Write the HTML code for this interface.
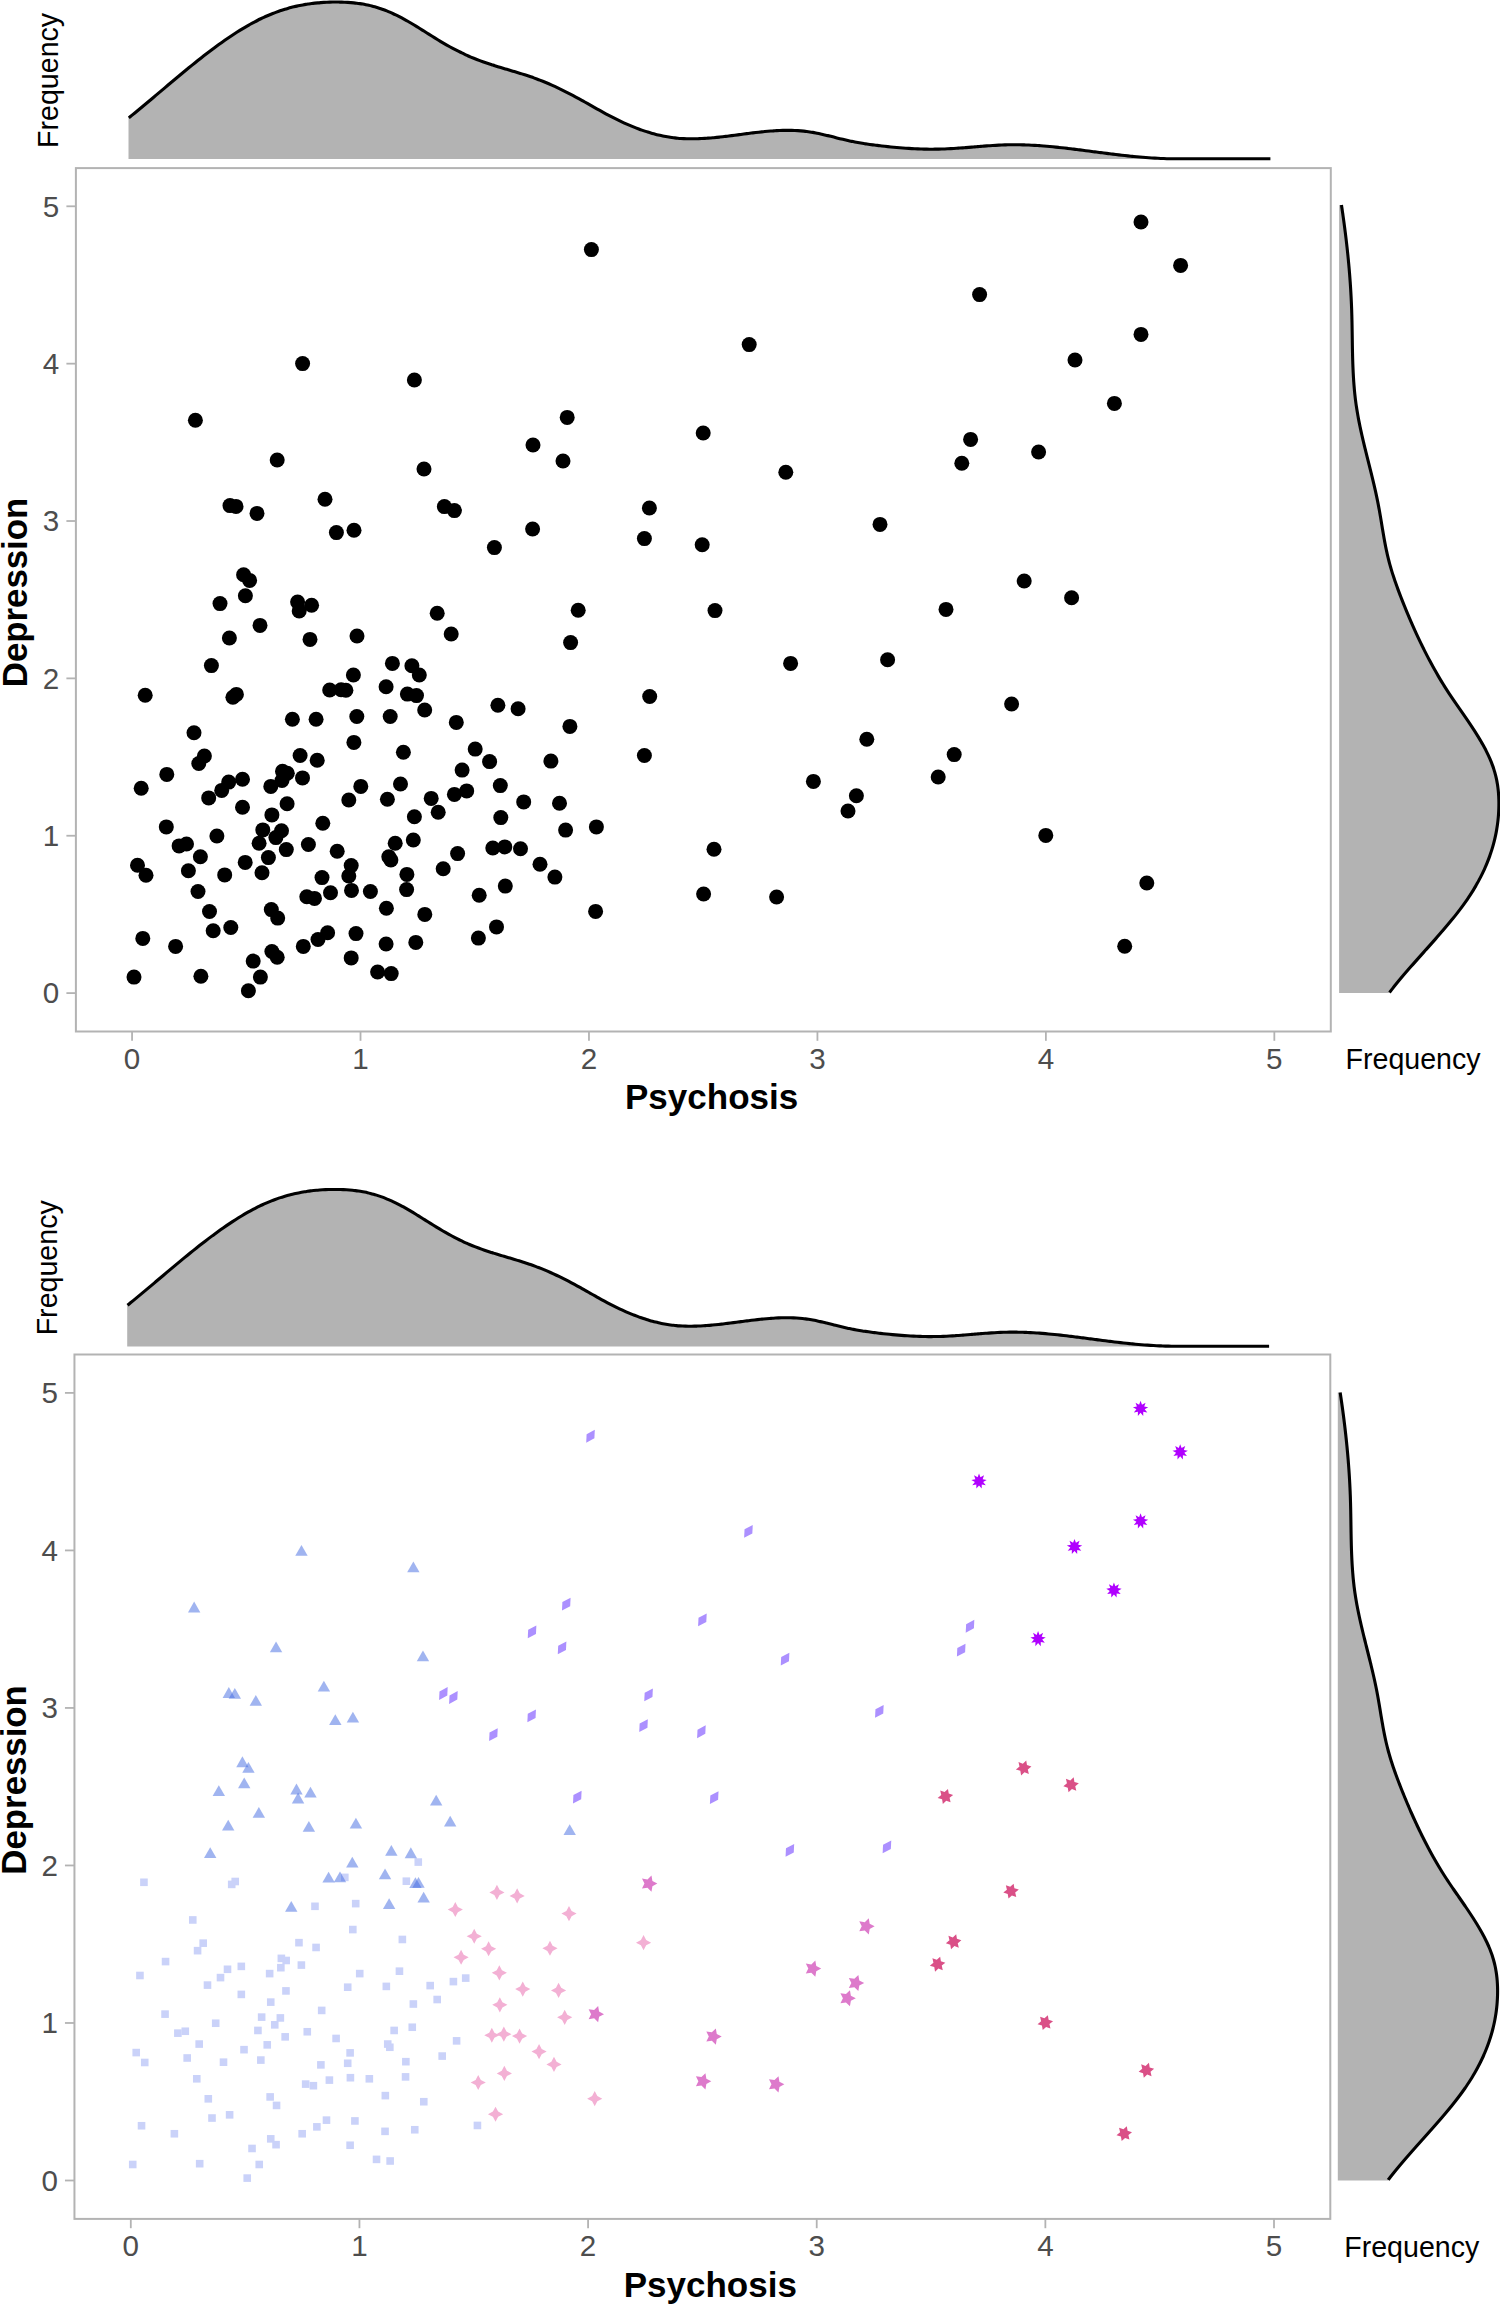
<!DOCTYPE html><html><head><meta charset="utf-8"><title>Psychosis vs Depression</title><style>html,body{margin:0;padding:0;background:#fff;overflow:hidden;}svg{display:block;}</style></head><body>
<svg width="1500" height="2304" viewBox="0 0 1500 2304">
<rect width="1500" height="2304" fill="#fff"/>
<g transform="translate(0,0)">
<path d="M128.80,117.86 C129.30,117.45 130.80,116.24 131.80,115.42 C132.80,114.60 133.80,113.78 134.80,112.96 C135.80,112.14 136.80,111.32 137.80,110.49 C138.80,109.66 139.80,108.83 140.80,108.00 C141.80,107.17 142.80,106.34 143.80,105.50 C144.80,104.66 145.80,103.83 146.80,102.99 C147.80,102.15 148.80,101.31 149.80,100.47 C150.80,99.63 151.80,98.79 152.80,97.95 C153.80,97.11 154.80,96.27 155.80,95.42 C156.80,94.58 157.80,93.72 158.80,92.88 C159.80,92.03 160.80,91.19 161.80,90.35 C162.80,89.51 163.80,88.66 164.80,87.82 C165.80,86.97 166.80,86.12 167.80,85.28 C168.80,84.44 169.80,83.60 170.80,82.76 C171.80,81.92 172.80,81.08 173.80,80.24 C174.80,79.40 175.80,78.56 176.80,77.73 C177.80,76.90 178.80,76.06 179.80,75.23 C180.80,74.40 181.80,73.57 182.80,72.74 C183.80,71.91 184.80,71.09 185.80,70.27 C186.80,69.45 187.80,68.63 188.80,67.81 C189.80,66.99 190.80,66.18 191.80,65.37 C192.80,64.56 193.80,63.75 194.80,62.95 C195.80,62.15 196.80,61.35 197.80,60.56 C198.80,59.77 199.80,58.98 200.80,58.19 C201.80,57.40 202.80,56.62 203.80,55.84 C204.80,55.06 205.80,54.29 206.80,53.52 C207.80,52.75 208.80,51.99 209.80,51.23 C210.80,50.47 211.80,49.73 212.80,48.98 C213.80,48.23 214.80,47.48 215.80,46.75 C216.80,46.02 217.80,45.29 218.80,44.57 C219.80,43.85 220.80,43.13 221.80,42.42 C222.80,41.71 223.80,41.01 224.80,40.31 C225.80,39.61 226.80,38.92 227.80,38.24 C228.80,37.56 229.80,36.88 230.80,36.21 C231.80,35.54 232.80,34.88 233.80,34.23 C234.80,33.58 235.80,32.94 236.80,32.30 C237.80,31.66 238.80,31.03 239.80,30.41 C240.80,29.79 241.80,29.18 242.80,28.58 C243.80,27.98 244.80,27.39 245.80,26.80 C246.80,26.21 247.80,25.64 248.80,25.07 C249.80,24.50 250.80,23.95 251.80,23.41 C252.80,22.87 253.80,22.33 254.80,21.80 C255.80,21.27 256.80,20.76 257.80,20.25 C258.80,19.74 259.80,19.25 260.80,18.76 C261.80,18.28 262.80,17.80 263.80,17.34 C264.80,16.88 265.80,16.42 266.80,15.98 C267.80,15.54 268.80,15.12 269.80,14.70 C270.80,14.28 271.80,13.88 272.80,13.48 C273.80,13.09 274.80,12.70 275.80,12.33 C276.80,11.96 277.80,11.60 278.80,11.25 C279.80,10.90 280.80,10.57 281.80,10.24 C282.80,9.91 283.80,9.59 284.80,9.29 C285.80,8.98 286.80,8.69 287.80,8.41 C288.80,8.13 289.80,7.85 290.80,7.59 C291.80,7.33 292.80,7.07 293.80,6.83 C294.80,6.59 295.80,6.35 296.80,6.13 C297.80,5.91 298.80,5.70 299.80,5.50 C300.80,5.30 301.80,5.11 302.80,4.92 C303.80,4.73 304.80,4.55 305.80,4.39 C306.80,4.22 307.80,4.08 308.80,3.93 C309.80,3.78 310.80,3.64 311.80,3.51 C312.80,3.38 313.80,3.27 314.80,3.16 C315.80,3.05 316.80,2.95 317.80,2.85 C318.80,2.75 319.80,2.67 320.80,2.59 C321.80,2.51 322.80,2.45 323.80,2.39 C324.80,2.33 325.80,2.27 326.80,2.23 C327.80,2.19 328.80,2.15 329.80,2.12 C330.80,2.09 331.80,2.06 332.80,2.05 C333.80,2.03 334.80,2.03 335.80,2.03 C336.80,2.03 337.80,2.04 338.80,2.06 C339.80,2.08 340.80,2.09 341.80,2.12 C342.80,2.15 343.80,2.19 344.80,2.23 C345.80,2.27 346.80,2.33 347.80,2.39 C348.80,2.45 349.80,2.52 350.80,2.60 C351.80,2.68 352.80,2.78 353.80,2.88 C354.80,2.98 355.80,3.09 356.80,3.21 C357.80,3.33 358.80,3.47 359.80,3.62 C360.80,3.77 361.80,3.92 362.80,4.09 C363.80,4.26 364.80,4.45 365.80,4.65 C366.80,4.85 367.80,5.05 368.80,5.28 C369.80,5.51 370.80,5.75 371.80,6.01 C372.80,6.27 373.80,6.54 374.80,6.82 C375.80,7.11 376.80,7.41 377.80,7.72 C378.80,8.03 379.80,8.36 380.80,8.70 C381.80,9.04 382.80,9.40 383.80,9.77 C384.80,10.14 385.80,10.53 386.80,10.93 C387.80,11.33 388.80,11.74 389.80,12.17 C390.80,12.60 391.80,13.03 392.80,13.48 C393.80,13.93 394.80,14.40 395.80,14.88 C396.80,15.36 397.80,15.85 398.80,16.36 C399.80,16.87 400.80,17.39 401.80,17.92 C402.80,18.45 403.80,19.00 404.80,19.55 C405.80,20.10 406.80,20.67 407.80,21.24 C408.80,21.81 409.80,22.40 410.80,22.99 C411.80,23.58 412.80,24.18 413.80,24.78 C414.80,25.39 415.80,26.00 416.80,26.62 C417.80,27.24 418.80,27.86 419.80,28.48 C420.80,29.10 421.80,29.73 422.80,30.36 C423.80,30.99 424.80,31.62 425.80,32.25 C426.80,32.88 427.80,33.51 428.80,34.14 C429.80,34.77 430.80,35.40 431.80,36.02 C432.80,36.65 433.80,37.27 434.80,37.89 C435.80,38.51 436.80,39.13 437.80,39.74 C438.80,40.35 439.80,40.95 440.80,41.55 C441.80,42.15 442.80,42.74 443.80,43.32 C444.80,43.90 445.80,44.48 446.80,45.05 C447.80,45.62 448.80,46.18 449.80,46.73 C450.80,47.28 451.80,47.82 452.80,48.36 C453.80,48.90 454.80,49.43 455.80,49.95 C456.80,50.47 457.80,50.98 458.80,51.48 C459.80,51.98 460.80,52.48 461.80,52.96 C462.80,53.45 463.80,53.92 464.80,54.39 C465.80,54.86 466.80,55.30 467.80,55.75 C468.80,56.20 469.80,56.64 470.80,57.06 C471.80,57.48 472.80,57.89 473.80,58.30 C474.80,58.70 475.80,59.10 476.80,59.49 C477.80,59.88 478.80,60.26 479.80,60.63 C480.80,61.00 481.80,61.36 482.80,61.72 C483.80,62.08 484.80,62.43 485.80,62.77 C486.80,63.11 487.80,63.45 488.80,63.78 C489.80,64.11 490.80,64.44 491.80,64.76 C492.80,65.08 493.80,65.41 494.80,65.72 C495.80,66.03 496.80,66.34 497.80,66.65 C498.80,66.96 499.80,67.26 500.80,67.56 C501.80,67.86 502.80,68.17 503.80,68.47 C504.80,68.77 505.80,69.06 506.80,69.36 C507.80,69.66 508.80,69.95 509.80,70.25 C510.80,70.55 511.80,70.84 512.80,71.14 C513.80,71.44 514.80,71.75 515.80,72.05 C516.80,72.35 517.80,72.65 518.80,72.96 C519.80,73.27 520.80,73.58 521.80,73.89 C522.80,74.20 523.80,74.52 524.80,74.84 C525.80,75.16 526.80,75.48 527.80,75.81 C528.80,76.14 529.80,76.48 530.80,76.82 C531.80,77.16 532.80,77.50 533.80,77.86 C534.80,78.22 535.80,78.58 536.80,78.95 C537.80,79.32 538.80,79.69 539.80,80.08 C540.80,80.47 541.80,80.86 542.80,81.26 C543.80,81.66 544.80,82.07 545.80,82.49 C546.80,82.91 547.80,83.33 548.80,83.76 C549.80,84.19 550.80,84.63 551.80,85.08 C552.80,85.53 553.80,85.99 554.80,86.45 C555.80,86.91 556.80,87.38 557.80,87.85 C558.80,88.32 559.80,88.80 560.80,89.29 C561.80,89.78 562.80,90.27 563.80,90.77 C564.80,91.27 565.80,91.78 566.80,92.29 C567.80,92.80 568.80,93.32 569.80,93.84 C570.80,94.36 571.80,94.89 572.80,95.42 C573.80,95.95 574.80,96.48 575.80,97.02 C576.80,97.56 577.80,98.11 578.80,98.66 C579.80,99.21 580.80,99.76 581.80,100.32 C582.80,100.88 583.80,101.44 584.80,102.00 C585.80,102.56 586.80,103.12 587.80,103.69 C588.80,104.25 589.80,104.82 590.80,105.39 C591.80,105.96 592.80,106.53 593.80,107.09 C594.80,107.66 595.80,108.22 596.80,108.78 C597.80,109.34 598.80,109.91 599.80,110.47 C600.80,111.03 601.80,111.58 602.80,112.13 C603.80,112.68 604.80,113.23 605.80,113.77 C606.80,114.31 607.80,114.85 608.80,115.38 C609.80,115.91 610.80,116.43 611.80,116.95 C612.80,117.47 613.80,117.98 614.80,118.48 C615.80,118.98 616.80,119.47 617.80,119.96 C618.80,120.45 619.80,120.93 620.80,121.40 C621.80,121.87 622.80,122.34 623.80,122.80 C624.80,123.26 625.80,123.71 626.80,124.15 C627.80,124.59 628.80,125.02 629.80,125.44 C630.80,125.86 631.80,126.28 632.80,126.69 C633.80,127.10 634.80,127.49 635.80,127.88 C636.80,128.27 637.80,128.65 638.80,129.02 C639.80,129.39 640.80,129.76 641.80,130.11 C642.80,130.46 643.80,130.80 644.80,131.13 C645.80,131.46 646.80,131.79 647.80,132.10 C648.80,132.41 649.80,132.72 650.80,133.01 C651.80,133.30 652.80,133.58 653.80,133.85 C654.80,134.12 655.80,134.38 656.80,134.63 C657.80,134.88 658.80,135.12 659.80,135.35 C660.80,135.58 661.80,135.79 662.80,136.00 C663.80,136.21 664.80,136.40 665.80,136.58 C666.80,136.76 667.80,136.93 668.80,137.09 C669.80,137.25 670.80,137.39 671.80,137.52 C672.80,137.65 673.80,137.78 674.80,137.89 C675.80,138.00 676.80,138.10 677.80,138.19 C678.80,138.28 679.80,138.36 680.80,138.43 C681.80,138.50 682.80,138.55 683.80,138.60 C684.80,138.65 685.80,138.69 686.80,138.72 C687.80,138.75 688.80,138.77 689.80,138.78 C690.80,138.79 691.80,138.79 692.80,138.79 C693.80,138.78 694.80,138.77 695.80,138.75 C696.80,138.73 697.80,138.70 698.80,138.67 C699.80,138.63 700.80,138.59 701.80,138.54 C702.80,138.49 703.80,138.44 704.80,138.38 C705.80,138.32 706.80,138.24 707.80,138.17 C708.80,138.10 709.80,138.02 710.80,137.94 C711.80,137.86 712.80,137.76 713.80,137.67 C714.80,137.58 715.80,137.48 716.80,137.38 C717.80,137.28 718.80,137.17 719.80,137.06 C720.80,136.95 721.80,136.84 722.80,136.72 C723.80,136.60 724.80,136.49 725.80,136.37 C726.80,136.25 727.80,136.12 728.80,136.00 C729.80,135.88 730.80,135.75 731.80,135.62 C732.80,135.49 733.80,135.36 734.80,135.23 C735.80,135.10 736.80,134.97 737.80,134.84 C738.80,134.71 739.80,134.57 740.80,134.44 C741.80,134.31 742.80,134.17 743.80,134.04 C744.80,133.91 745.80,133.78 746.80,133.65 C747.80,133.52 748.80,133.40 749.80,133.27 C750.80,133.15 751.80,133.02 752.80,132.90 C753.80,132.78 754.80,132.66 755.80,132.54 C756.80,132.42 757.80,132.30 758.80,132.19 C759.80,132.08 760.80,131.97 761.80,131.87 C762.80,131.77 763.80,131.67 764.80,131.57 C765.80,131.47 766.80,131.38 767.80,131.29 C768.80,131.20 769.80,131.12 770.80,131.05 C771.80,130.98 772.80,130.91 773.80,130.84 C774.80,130.78 775.80,130.71 776.80,130.66 C777.80,130.61 778.80,130.56 779.80,130.52 C780.80,130.48 781.80,130.44 782.80,130.42 C783.80,130.39 784.80,130.38 785.80,130.37 C786.80,130.36 787.80,130.36 788.80,130.36 C789.80,130.37 790.80,130.38 791.80,130.40 C792.80,130.42 793.80,130.46 794.80,130.50 C795.80,130.54 796.80,130.60 797.80,130.66 C798.80,130.72 799.80,130.80 800.80,130.88 C801.80,130.96 802.80,131.06 803.80,131.16 C804.80,131.26 805.80,131.37 806.80,131.50 C807.80,131.63 808.80,131.77 809.80,131.92 C810.80,132.07 811.80,132.23 812.80,132.40 C813.80,132.57 814.80,132.76 815.80,132.95 C816.80,133.14 817.80,133.35 818.80,133.56 C819.80,133.77 820.80,134.00 821.80,134.22 C822.80,134.44 823.80,134.68 824.80,134.91 C825.80,135.14 826.80,135.39 827.80,135.63 C828.80,135.87 829.80,136.12 830.80,136.37 C831.80,136.62 832.80,136.87 833.80,137.12 C834.80,137.37 835.80,137.63 836.80,137.88 C837.80,138.13 838.80,138.38 839.80,138.63 C840.80,138.88 841.80,139.13 842.80,139.37 C843.80,139.61 844.80,139.85 845.80,140.08 C846.80,140.31 847.80,140.54 848.80,140.76 C849.80,140.98 850.80,141.18 851.80,141.39 C852.80,141.59 853.80,141.80 854.80,141.99 C855.80,142.18 856.80,142.36 857.80,142.54 C858.80,142.72 859.80,142.89 860.80,143.06 C861.80,143.23 862.80,143.39 863.80,143.55 C864.80,143.71 865.80,143.85 866.80,144.00 C867.80,144.15 868.80,144.29 869.80,144.43 C870.80,144.57 871.80,144.71 872.80,144.84 C873.80,144.97 874.80,145.09 875.80,145.22 C876.80,145.34 877.80,145.47 878.80,145.59 C879.80,145.71 880.80,145.82 881.80,145.94 C882.80,146.06 883.80,146.17 884.80,146.28 C885.80,146.39 886.80,146.50 887.80,146.61 C888.80,146.72 889.80,146.82 890.80,146.92 C891.80,147.02 892.80,147.12 893.80,147.21 C894.80,147.31 895.80,147.40 896.80,147.49 C897.80,147.58 898.80,147.67 899.80,147.75 C900.80,147.83 901.80,147.91 902.80,147.99 C903.80,148.07 904.80,148.14 905.80,148.21 C906.80,148.28 907.80,148.35 908.80,148.41 C909.80,148.47 910.80,148.53 911.80,148.59 C912.80,148.65 913.80,148.70 914.80,148.75 C915.80,148.80 916.80,148.84 917.80,148.88 C918.80,148.92 919.80,148.96 920.80,148.99 C921.80,149.02 922.80,149.06 923.80,149.08 C924.80,149.11 925.80,149.12 926.80,149.14 C927.80,149.16 928.80,149.17 929.80,149.18 C930.80,149.19 931.80,149.18 932.80,149.18 C933.80,149.18 934.80,149.17 935.80,149.16 C936.80,149.15 937.80,149.13 938.80,149.11 C939.80,149.09 940.80,149.07 941.80,149.04 C942.80,149.01 943.80,148.97 944.80,148.93 C945.80,148.89 946.80,148.84 947.80,148.79 C948.80,148.74 949.80,148.69 950.80,148.64 C951.80,148.58 952.80,148.52 953.80,148.46 C954.80,148.40 955.80,148.33 956.80,148.26 C957.80,148.19 958.80,148.12 959.80,148.05 C960.80,147.98 961.80,147.91 962.80,147.83 C963.80,147.75 964.80,147.68 965.80,147.60 C966.80,147.52 967.80,147.44 968.80,147.36 C969.80,147.28 970.80,147.20 971.80,147.12 C972.80,147.04 973.80,146.95 974.80,146.87 C975.80,146.79 976.80,146.70 977.80,146.62 C978.80,146.54 979.80,146.46 980.80,146.38 C981.80,146.30 982.80,146.23 983.80,146.15 C984.80,146.07 985.80,145.99 986.80,145.92 C987.80,145.85 988.80,145.78 989.80,145.71 C990.80,145.64 991.80,145.57 992.80,145.51 C993.80,145.45 994.80,145.39 995.80,145.33 C996.80,145.27 997.80,145.21 998.80,145.16 C999.80,145.11 1000.80,145.06 1001.80,145.02 C1002.80,144.98 1003.80,144.94 1004.80,144.91 C1005.80,144.88 1006.80,144.84 1007.80,144.82 C1008.80,144.80 1009.80,144.78 1010.80,144.77 C1011.80,144.76 1012.80,144.74 1013.80,144.74 C1014.80,144.74 1015.80,144.74 1016.80,144.75 C1017.80,144.76 1018.80,144.76 1019.80,144.78 C1020.80,144.80 1021.80,144.82 1022.80,144.85 C1023.80,144.88 1024.80,144.91 1025.80,144.94 C1026.80,144.97 1027.80,145.02 1028.80,145.06 C1029.80,145.10 1030.80,145.15 1031.80,145.20 C1032.80,145.25 1033.80,145.31 1034.80,145.37 C1035.80,145.43 1036.80,145.49 1037.80,145.56 C1038.80,145.63 1039.80,145.70 1040.80,145.77 C1041.80,145.84 1042.80,145.92 1043.80,146.00 C1044.80,146.08 1045.80,146.16 1046.80,146.25 C1047.80,146.34 1048.80,146.43 1049.80,146.52 C1050.80,146.61 1051.80,146.70 1052.80,146.80 C1053.80,146.90 1054.80,147.00 1055.80,147.10 C1056.80,147.20 1057.80,147.31 1058.80,147.42 C1059.80,147.53 1060.80,147.64 1061.80,147.75 C1062.80,147.86 1063.80,147.97 1064.80,148.08 C1065.80,148.19 1066.80,148.31 1067.80,148.43 C1068.80,148.55 1069.80,148.67 1070.80,148.79 C1071.80,148.91 1072.80,149.04 1073.80,149.16 C1074.80,149.28 1075.80,149.41 1076.80,149.53 C1077.80,149.66 1078.80,149.78 1079.80,149.91 C1080.80,150.04 1081.80,150.17 1082.80,150.30 C1083.80,150.43 1084.80,150.55 1085.80,150.68 C1086.80,150.81 1087.80,150.94 1088.80,151.07 C1089.80,151.20 1090.80,151.34 1091.80,151.47 C1092.80,151.60 1093.80,151.73 1094.80,151.86 C1095.80,151.99 1096.80,152.12 1097.80,152.25 C1098.80,152.38 1099.80,152.51 1100.80,152.64 C1101.80,152.77 1102.80,152.89 1103.80,153.02 C1104.80,153.15 1105.80,153.28 1106.80,153.41 C1107.80,153.54 1108.80,153.66 1109.80,153.79 C1110.80,153.91 1111.80,154.04 1112.80,154.16 C1113.80,154.28 1114.80,154.40 1115.80,154.52 C1116.80,154.64 1117.80,154.76 1118.80,154.88 C1119.80,155.00 1120.80,155.12 1121.80,155.23 C1122.80,155.34 1123.80,155.45 1124.80,155.56 C1125.80,155.67 1126.80,155.78 1127.80,155.89 C1128.80,156.00 1129.80,156.10 1130.80,156.20 C1131.80,156.30 1132.80,156.40 1133.80,156.50 C1134.80,156.60 1135.80,156.70 1136.80,156.79 C1137.80,156.88 1138.80,156.97 1139.80,157.06 C1140.80,157.15 1141.80,157.23 1142.80,157.31 C1143.80,157.39 1144.80,157.47 1145.80,157.55 C1146.80,157.63 1147.80,157.70 1148.80,157.77 C1149.80,157.84 1150.80,157.90 1151.80,157.96 C1152.80,158.02 1153.80,158.08 1154.80,158.14 C1155.80,158.20 1156.80,158.25 1157.80,158.30 C1158.80,158.35 1159.80,158.40 1160.80,158.44 C1161.80,158.48 1162.80,158.53 1163.80,158.57 C1164.80,158.61 1165.80,158.65 1166.80,158.68 C1167.80,158.71 1168.80,158.75 1169.80,158.77 C1170.80,158.79 1171.80,158.80 1172.80,158.80 C1173.80,158.81 1174.80,158.80 1175.80,158.80 C1176.80,158.80 1177.80,158.80 1178.80,158.80 C1179.80,158.80 1180.80,158.80 1181.80,158.80 C1182.80,158.80 1183.80,158.80 1184.80,158.80 C1185.80,158.80 1186.80,158.80 1187.80,158.80 C1188.80,158.80 1189.80,158.80 1190.80,158.80 C1191.80,158.80 1192.80,158.80 1193.80,158.80 C1194.80,158.80 1195.80,158.80 1196.80,158.80 C1197.80,158.80 1198.80,158.80 1199.80,158.80 C1200.80,158.80 1201.80,158.80 1202.80,158.80 C1203.80,158.80 1204.80,158.80 1205.80,158.80 C1206.80,158.80 1207.80,158.80 1208.80,158.80 C1209.80,158.80 1210.80,158.80 1211.80,158.80 C1212.80,158.80 1213.80,158.80 1214.80,158.80 C1215.80,158.80 1216.80,158.80 1217.80,158.80 C1218.80,158.80 1219.80,158.80 1220.80,158.80 C1221.80,158.80 1222.80,158.80 1223.80,158.80 C1224.80,158.80 1225.80,158.80 1226.80,158.80 C1227.80,158.80 1228.80,158.80 1229.80,158.80 C1230.80,158.80 1231.80,158.80 1232.80,158.80 C1233.80,158.80 1234.80,158.80 1235.80,158.80 C1236.80,158.80 1237.80,158.80 1238.80,158.80 C1239.80,158.80 1240.80,158.80 1241.80,158.80 C1242.80,158.80 1243.80,158.80 1244.80,158.80 C1245.80,158.80 1246.80,158.80 1247.80,158.80 C1248.80,158.80 1249.80,158.80 1250.80,158.80 C1251.80,158.80 1252.80,158.80 1253.80,158.80 C1254.80,158.80 1255.80,158.80 1256.80,158.80 C1257.80,158.80 1258.80,158.80 1259.80,158.80 C1260.80,158.80 1261.80,158.80 1262.80,158.80 C1263.80,158.80 1264.80,158.80 1265.80,158.80 C1266.80,158.80 1268.03,158.80 1268.80,158.80 C1269.57,158.80 1270.13,158.80 1270.40,158.80 L1270.40,159 L128.5,159 L128.5,118.36 Z" fill="#B3B3B3"/>
<path d="M128.80,117.86 C129.30,117.45 130.80,116.24 131.80,115.42 C132.80,114.60 133.80,113.78 134.80,112.96 C135.80,112.14 136.80,111.32 137.80,110.49 C138.80,109.66 139.80,108.83 140.80,108.00 C141.80,107.17 142.80,106.34 143.80,105.50 C144.80,104.66 145.80,103.83 146.80,102.99 C147.80,102.15 148.80,101.31 149.80,100.47 C150.80,99.63 151.80,98.79 152.80,97.95 C153.80,97.11 154.80,96.27 155.80,95.42 C156.80,94.58 157.80,93.72 158.80,92.88 C159.80,92.03 160.80,91.19 161.80,90.35 C162.80,89.51 163.80,88.66 164.80,87.82 C165.80,86.97 166.80,86.12 167.80,85.28 C168.80,84.44 169.80,83.60 170.80,82.76 C171.80,81.92 172.80,81.08 173.80,80.24 C174.80,79.40 175.80,78.56 176.80,77.73 C177.80,76.90 178.80,76.06 179.80,75.23 C180.80,74.40 181.80,73.57 182.80,72.74 C183.80,71.91 184.80,71.09 185.80,70.27 C186.80,69.45 187.80,68.63 188.80,67.81 C189.80,66.99 190.80,66.18 191.80,65.37 C192.80,64.56 193.80,63.75 194.80,62.95 C195.80,62.15 196.80,61.35 197.80,60.56 C198.80,59.77 199.80,58.98 200.80,58.19 C201.80,57.40 202.80,56.62 203.80,55.84 C204.80,55.06 205.80,54.29 206.80,53.52 C207.80,52.75 208.80,51.99 209.80,51.23 C210.80,50.47 211.80,49.73 212.80,48.98 C213.80,48.23 214.80,47.48 215.80,46.75 C216.80,46.02 217.80,45.29 218.80,44.57 C219.80,43.85 220.80,43.13 221.80,42.42 C222.80,41.71 223.80,41.01 224.80,40.31 C225.80,39.61 226.80,38.92 227.80,38.24 C228.80,37.56 229.80,36.88 230.80,36.21 C231.80,35.54 232.80,34.88 233.80,34.23 C234.80,33.58 235.80,32.94 236.80,32.30 C237.80,31.66 238.80,31.03 239.80,30.41 C240.80,29.79 241.80,29.18 242.80,28.58 C243.80,27.98 244.80,27.39 245.80,26.80 C246.80,26.21 247.80,25.64 248.80,25.07 C249.80,24.50 250.80,23.95 251.80,23.41 C252.80,22.87 253.80,22.33 254.80,21.80 C255.80,21.27 256.80,20.76 257.80,20.25 C258.80,19.74 259.80,19.25 260.80,18.76 C261.80,18.28 262.80,17.80 263.80,17.34 C264.80,16.88 265.80,16.42 266.80,15.98 C267.80,15.54 268.80,15.12 269.80,14.70 C270.80,14.28 271.80,13.88 272.80,13.48 C273.80,13.09 274.80,12.70 275.80,12.33 C276.80,11.96 277.80,11.60 278.80,11.25 C279.80,10.90 280.80,10.57 281.80,10.24 C282.80,9.91 283.80,9.59 284.80,9.29 C285.80,8.98 286.80,8.69 287.80,8.41 C288.80,8.13 289.80,7.85 290.80,7.59 C291.80,7.33 292.80,7.07 293.80,6.83 C294.80,6.59 295.80,6.35 296.80,6.13 C297.80,5.91 298.80,5.70 299.80,5.50 C300.80,5.30 301.80,5.11 302.80,4.92 C303.80,4.73 304.80,4.55 305.80,4.39 C306.80,4.22 307.80,4.08 308.80,3.93 C309.80,3.78 310.80,3.64 311.80,3.51 C312.80,3.38 313.80,3.27 314.80,3.16 C315.80,3.05 316.80,2.95 317.80,2.85 C318.80,2.75 319.80,2.67 320.80,2.59 C321.80,2.51 322.80,2.45 323.80,2.39 C324.80,2.33 325.80,2.27 326.80,2.23 C327.80,2.19 328.80,2.15 329.80,2.12 C330.80,2.09 331.80,2.06 332.80,2.05 C333.80,2.03 334.80,2.03 335.80,2.03 C336.80,2.03 337.80,2.04 338.80,2.06 C339.80,2.08 340.80,2.09 341.80,2.12 C342.80,2.15 343.80,2.19 344.80,2.23 C345.80,2.27 346.80,2.33 347.80,2.39 C348.80,2.45 349.80,2.52 350.80,2.60 C351.80,2.68 352.80,2.78 353.80,2.88 C354.80,2.98 355.80,3.09 356.80,3.21 C357.80,3.33 358.80,3.47 359.80,3.62 C360.80,3.77 361.80,3.92 362.80,4.09 C363.80,4.26 364.80,4.45 365.80,4.65 C366.80,4.85 367.80,5.05 368.80,5.28 C369.80,5.51 370.80,5.75 371.80,6.01 C372.80,6.27 373.80,6.54 374.80,6.82 C375.80,7.11 376.80,7.41 377.80,7.72 C378.80,8.03 379.80,8.36 380.80,8.70 C381.80,9.04 382.80,9.40 383.80,9.77 C384.80,10.14 385.80,10.53 386.80,10.93 C387.80,11.33 388.80,11.74 389.80,12.17 C390.80,12.60 391.80,13.03 392.80,13.48 C393.80,13.93 394.80,14.40 395.80,14.88 C396.80,15.36 397.80,15.85 398.80,16.36 C399.80,16.87 400.80,17.39 401.80,17.92 C402.80,18.45 403.80,19.00 404.80,19.55 C405.80,20.10 406.80,20.67 407.80,21.24 C408.80,21.81 409.80,22.40 410.80,22.99 C411.80,23.58 412.80,24.18 413.80,24.78 C414.80,25.39 415.80,26.00 416.80,26.62 C417.80,27.24 418.80,27.86 419.80,28.48 C420.80,29.10 421.80,29.73 422.80,30.36 C423.80,30.99 424.80,31.62 425.80,32.25 C426.80,32.88 427.80,33.51 428.80,34.14 C429.80,34.77 430.80,35.40 431.80,36.02 C432.80,36.65 433.80,37.27 434.80,37.89 C435.80,38.51 436.80,39.13 437.80,39.74 C438.80,40.35 439.80,40.95 440.80,41.55 C441.80,42.15 442.80,42.74 443.80,43.32 C444.80,43.90 445.80,44.48 446.80,45.05 C447.80,45.62 448.80,46.18 449.80,46.73 C450.80,47.28 451.80,47.82 452.80,48.36 C453.80,48.90 454.80,49.43 455.80,49.95 C456.80,50.47 457.80,50.98 458.80,51.48 C459.80,51.98 460.80,52.48 461.80,52.96 C462.80,53.45 463.80,53.92 464.80,54.39 C465.80,54.86 466.80,55.30 467.80,55.75 C468.80,56.20 469.80,56.64 470.80,57.06 C471.80,57.48 472.80,57.89 473.80,58.30 C474.80,58.70 475.80,59.10 476.80,59.49 C477.80,59.88 478.80,60.26 479.80,60.63 C480.80,61.00 481.80,61.36 482.80,61.72 C483.80,62.08 484.80,62.43 485.80,62.77 C486.80,63.11 487.80,63.45 488.80,63.78 C489.80,64.11 490.80,64.44 491.80,64.76 C492.80,65.08 493.80,65.41 494.80,65.72 C495.80,66.03 496.80,66.34 497.80,66.65 C498.80,66.96 499.80,67.26 500.80,67.56 C501.80,67.86 502.80,68.17 503.80,68.47 C504.80,68.77 505.80,69.06 506.80,69.36 C507.80,69.66 508.80,69.95 509.80,70.25 C510.80,70.55 511.80,70.84 512.80,71.14 C513.80,71.44 514.80,71.75 515.80,72.05 C516.80,72.35 517.80,72.65 518.80,72.96 C519.80,73.27 520.80,73.58 521.80,73.89 C522.80,74.20 523.80,74.52 524.80,74.84 C525.80,75.16 526.80,75.48 527.80,75.81 C528.80,76.14 529.80,76.48 530.80,76.82 C531.80,77.16 532.80,77.50 533.80,77.86 C534.80,78.22 535.80,78.58 536.80,78.95 C537.80,79.32 538.80,79.69 539.80,80.08 C540.80,80.47 541.80,80.86 542.80,81.26 C543.80,81.66 544.80,82.07 545.80,82.49 C546.80,82.91 547.80,83.33 548.80,83.76 C549.80,84.19 550.80,84.63 551.80,85.08 C552.80,85.53 553.80,85.99 554.80,86.45 C555.80,86.91 556.80,87.38 557.80,87.85 C558.80,88.32 559.80,88.80 560.80,89.29 C561.80,89.78 562.80,90.27 563.80,90.77 C564.80,91.27 565.80,91.78 566.80,92.29 C567.80,92.80 568.80,93.32 569.80,93.84 C570.80,94.36 571.80,94.89 572.80,95.42 C573.80,95.95 574.80,96.48 575.80,97.02 C576.80,97.56 577.80,98.11 578.80,98.66 C579.80,99.21 580.80,99.76 581.80,100.32 C582.80,100.88 583.80,101.44 584.80,102.00 C585.80,102.56 586.80,103.12 587.80,103.69 C588.80,104.25 589.80,104.82 590.80,105.39 C591.80,105.96 592.80,106.53 593.80,107.09 C594.80,107.66 595.80,108.22 596.80,108.78 C597.80,109.34 598.80,109.91 599.80,110.47 C600.80,111.03 601.80,111.58 602.80,112.13 C603.80,112.68 604.80,113.23 605.80,113.77 C606.80,114.31 607.80,114.85 608.80,115.38 C609.80,115.91 610.80,116.43 611.80,116.95 C612.80,117.47 613.80,117.98 614.80,118.48 C615.80,118.98 616.80,119.47 617.80,119.96 C618.80,120.45 619.80,120.93 620.80,121.40 C621.80,121.87 622.80,122.34 623.80,122.80 C624.80,123.26 625.80,123.71 626.80,124.15 C627.80,124.59 628.80,125.02 629.80,125.44 C630.80,125.86 631.80,126.28 632.80,126.69 C633.80,127.10 634.80,127.49 635.80,127.88 C636.80,128.27 637.80,128.65 638.80,129.02 C639.80,129.39 640.80,129.76 641.80,130.11 C642.80,130.46 643.80,130.80 644.80,131.13 C645.80,131.46 646.80,131.79 647.80,132.10 C648.80,132.41 649.80,132.72 650.80,133.01 C651.80,133.30 652.80,133.58 653.80,133.85 C654.80,134.12 655.80,134.38 656.80,134.63 C657.80,134.88 658.80,135.12 659.80,135.35 C660.80,135.58 661.80,135.79 662.80,136.00 C663.80,136.21 664.80,136.40 665.80,136.58 C666.80,136.76 667.80,136.93 668.80,137.09 C669.80,137.25 670.80,137.39 671.80,137.52 C672.80,137.65 673.80,137.78 674.80,137.89 C675.80,138.00 676.80,138.10 677.80,138.19 C678.80,138.28 679.80,138.36 680.80,138.43 C681.80,138.50 682.80,138.55 683.80,138.60 C684.80,138.65 685.80,138.69 686.80,138.72 C687.80,138.75 688.80,138.77 689.80,138.78 C690.80,138.79 691.80,138.79 692.80,138.79 C693.80,138.78 694.80,138.77 695.80,138.75 C696.80,138.73 697.80,138.70 698.80,138.67 C699.80,138.63 700.80,138.59 701.80,138.54 C702.80,138.49 703.80,138.44 704.80,138.38 C705.80,138.32 706.80,138.24 707.80,138.17 C708.80,138.10 709.80,138.02 710.80,137.94 C711.80,137.86 712.80,137.76 713.80,137.67 C714.80,137.58 715.80,137.48 716.80,137.38 C717.80,137.28 718.80,137.17 719.80,137.06 C720.80,136.95 721.80,136.84 722.80,136.72 C723.80,136.60 724.80,136.49 725.80,136.37 C726.80,136.25 727.80,136.12 728.80,136.00 C729.80,135.88 730.80,135.75 731.80,135.62 C732.80,135.49 733.80,135.36 734.80,135.23 C735.80,135.10 736.80,134.97 737.80,134.84 C738.80,134.71 739.80,134.57 740.80,134.44 C741.80,134.31 742.80,134.17 743.80,134.04 C744.80,133.91 745.80,133.78 746.80,133.65 C747.80,133.52 748.80,133.40 749.80,133.27 C750.80,133.15 751.80,133.02 752.80,132.90 C753.80,132.78 754.80,132.66 755.80,132.54 C756.80,132.42 757.80,132.30 758.80,132.19 C759.80,132.08 760.80,131.97 761.80,131.87 C762.80,131.77 763.80,131.67 764.80,131.57 C765.80,131.47 766.80,131.38 767.80,131.29 C768.80,131.20 769.80,131.12 770.80,131.05 C771.80,130.98 772.80,130.91 773.80,130.84 C774.80,130.78 775.80,130.71 776.80,130.66 C777.80,130.61 778.80,130.56 779.80,130.52 C780.80,130.48 781.80,130.44 782.80,130.42 C783.80,130.39 784.80,130.38 785.80,130.37 C786.80,130.36 787.80,130.36 788.80,130.36 C789.80,130.37 790.80,130.38 791.80,130.40 C792.80,130.42 793.80,130.46 794.80,130.50 C795.80,130.54 796.80,130.60 797.80,130.66 C798.80,130.72 799.80,130.80 800.80,130.88 C801.80,130.96 802.80,131.06 803.80,131.16 C804.80,131.26 805.80,131.37 806.80,131.50 C807.80,131.63 808.80,131.77 809.80,131.92 C810.80,132.07 811.80,132.23 812.80,132.40 C813.80,132.57 814.80,132.76 815.80,132.95 C816.80,133.14 817.80,133.35 818.80,133.56 C819.80,133.77 820.80,134.00 821.80,134.22 C822.80,134.44 823.80,134.68 824.80,134.91 C825.80,135.14 826.80,135.39 827.80,135.63 C828.80,135.87 829.80,136.12 830.80,136.37 C831.80,136.62 832.80,136.87 833.80,137.12 C834.80,137.37 835.80,137.63 836.80,137.88 C837.80,138.13 838.80,138.38 839.80,138.63 C840.80,138.88 841.80,139.13 842.80,139.37 C843.80,139.61 844.80,139.85 845.80,140.08 C846.80,140.31 847.80,140.54 848.80,140.76 C849.80,140.98 850.80,141.18 851.80,141.39 C852.80,141.59 853.80,141.80 854.80,141.99 C855.80,142.18 856.80,142.36 857.80,142.54 C858.80,142.72 859.80,142.89 860.80,143.06 C861.80,143.23 862.80,143.39 863.80,143.55 C864.80,143.71 865.80,143.85 866.80,144.00 C867.80,144.15 868.80,144.29 869.80,144.43 C870.80,144.57 871.80,144.71 872.80,144.84 C873.80,144.97 874.80,145.09 875.80,145.22 C876.80,145.34 877.80,145.47 878.80,145.59 C879.80,145.71 880.80,145.82 881.80,145.94 C882.80,146.06 883.80,146.17 884.80,146.28 C885.80,146.39 886.80,146.50 887.80,146.61 C888.80,146.72 889.80,146.82 890.80,146.92 C891.80,147.02 892.80,147.12 893.80,147.21 C894.80,147.31 895.80,147.40 896.80,147.49 C897.80,147.58 898.80,147.67 899.80,147.75 C900.80,147.83 901.80,147.91 902.80,147.99 C903.80,148.07 904.80,148.14 905.80,148.21 C906.80,148.28 907.80,148.35 908.80,148.41 C909.80,148.47 910.80,148.53 911.80,148.59 C912.80,148.65 913.80,148.70 914.80,148.75 C915.80,148.80 916.80,148.84 917.80,148.88 C918.80,148.92 919.80,148.96 920.80,148.99 C921.80,149.02 922.80,149.06 923.80,149.08 C924.80,149.11 925.80,149.12 926.80,149.14 C927.80,149.16 928.80,149.17 929.80,149.18 C930.80,149.19 931.80,149.18 932.80,149.18 C933.80,149.18 934.80,149.17 935.80,149.16 C936.80,149.15 937.80,149.13 938.80,149.11 C939.80,149.09 940.80,149.07 941.80,149.04 C942.80,149.01 943.80,148.97 944.80,148.93 C945.80,148.89 946.80,148.84 947.80,148.79 C948.80,148.74 949.80,148.69 950.80,148.64 C951.80,148.58 952.80,148.52 953.80,148.46 C954.80,148.40 955.80,148.33 956.80,148.26 C957.80,148.19 958.80,148.12 959.80,148.05 C960.80,147.98 961.80,147.91 962.80,147.83 C963.80,147.75 964.80,147.68 965.80,147.60 C966.80,147.52 967.80,147.44 968.80,147.36 C969.80,147.28 970.80,147.20 971.80,147.12 C972.80,147.04 973.80,146.95 974.80,146.87 C975.80,146.79 976.80,146.70 977.80,146.62 C978.80,146.54 979.80,146.46 980.80,146.38 C981.80,146.30 982.80,146.23 983.80,146.15 C984.80,146.07 985.80,145.99 986.80,145.92 C987.80,145.85 988.80,145.78 989.80,145.71 C990.80,145.64 991.80,145.57 992.80,145.51 C993.80,145.45 994.80,145.39 995.80,145.33 C996.80,145.27 997.80,145.21 998.80,145.16 C999.80,145.11 1000.80,145.06 1001.80,145.02 C1002.80,144.98 1003.80,144.94 1004.80,144.91 C1005.80,144.88 1006.80,144.84 1007.80,144.82 C1008.80,144.80 1009.80,144.78 1010.80,144.77 C1011.80,144.76 1012.80,144.74 1013.80,144.74 C1014.80,144.74 1015.80,144.74 1016.80,144.75 C1017.80,144.76 1018.80,144.76 1019.80,144.78 C1020.80,144.80 1021.80,144.82 1022.80,144.85 C1023.80,144.88 1024.80,144.91 1025.80,144.94 C1026.80,144.97 1027.80,145.02 1028.80,145.06 C1029.80,145.10 1030.80,145.15 1031.80,145.20 C1032.80,145.25 1033.80,145.31 1034.80,145.37 C1035.80,145.43 1036.80,145.49 1037.80,145.56 C1038.80,145.63 1039.80,145.70 1040.80,145.77 C1041.80,145.84 1042.80,145.92 1043.80,146.00 C1044.80,146.08 1045.80,146.16 1046.80,146.25 C1047.80,146.34 1048.80,146.43 1049.80,146.52 C1050.80,146.61 1051.80,146.70 1052.80,146.80 C1053.80,146.90 1054.80,147.00 1055.80,147.10 C1056.80,147.20 1057.80,147.31 1058.80,147.42 C1059.80,147.53 1060.80,147.64 1061.80,147.75 C1062.80,147.86 1063.80,147.97 1064.80,148.08 C1065.80,148.19 1066.80,148.31 1067.80,148.43 C1068.80,148.55 1069.80,148.67 1070.80,148.79 C1071.80,148.91 1072.80,149.04 1073.80,149.16 C1074.80,149.28 1075.80,149.41 1076.80,149.53 C1077.80,149.66 1078.80,149.78 1079.80,149.91 C1080.80,150.04 1081.80,150.17 1082.80,150.30 C1083.80,150.43 1084.80,150.55 1085.80,150.68 C1086.80,150.81 1087.80,150.94 1088.80,151.07 C1089.80,151.20 1090.80,151.34 1091.80,151.47 C1092.80,151.60 1093.80,151.73 1094.80,151.86 C1095.80,151.99 1096.80,152.12 1097.80,152.25 C1098.80,152.38 1099.80,152.51 1100.80,152.64 C1101.80,152.77 1102.80,152.89 1103.80,153.02 C1104.80,153.15 1105.80,153.28 1106.80,153.41 C1107.80,153.54 1108.80,153.66 1109.80,153.79 C1110.80,153.91 1111.80,154.04 1112.80,154.16 C1113.80,154.28 1114.80,154.40 1115.80,154.52 C1116.80,154.64 1117.80,154.76 1118.80,154.88 C1119.80,155.00 1120.80,155.12 1121.80,155.23 C1122.80,155.34 1123.80,155.45 1124.80,155.56 C1125.80,155.67 1126.80,155.78 1127.80,155.89 C1128.80,156.00 1129.80,156.10 1130.80,156.20 C1131.80,156.30 1132.80,156.40 1133.80,156.50 C1134.80,156.60 1135.80,156.70 1136.80,156.79 C1137.80,156.88 1138.80,156.97 1139.80,157.06 C1140.80,157.15 1141.80,157.23 1142.80,157.31 C1143.80,157.39 1144.80,157.47 1145.80,157.55 C1146.80,157.63 1147.80,157.70 1148.80,157.77 C1149.80,157.84 1150.80,157.90 1151.80,157.96 C1152.80,158.02 1153.80,158.08 1154.80,158.14 C1155.80,158.20 1156.80,158.25 1157.80,158.30 C1158.80,158.35 1159.80,158.40 1160.80,158.44 C1161.80,158.48 1162.80,158.53 1163.80,158.57 C1164.80,158.61 1165.80,158.65 1166.80,158.68 C1167.80,158.71 1168.80,158.75 1169.80,158.77 C1170.80,158.79 1171.80,158.80 1172.80,158.80 C1173.80,158.81 1174.80,158.80 1175.80,158.80 C1176.80,158.80 1177.80,158.80 1178.80,158.80 C1179.80,158.80 1180.80,158.80 1181.80,158.80 C1182.80,158.80 1183.80,158.80 1184.80,158.80 C1185.80,158.80 1186.80,158.80 1187.80,158.80 C1188.80,158.80 1189.80,158.80 1190.80,158.80 C1191.80,158.80 1192.80,158.80 1193.80,158.80 C1194.80,158.80 1195.80,158.80 1196.80,158.80 C1197.80,158.80 1198.80,158.80 1199.80,158.80 C1200.80,158.80 1201.80,158.80 1202.80,158.80 C1203.80,158.80 1204.80,158.80 1205.80,158.80 C1206.80,158.80 1207.80,158.80 1208.80,158.80 C1209.80,158.80 1210.80,158.80 1211.80,158.80 C1212.80,158.80 1213.80,158.80 1214.80,158.80 C1215.80,158.80 1216.80,158.80 1217.80,158.80 C1218.80,158.80 1219.80,158.80 1220.80,158.80 C1221.80,158.80 1222.80,158.80 1223.80,158.80 C1224.80,158.80 1225.80,158.80 1226.80,158.80 C1227.80,158.80 1228.80,158.80 1229.80,158.80 C1230.80,158.80 1231.80,158.80 1232.80,158.80 C1233.80,158.80 1234.80,158.80 1235.80,158.80 C1236.80,158.80 1237.80,158.80 1238.80,158.80 C1239.80,158.80 1240.80,158.80 1241.80,158.80 C1242.80,158.80 1243.80,158.80 1244.80,158.80 C1245.80,158.80 1246.80,158.80 1247.80,158.80 C1248.80,158.80 1249.80,158.80 1250.80,158.80 C1251.80,158.80 1252.80,158.80 1253.80,158.80 C1254.80,158.80 1255.80,158.80 1256.80,158.80 C1257.80,158.80 1258.80,158.80 1259.80,158.80 C1260.80,158.80 1261.80,158.80 1262.80,158.80 C1263.80,158.80 1264.80,158.80 1265.80,158.80 C1266.80,158.80 1268.03,158.80 1268.80,158.80 C1269.57,158.80 1270.13,158.80 1270.40,158.80" fill="none" stroke="#000" stroke-width="3.1"/>
<path d="M1341.47,205.10 C1341.55,205.60 1341.77,207.10 1341.92,208.10 C1342.07,209.10 1342.21,210.10 1342.36,211.10 C1342.51,212.10 1342.65,213.10 1342.80,214.10 C1342.94,215.10 1343.09,216.10 1343.23,217.10 C1343.37,218.10 1343.51,219.10 1343.65,220.10 C1343.79,221.10 1343.92,222.10 1344.06,223.10 C1344.19,224.10 1344.33,225.10 1344.46,226.10 C1344.59,227.10 1344.72,228.10 1344.85,229.10 C1344.98,230.10 1345.11,231.10 1345.24,232.10 C1345.37,233.10 1345.49,234.10 1345.61,235.10 C1345.73,236.10 1345.86,237.10 1345.98,238.10 C1346.10,239.10 1346.21,240.10 1346.33,241.10 C1346.45,242.10 1346.57,243.10 1346.68,244.10 C1346.80,245.10 1346.91,246.10 1347.02,247.10 C1347.13,248.10 1347.23,249.10 1347.34,250.10 C1347.45,251.10 1347.56,252.10 1347.66,253.10 C1347.77,254.10 1347.87,255.10 1347.97,256.10 C1348.07,257.10 1348.17,258.10 1348.27,259.10 C1348.37,260.10 1348.46,261.10 1348.55,262.10 C1348.64,263.10 1348.74,264.10 1348.83,265.10 C1348.92,266.10 1349.01,267.10 1349.10,268.10 C1349.19,269.10 1349.27,270.10 1349.35,271.10 C1349.43,272.10 1349.52,273.10 1349.60,274.10 C1349.68,275.10 1349.75,276.10 1349.83,277.10 C1349.90,278.10 1349.98,279.10 1350.05,280.10 C1350.12,281.10 1350.20,282.10 1350.27,283.10 C1350.34,284.10 1350.40,285.10 1350.47,286.10 C1350.54,287.10 1350.60,288.10 1350.66,289.10 C1350.72,290.10 1350.78,291.10 1350.84,292.10 C1350.90,293.10 1350.95,294.10 1351.00,295.10 C1351.05,296.10 1351.11,297.10 1351.16,298.10 C1351.21,299.10 1351.25,300.10 1351.30,301.10 C1351.35,302.10 1351.40,303.10 1351.44,304.10 C1351.48,305.10 1351.52,306.10 1351.56,307.10 C1351.60,308.10 1351.64,309.10 1351.67,310.10 C1351.70,311.10 1351.73,312.10 1351.76,313.10 C1351.79,314.10 1351.82,315.10 1351.85,316.10 C1351.88,317.10 1351.90,318.10 1351.92,319.10 C1351.94,320.10 1351.97,321.10 1351.99,322.10 C1352.01,323.10 1352.03,324.10 1352.05,325.10 C1352.07,326.10 1352.08,327.10 1352.10,328.10 C1352.12,329.10 1352.13,330.10 1352.15,331.10 C1352.17,332.10 1352.18,333.10 1352.20,334.10 C1352.22,335.10 1352.22,336.10 1352.24,337.10 C1352.26,338.10 1352.28,339.10 1352.29,340.10 C1352.30,341.10 1352.31,342.10 1352.33,343.10 C1352.35,344.10 1352.36,345.10 1352.38,346.10 C1352.40,347.10 1352.42,348.10 1352.44,349.10 C1352.46,350.10 1352.48,351.10 1352.50,352.10 C1352.52,353.10 1352.55,354.10 1352.57,355.10 C1352.59,356.10 1352.61,357.10 1352.64,358.10 C1352.67,359.10 1352.70,360.10 1352.73,361.10 C1352.76,362.10 1352.79,363.10 1352.83,364.10 C1352.87,365.10 1352.91,366.10 1352.95,367.10 C1352.99,368.10 1353.03,369.10 1353.08,370.10 C1353.12,371.10 1353.17,372.10 1353.22,373.10 C1353.27,374.10 1353.32,375.10 1353.38,376.10 C1353.44,377.10 1353.50,378.10 1353.57,379.10 C1353.63,380.10 1353.70,381.10 1353.77,382.10 C1353.84,383.10 1353.92,384.10 1354.00,385.10 C1354.08,386.10 1354.16,387.10 1354.25,388.10 C1354.34,389.10 1354.42,390.10 1354.52,391.10 C1354.62,392.10 1354.71,393.10 1354.82,394.10 C1354.92,395.10 1355.04,396.10 1355.15,397.10 C1355.27,398.10 1355.38,399.10 1355.51,400.10 C1355.64,401.10 1355.77,402.10 1355.91,403.10 C1356.05,404.10 1356.18,405.10 1356.33,406.10 C1356.48,407.10 1356.63,408.10 1356.79,409.10 C1356.95,410.10 1357.11,411.10 1357.28,412.10 C1357.45,413.10 1357.62,414.10 1357.80,415.10 C1357.98,416.10 1358.15,417.10 1358.34,418.10 C1358.53,419.10 1358.72,420.10 1358.92,421.10 C1359.12,422.10 1359.32,423.10 1359.52,424.10 C1359.72,425.10 1359.93,426.10 1360.14,427.10 C1360.35,428.10 1360.56,429.10 1360.78,430.10 C1361.00,431.10 1361.22,432.10 1361.44,433.10 C1361.66,434.10 1361.89,435.10 1362.12,436.10 C1362.35,437.10 1362.58,438.10 1362.81,439.10 C1363.04,440.10 1363.28,441.10 1363.52,442.10 C1363.76,443.10 1363.99,444.10 1364.23,445.10 C1364.47,446.10 1364.72,447.10 1364.96,448.10 C1365.20,449.10 1365.45,450.10 1365.70,451.10 C1365.95,452.10 1366.20,453.10 1366.45,454.10 C1366.70,455.10 1366.94,456.10 1367.19,457.10 C1367.44,458.10 1367.70,459.10 1367.95,460.10 C1368.20,461.10 1368.45,462.10 1368.70,463.10 C1368.95,464.10 1369.20,465.10 1369.45,466.10 C1369.70,467.10 1369.95,468.10 1370.20,469.10 C1370.45,470.10 1370.70,471.10 1370.95,472.10 C1371.20,473.10 1371.45,474.10 1371.69,475.10 C1371.93,476.10 1372.18,477.10 1372.42,478.10 C1372.66,479.10 1372.90,480.10 1373.14,481.10 C1373.38,482.10 1373.62,483.10 1373.86,484.10 C1374.09,485.10 1374.32,486.10 1374.55,487.10 C1374.78,488.10 1375.01,489.10 1375.24,490.10 C1375.47,491.10 1375.69,492.10 1375.91,493.10 C1376.13,494.10 1376.34,495.10 1376.55,496.10 C1376.76,497.10 1376.97,498.10 1377.18,499.10 C1377.39,500.10 1377.59,501.10 1377.79,502.10 C1377.99,503.10 1378.18,504.10 1378.37,505.10 C1378.56,506.10 1378.75,507.10 1378.93,508.10 C1379.11,509.10 1379.29,510.10 1379.47,511.10 C1379.65,512.10 1379.82,513.10 1379.99,514.10 C1380.16,515.10 1380.34,516.10 1380.51,517.10 C1380.68,518.10 1380.84,519.10 1381.01,520.10 C1381.18,521.10 1381.35,522.10 1381.51,523.10 C1381.67,524.10 1381.84,525.10 1382.00,526.10 C1382.16,527.10 1382.33,528.10 1382.50,529.10 C1382.67,530.10 1382.83,531.10 1383.00,532.10 C1383.17,533.10 1383.35,534.10 1383.52,535.10 C1383.69,536.10 1383.87,537.10 1384.05,538.10 C1384.23,539.10 1384.40,540.10 1384.59,541.10 C1384.77,542.10 1384.97,543.10 1385.16,544.10 C1385.35,545.10 1385.55,546.10 1385.75,547.10 C1385.95,548.10 1386.16,549.10 1386.37,550.10 C1386.58,551.10 1386.80,552.10 1387.02,553.10 C1387.24,554.10 1387.47,555.10 1387.71,556.10 C1387.95,557.10 1388.19,558.10 1388.44,559.10 C1388.69,560.10 1388.95,561.10 1389.21,562.10 C1389.47,563.10 1389.74,564.10 1390.02,565.10 C1390.30,566.10 1390.59,567.10 1390.88,568.10 C1391.17,569.10 1391.47,570.10 1391.78,571.10 C1392.09,572.10 1392.39,573.10 1392.71,574.10 C1393.03,575.10 1393.35,576.10 1393.68,577.10 C1394.01,578.10 1394.35,579.10 1394.69,580.10 C1395.03,581.10 1395.37,582.10 1395.72,583.10 C1396.07,584.10 1396.43,585.10 1396.79,586.10 C1397.15,587.10 1397.51,588.10 1397.88,589.10 C1398.25,590.10 1398.62,591.10 1399.00,592.10 C1399.38,593.10 1399.76,594.10 1400.14,595.10 C1400.52,596.10 1400.91,597.10 1401.30,598.10 C1401.69,599.10 1402.09,600.10 1402.48,601.10 C1402.88,602.10 1403.27,603.10 1403.67,604.10 C1404.07,605.10 1404.48,606.10 1404.89,607.10 C1405.30,608.10 1405.70,609.10 1406.11,610.10 C1406.52,611.10 1406.94,612.10 1407.36,613.10 C1407.78,614.10 1408.20,615.10 1408.62,616.10 C1409.04,617.10 1409.47,618.10 1409.90,619.10 C1410.33,620.10 1410.76,621.10 1411.19,622.10 C1411.62,623.10 1412.07,624.10 1412.51,625.10 C1412.95,626.10 1413.39,627.10 1413.84,628.10 C1414.29,629.10 1414.75,630.10 1415.20,631.10 C1415.65,632.10 1416.11,633.10 1416.57,634.10 C1417.03,635.10 1417.50,636.10 1417.97,637.10 C1418.44,638.10 1418.91,639.10 1419.38,640.10 C1419.86,641.10 1420.34,642.10 1420.82,643.10 C1421.30,644.10 1421.79,645.10 1422.28,646.10 C1422.77,647.10 1423.27,648.10 1423.77,649.10 C1424.27,650.10 1424.77,651.10 1425.28,652.10 C1425.79,653.10 1426.30,654.10 1426.81,655.10 C1427.32,656.10 1427.85,657.10 1428.37,658.10 C1428.89,659.10 1429.42,660.10 1429.95,661.10 C1430.48,662.10 1431.02,663.10 1431.56,664.10 C1432.10,665.10 1432.65,666.10 1433.20,667.10 C1433.75,668.10 1434.31,669.10 1434.87,670.10 C1435.43,671.10 1436.00,672.10 1436.58,673.10 C1437.15,674.10 1437.73,675.10 1438.32,676.10 C1438.90,677.10 1439.49,678.10 1440.09,679.10 C1440.69,680.10 1441.29,681.10 1441.90,682.10 C1442.51,683.10 1443.13,684.10 1443.75,685.10 C1444.37,686.10 1445.00,687.10 1445.64,688.10 C1446.28,689.10 1446.92,690.10 1447.57,691.10 C1448.22,692.10 1448.88,693.10 1449.54,694.10 C1450.20,695.10 1450.88,696.10 1451.55,697.10 C1452.22,698.10 1452.90,699.10 1453.59,700.10 C1454.27,701.10 1454.97,702.10 1455.66,703.10 C1456.35,704.10 1457.05,705.10 1457.74,706.10 C1458.43,707.10 1459.13,708.10 1459.83,709.10 C1460.52,710.10 1461.22,711.10 1461.91,712.10 C1462.60,713.10 1463.30,714.10 1463.99,715.10 C1464.68,716.10 1465.37,717.10 1466.05,718.10 C1466.73,719.10 1467.42,720.10 1468.10,721.10 C1468.78,722.10 1469.44,723.10 1470.11,724.10 C1470.78,725.10 1471.44,726.10 1472.10,727.10 C1472.76,728.10 1473.41,729.10 1474.05,730.10 C1474.69,731.10 1475.33,732.10 1475.96,733.10 C1476.59,734.10 1477.22,735.10 1477.83,736.10 C1478.44,737.10 1479.05,738.10 1479.64,739.10 C1480.24,740.10 1480.82,741.10 1481.40,742.10 C1481.98,743.10 1482.54,744.10 1483.10,745.10 C1483.65,746.10 1484.20,747.10 1484.73,748.10 C1485.26,749.10 1485.78,750.10 1486.28,751.10 C1486.78,752.10 1487.28,753.10 1487.76,754.10 C1488.24,755.10 1488.71,756.10 1489.16,757.10 C1489.61,758.10 1490.05,759.10 1490.47,760.10 C1490.89,761.10 1491.30,762.10 1491.69,763.10 C1492.08,764.10 1492.45,765.10 1492.81,766.10 C1493.16,767.10 1493.50,768.10 1493.82,769.10 C1494.14,770.10 1494.44,771.10 1494.73,772.10 C1495.02,773.10 1495.28,774.10 1495.54,775.10 C1495.80,776.10 1496.04,777.10 1496.26,778.10 C1496.48,779.10 1496.69,780.10 1496.88,781.10 C1497.07,782.10 1497.24,783.10 1497.40,784.10 C1497.56,785.10 1497.71,786.10 1497.85,787.10 C1497.98,788.10 1498.10,789.10 1498.21,790.10 C1498.32,791.10 1498.41,792.10 1498.49,793.10 C1498.57,794.10 1498.63,795.10 1498.69,796.10 C1498.75,797.10 1498.79,798.10 1498.82,799.10 C1498.85,800.10 1498.88,801.10 1498.89,802.10 C1498.90,803.10 1498.90,804.10 1498.89,805.10 C1498.88,806.10 1498.86,807.10 1498.83,808.10 C1498.80,809.10 1498.76,810.10 1498.71,811.10 C1498.66,812.10 1498.60,813.10 1498.53,814.10 C1498.46,815.10 1498.39,816.10 1498.30,817.10 C1498.21,818.10 1498.12,819.10 1498.01,820.10 C1497.90,821.10 1497.78,822.10 1497.65,823.10 C1497.52,824.10 1497.39,825.10 1497.24,826.10 C1497.09,827.10 1496.93,828.10 1496.76,829.10 C1496.59,830.10 1496.42,831.10 1496.23,832.10 C1496.04,833.10 1495.84,834.10 1495.63,835.10 C1495.42,836.10 1495.20,837.10 1494.97,838.10 C1494.74,839.10 1494.50,840.10 1494.25,841.10 C1494.00,842.10 1493.74,843.10 1493.47,844.10 C1493.20,845.10 1492.91,846.10 1492.62,847.10 C1492.33,848.10 1492.02,849.10 1491.71,850.10 C1491.40,851.10 1491.08,852.10 1490.74,853.10 C1490.40,854.10 1490.06,855.10 1489.70,856.10 C1489.34,857.10 1488.97,858.10 1488.59,859.10 C1488.21,860.10 1487.82,861.10 1487.42,862.10 C1487.02,863.10 1486.61,864.10 1486.19,865.10 C1485.77,866.10 1485.34,867.10 1484.89,868.10 C1484.45,869.10 1483.99,870.10 1483.52,871.10 C1483.05,872.10 1482.58,873.10 1482.09,874.10 C1481.60,875.10 1481.09,876.10 1480.58,877.10 C1480.07,878.10 1479.55,879.10 1479.01,880.10 C1478.47,881.10 1477.93,882.10 1477.37,883.10 C1476.81,884.10 1476.25,885.10 1475.67,886.10 C1475.09,887.10 1474.50,888.10 1473.89,889.10 C1473.29,890.10 1472.67,891.10 1472.04,892.10 C1471.41,893.10 1470.78,894.10 1470.13,895.10 C1469.48,896.10 1468.82,897.10 1468.14,898.10 C1467.47,899.10 1466.78,900.10 1466.08,901.10 C1465.38,902.10 1464.67,903.10 1463.95,904.10 C1463.23,905.10 1462.50,906.10 1461.76,907.10 C1461.02,908.10 1460.26,909.10 1459.50,910.10 C1458.74,911.10 1457.97,912.10 1457.19,913.10 C1456.41,914.10 1455.63,915.10 1454.83,916.10 C1454.03,917.10 1453.22,918.10 1452.41,919.10 C1451.60,920.10 1450.78,921.10 1449.95,922.10 C1449.12,923.10 1448.29,924.10 1447.45,925.10 C1446.61,926.10 1445.76,927.10 1444.91,928.10 C1444.06,929.10 1443.20,930.10 1442.34,931.10 C1441.48,932.10 1440.62,933.10 1439.75,934.10 C1438.88,935.10 1438.01,936.10 1437.13,937.10 C1436.25,938.10 1435.36,939.10 1434.48,940.10 C1433.60,941.10 1432.72,942.10 1431.83,943.10 C1430.94,944.10 1430.05,945.10 1429.16,946.10 C1428.27,947.10 1427.37,948.10 1426.48,949.10 C1425.59,950.10 1424.69,951.10 1423.80,952.10 C1422.91,953.10 1422.01,954.10 1421.12,955.10 C1420.23,956.10 1419.34,957.10 1418.45,958.10 C1417.56,959.10 1416.67,960.10 1415.79,961.10 C1414.90,962.10 1414.02,963.10 1413.14,964.10 C1412.26,965.10 1411.38,966.10 1410.50,967.10 C1409.62,968.10 1408.76,969.10 1407.89,970.10 C1407.02,971.10 1406.16,972.10 1405.30,973.10 C1404.44,974.10 1403.60,975.10 1402.75,976.10 C1401.90,977.10 1401.07,978.10 1400.23,979.10 C1399.39,980.10 1398.56,981.10 1397.74,982.10 C1396.92,983.10 1396.11,984.10 1395.30,985.10 C1394.49,986.10 1393.70,987.10 1392.91,988.10 C1392.12,989.10 1391.13,990.37 1390.56,991.10 C1389.99,991.83 1389.67,992.27 1389.49,992.50 L1389.49,993 L1339.1,993 L1339.1,205.10 Z" fill="#B3B3B3"/>
<path d="M1341.47,205.10 C1341.55,205.60 1341.77,207.10 1341.92,208.10 C1342.07,209.10 1342.21,210.10 1342.36,211.10 C1342.51,212.10 1342.65,213.10 1342.80,214.10 C1342.94,215.10 1343.09,216.10 1343.23,217.10 C1343.37,218.10 1343.51,219.10 1343.65,220.10 C1343.79,221.10 1343.92,222.10 1344.06,223.10 C1344.19,224.10 1344.33,225.10 1344.46,226.10 C1344.59,227.10 1344.72,228.10 1344.85,229.10 C1344.98,230.10 1345.11,231.10 1345.24,232.10 C1345.37,233.10 1345.49,234.10 1345.61,235.10 C1345.73,236.10 1345.86,237.10 1345.98,238.10 C1346.10,239.10 1346.21,240.10 1346.33,241.10 C1346.45,242.10 1346.57,243.10 1346.68,244.10 C1346.80,245.10 1346.91,246.10 1347.02,247.10 C1347.13,248.10 1347.23,249.10 1347.34,250.10 C1347.45,251.10 1347.56,252.10 1347.66,253.10 C1347.77,254.10 1347.87,255.10 1347.97,256.10 C1348.07,257.10 1348.17,258.10 1348.27,259.10 C1348.37,260.10 1348.46,261.10 1348.55,262.10 C1348.64,263.10 1348.74,264.10 1348.83,265.10 C1348.92,266.10 1349.01,267.10 1349.10,268.10 C1349.19,269.10 1349.27,270.10 1349.35,271.10 C1349.43,272.10 1349.52,273.10 1349.60,274.10 C1349.68,275.10 1349.75,276.10 1349.83,277.10 C1349.90,278.10 1349.98,279.10 1350.05,280.10 C1350.12,281.10 1350.20,282.10 1350.27,283.10 C1350.34,284.10 1350.40,285.10 1350.47,286.10 C1350.54,287.10 1350.60,288.10 1350.66,289.10 C1350.72,290.10 1350.78,291.10 1350.84,292.10 C1350.90,293.10 1350.95,294.10 1351.00,295.10 C1351.05,296.10 1351.11,297.10 1351.16,298.10 C1351.21,299.10 1351.25,300.10 1351.30,301.10 C1351.35,302.10 1351.40,303.10 1351.44,304.10 C1351.48,305.10 1351.52,306.10 1351.56,307.10 C1351.60,308.10 1351.64,309.10 1351.67,310.10 C1351.70,311.10 1351.73,312.10 1351.76,313.10 C1351.79,314.10 1351.82,315.10 1351.85,316.10 C1351.88,317.10 1351.90,318.10 1351.92,319.10 C1351.94,320.10 1351.97,321.10 1351.99,322.10 C1352.01,323.10 1352.03,324.10 1352.05,325.10 C1352.07,326.10 1352.08,327.10 1352.10,328.10 C1352.12,329.10 1352.13,330.10 1352.15,331.10 C1352.17,332.10 1352.18,333.10 1352.20,334.10 C1352.22,335.10 1352.22,336.10 1352.24,337.10 C1352.26,338.10 1352.28,339.10 1352.29,340.10 C1352.30,341.10 1352.31,342.10 1352.33,343.10 C1352.35,344.10 1352.36,345.10 1352.38,346.10 C1352.40,347.10 1352.42,348.10 1352.44,349.10 C1352.46,350.10 1352.48,351.10 1352.50,352.10 C1352.52,353.10 1352.55,354.10 1352.57,355.10 C1352.59,356.10 1352.61,357.10 1352.64,358.10 C1352.67,359.10 1352.70,360.10 1352.73,361.10 C1352.76,362.10 1352.79,363.10 1352.83,364.10 C1352.87,365.10 1352.91,366.10 1352.95,367.10 C1352.99,368.10 1353.03,369.10 1353.08,370.10 C1353.12,371.10 1353.17,372.10 1353.22,373.10 C1353.27,374.10 1353.32,375.10 1353.38,376.10 C1353.44,377.10 1353.50,378.10 1353.57,379.10 C1353.63,380.10 1353.70,381.10 1353.77,382.10 C1353.84,383.10 1353.92,384.10 1354.00,385.10 C1354.08,386.10 1354.16,387.10 1354.25,388.10 C1354.34,389.10 1354.42,390.10 1354.52,391.10 C1354.62,392.10 1354.71,393.10 1354.82,394.10 C1354.92,395.10 1355.04,396.10 1355.15,397.10 C1355.27,398.10 1355.38,399.10 1355.51,400.10 C1355.64,401.10 1355.77,402.10 1355.91,403.10 C1356.05,404.10 1356.18,405.10 1356.33,406.10 C1356.48,407.10 1356.63,408.10 1356.79,409.10 C1356.95,410.10 1357.11,411.10 1357.28,412.10 C1357.45,413.10 1357.62,414.10 1357.80,415.10 C1357.98,416.10 1358.15,417.10 1358.34,418.10 C1358.53,419.10 1358.72,420.10 1358.92,421.10 C1359.12,422.10 1359.32,423.10 1359.52,424.10 C1359.72,425.10 1359.93,426.10 1360.14,427.10 C1360.35,428.10 1360.56,429.10 1360.78,430.10 C1361.00,431.10 1361.22,432.10 1361.44,433.10 C1361.66,434.10 1361.89,435.10 1362.12,436.10 C1362.35,437.10 1362.58,438.10 1362.81,439.10 C1363.04,440.10 1363.28,441.10 1363.52,442.10 C1363.76,443.10 1363.99,444.10 1364.23,445.10 C1364.47,446.10 1364.72,447.10 1364.96,448.10 C1365.20,449.10 1365.45,450.10 1365.70,451.10 C1365.95,452.10 1366.20,453.10 1366.45,454.10 C1366.70,455.10 1366.94,456.10 1367.19,457.10 C1367.44,458.10 1367.70,459.10 1367.95,460.10 C1368.20,461.10 1368.45,462.10 1368.70,463.10 C1368.95,464.10 1369.20,465.10 1369.45,466.10 C1369.70,467.10 1369.95,468.10 1370.20,469.10 C1370.45,470.10 1370.70,471.10 1370.95,472.10 C1371.20,473.10 1371.45,474.10 1371.69,475.10 C1371.93,476.10 1372.18,477.10 1372.42,478.10 C1372.66,479.10 1372.90,480.10 1373.14,481.10 C1373.38,482.10 1373.62,483.10 1373.86,484.10 C1374.09,485.10 1374.32,486.10 1374.55,487.10 C1374.78,488.10 1375.01,489.10 1375.24,490.10 C1375.47,491.10 1375.69,492.10 1375.91,493.10 C1376.13,494.10 1376.34,495.10 1376.55,496.10 C1376.76,497.10 1376.97,498.10 1377.18,499.10 C1377.39,500.10 1377.59,501.10 1377.79,502.10 C1377.99,503.10 1378.18,504.10 1378.37,505.10 C1378.56,506.10 1378.75,507.10 1378.93,508.10 C1379.11,509.10 1379.29,510.10 1379.47,511.10 C1379.65,512.10 1379.82,513.10 1379.99,514.10 C1380.16,515.10 1380.34,516.10 1380.51,517.10 C1380.68,518.10 1380.84,519.10 1381.01,520.10 C1381.18,521.10 1381.35,522.10 1381.51,523.10 C1381.67,524.10 1381.84,525.10 1382.00,526.10 C1382.16,527.10 1382.33,528.10 1382.50,529.10 C1382.67,530.10 1382.83,531.10 1383.00,532.10 C1383.17,533.10 1383.35,534.10 1383.52,535.10 C1383.69,536.10 1383.87,537.10 1384.05,538.10 C1384.23,539.10 1384.40,540.10 1384.59,541.10 C1384.77,542.10 1384.97,543.10 1385.16,544.10 C1385.35,545.10 1385.55,546.10 1385.75,547.10 C1385.95,548.10 1386.16,549.10 1386.37,550.10 C1386.58,551.10 1386.80,552.10 1387.02,553.10 C1387.24,554.10 1387.47,555.10 1387.71,556.10 C1387.95,557.10 1388.19,558.10 1388.44,559.10 C1388.69,560.10 1388.95,561.10 1389.21,562.10 C1389.47,563.10 1389.74,564.10 1390.02,565.10 C1390.30,566.10 1390.59,567.10 1390.88,568.10 C1391.17,569.10 1391.47,570.10 1391.78,571.10 C1392.09,572.10 1392.39,573.10 1392.71,574.10 C1393.03,575.10 1393.35,576.10 1393.68,577.10 C1394.01,578.10 1394.35,579.10 1394.69,580.10 C1395.03,581.10 1395.37,582.10 1395.72,583.10 C1396.07,584.10 1396.43,585.10 1396.79,586.10 C1397.15,587.10 1397.51,588.10 1397.88,589.10 C1398.25,590.10 1398.62,591.10 1399.00,592.10 C1399.38,593.10 1399.76,594.10 1400.14,595.10 C1400.52,596.10 1400.91,597.10 1401.30,598.10 C1401.69,599.10 1402.09,600.10 1402.48,601.10 C1402.88,602.10 1403.27,603.10 1403.67,604.10 C1404.07,605.10 1404.48,606.10 1404.89,607.10 C1405.30,608.10 1405.70,609.10 1406.11,610.10 C1406.52,611.10 1406.94,612.10 1407.36,613.10 C1407.78,614.10 1408.20,615.10 1408.62,616.10 C1409.04,617.10 1409.47,618.10 1409.90,619.10 C1410.33,620.10 1410.76,621.10 1411.19,622.10 C1411.62,623.10 1412.07,624.10 1412.51,625.10 C1412.95,626.10 1413.39,627.10 1413.84,628.10 C1414.29,629.10 1414.75,630.10 1415.20,631.10 C1415.65,632.10 1416.11,633.10 1416.57,634.10 C1417.03,635.10 1417.50,636.10 1417.97,637.10 C1418.44,638.10 1418.91,639.10 1419.38,640.10 C1419.86,641.10 1420.34,642.10 1420.82,643.10 C1421.30,644.10 1421.79,645.10 1422.28,646.10 C1422.77,647.10 1423.27,648.10 1423.77,649.10 C1424.27,650.10 1424.77,651.10 1425.28,652.10 C1425.79,653.10 1426.30,654.10 1426.81,655.10 C1427.32,656.10 1427.85,657.10 1428.37,658.10 C1428.89,659.10 1429.42,660.10 1429.95,661.10 C1430.48,662.10 1431.02,663.10 1431.56,664.10 C1432.10,665.10 1432.65,666.10 1433.20,667.10 C1433.75,668.10 1434.31,669.10 1434.87,670.10 C1435.43,671.10 1436.00,672.10 1436.58,673.10 C1437.15,674.10 1437.73,675.10 1438.32,676.10 C1438.90,677.10 1439.49,678.10 1440.09,679.10 C1440.69,680.10 1441.29,681.10 1441.90,682.10 C1442.51,683.10 1443.13,684.10 1443.75,685.10 C1444.37,686.10 1445.00,687.10 1445.64,688.10 C1446.28,689.10 1446.92,690.10 1447.57,691.10 C1448.22,692.10 1448.88,693.10 1449.54,694.10 C1450.20,695.10 1450.88,696.10 1451.55,697.10 C1452.22,698.10 1452.90,699.10 1453.59,700.10 C1454.27,701.10 1454.97,702.10 1455.66,703.10 C1456.35,704.10 1457.05,705.10 1457.74,706.10 C1458.43,707.10 1459.13,708.10 1459.83,709.10 C1460.52,710.10 1461.22,711.10 1461.91,712.10 C1462.60,713.10 1463.30,714.10 1463.99,715.10 C1464.68,716.10 1465.37,717.10 1466.05,718.10 C1466.73,719.10 1467.42,720.10 1468.10,721.10 C1468.78,722.10 1469.44,723.10 1470.11,724.10 C1470.78,725.10 1471.44,726.10 1472.10,727.10 C1472.76,728.10 1473.41,729.10 1474.05,730.10 C1474.69,731.10 1475.33,732.10 1475.96,733.10 C1476.59,734.10 1477.22,735.10 1477.83,736.10 C1478.44,737.10 1479.05,738.10 1479.64,739.10 C1480.24,740.10 1480.82,741.10 1481.40,742.10 C1481.98,743.10 1482.54,744.10 1483.10,745.10 C1483.65,746.10 1484.20,747.10 1484.73,748.10 C1485.26,749.10 1485.78,750.10 1486.28,751.10 C1486.78,752.10 1487.28,753.10 1487.76,754.10 C1488.24,755.10 1488.71,756.10 1489.16,757.10 C1489.61,758.10 1490.05,759.10 1490.47,760.10 C1490.89,761.10 1491.30,762.10 1491.69,763.10 C1492.08,764.10 1492.45,765.10 1492.81,766.10 C1493.16,767.10 1493.50,768.10 1493.82,769.10 C1494.14,770.10 1494.44,771.10 1494.73,772.10 C1495.02,773.10 1495.28,774.10 1495.54,775.10 C1495.80,776.10 1496.04,777.10 1496.26,778.10 C1496.48,779.10 1496.69,780.10 1496.88,781.10 C1497.07,782.10 1497.24,783.10 1497.40,784.10 C1497.56,785.10 1497.71,786.10 1497.85,787.10 C1497.98,788.10 1498.10,789.10 1498.21,790.10 C1498.32,791.10 1498.41,792.10 1498.49,793.10 C1498.57,794.10 1498.63,795.10 1498.69,796.10 C1498.75,797.10 1498.79,798.10 1498.82,799.10 C1498.85,800.10 1498.88,801.10 1498.89,802.10 C1498.90,803.10 1498.90,804.10 1498.89,805.10 C1498.88,806.10 1498.86,807.10 1498.83,808.10 C1498.80,809.10 1498.76,810.10 1498.71,811.10 C1498.66,812.10 1498.60,813.10 1498.53,814.10 C1498.46,815.10 1498.39,816.10 1498.30,817.10 C1498.21,818.10 1498.12,819.10 1498.01,820.10 C1497.90,821.10 1497.78,822.10 1497.65,823.10 C1497.52,824.10 1497.39,825.10 1497.24,826.10 C1497.09,827.10 1496.93,828.10 1496.76,829.10 C1496.59,830.10 1496.42,831.10 1496.23,832.10 C1496.04,833.10 1495.84,834.10 1495.63,835.10 C1495.42,836.10 1495.20,837.10 1494.97,838.10 C1494.74,839.10 1494.50,840.10 1494.25,841.10 C1494.00,842.10 1493.74,843.10 1493.47,844.10 C1493.20,845.10 1492.91,846.10 1492.62,847.10 C1492.33,848.10 1492.02,849.10 1491.71,850.10 C1491.40,851.10 1491.08,852.10 1490.74,853.10 C1490.40,854.10 1490.06,855.10 1489.70,856.10 C1489.34,857.10 1488.97,858.10 1488.59,859.10 C1488.21,860.10 1487.82,861.10 1487.42,862.10 C1487.02,863.10 1486.61,864.10 1486.19,865.10 C1485.77,866.10 1485.34,867.10 1484.89,868.10 C1484.45,869.10 1483.99,870.10 1483.52,871.10 C1483.05,872.10 1482.58,873.10 1482.09,874.10 C1481.60,875.10 1481.09,876.10 1480.58,877.10 C1480.07,878.10 1479.55,879.10 1479.01,880.10 C1478.47,881.10 1477.93,882.10 1477.37,883.10 C1476.81,884.10 1476.25,885.10 1475.67,886.10 C1475.09,887.10 1474.50,888.10 1473.89,889.10 C1473.29,890.10 1472.67,891.10 1472.04,892.10 C1471.41,893.10 1470.78,894.10 1470.13,895.10 C1469.48,896.10 1468.82,897.10 1468.14,898.10 C1467.47,899.10 1466.78,900.10 1466.08,901.10 C1465.38,902.10 1464.67,903.10 1463.95,904.10 C1463.23,905.10 1462.50,906.10 1461.76,907.10 C1461.02,908.10 1460.26,909.10 1459.50,910.10 C1458.74,911.10 1457.97,912.10 1457.19,913.10 C1456.41,914.10 1455.63,915.10 1454.83,916.10 C1454.03,917.10 1453.22,918.10 1452.41,919.10 C1451.60,920.10 1450.78,921.10 1449.95,922.10 C1449.12,923.10 1448.29,924.10 1447.45,925.10 C1446.61,926.10 1445.76,927.10 1444.91,928.10 C1444.06,929.10 1443.20,930.10 1442.34,931.10 C1441.48,932.10 1440.62,933.10 1439.75,934.10 C1438.88,935.10 1438.01,936.10 1437.13,937.10 C1436.25,938.10 1435.36,939.10 1434.48,940.10 C1433.60,941.10 1432.72,942.10 1431.83,943.10 C1430.94,944.10 1430.05,945.10 1429.16,946.10 C1428.27,947.10 1427.37,948.10 1426.48,949.10 C1425.59,950.10 1424.69,951.10 1423.80,952.10 C1422.91,953.10 1422.01,954.10 1421.12,955.10 C1420.23,956.10 1419.34,957.10 1418.45,958.10 C1417.56,959.10 1416.67,960.10 1415.79,961.10 C1414.90,962.10 1414.02,963.10 1413.14,964.10 C1412.26,965.10 1411.38,966.10 1410.50,967.10 C1409.62,968.10 1408.76,969.10 1407.89,970.10 C1407.02,971.10 1406.16,972.10 1405.30,973.10 C1404.44,974.10 1403.60,975.10 1402.75,976.10 C1401.90,977.10 1401.07,978.10 1400.23,979.10 C1399.39,980.10 1398.56,981.10 1397.74,982.10 C1396.92,983.10 1396.11,984.10 1395.30,985.10 C1394.49,986.10 1393.70,987.10 1392.91,988.10 C1392.12,989.10 1391.13,990.37 1390.56,991.10 C1389.99,991.83 1389.67,992.27 1389.49,992.50" fill="none" stroke="#000" stroke-width="3.1"/>
<text transform="translate(58.2,80.4) rotate(-90)" text-anchor="middle" font-family="'Liberation Sans', Arial, Helvetica, sans-serif" font-size="28.6" fill="#000">Frequency</text>
<text x="1345.5" y="1069.4" font-family="'Liberation Sans', Arial, Helvetica, sans-serif" font-size="28.6" fill="#000">Frequency</text>
</g>
<rect x="75.9" y="168.1" width="1254.90" height="863.40" fill="none" stroke="#B3B3B3" stroke-width="2"/>
<line x1="132.07" y1="1031.50" x2="132.07" y2="1040.80" stroke="#B3B3B3" stroke-width="1.8"/>
<text x="132.07" y="1069.00" text-anchor="middle" font-family="'Liberation Sans', Arial, Helvetica, sans-serif" font-size="29.6" fill="#4D4D4D">0</text>
<line x1="66.40" y1="993.10" x2="75.90" y2="993.10" stroke="#B3B3B3" stroke-width="1.8"/>
<text x="59.30" y="1003.40" text-anchor="end" font-family="'Liberation Sans', Arial, Helvetica, sans-serif" font-size="29.6" fill="#4D4D4D">0</text>
<line x1="360.52" y1="1031.50" x2="360.52" y2="1040.80" stroke="#B3B3B3" stroke-width="1.8"/>
<text x="360.52" y="1069.00" text-anchor="middle" font-family="'Liberation Sans', Arial, Helvetica, sans-serif" font-size="29.6" fill="#4D4D4D">1</text>
<line x1="66.40" y1="835.74" x2="75.90" y2="835.74" stroke="#B3B3B3" stroke-width="1.8"/>
<text x="59.30" y="846.04" text-anchor="end" font-family="'Liberation Sans', Arial, Helvetica, sans-serif" font-size="29.6" fill="#4D4D4D">1</text>
<line x1="588.97" y1="1031.50" x2="588.97" y2="1040.80" stroke="#B3B3B3" stroke-width="1.8"/>
<text x="588.97" y="1069.00" text-anchor="middle" font-family="'Liberation Sans', Arial, Helvetica, sans-serif" font-size="29.6" fill="#4D4D4D">2</text>
<line x1="66.40" y1="678.38" x2="75.90" y2="678.38" stroke="#B3B3B3" stroke-width="1.8"/>
<text x="59.30" y="688.68" text-anchor="end" font-family="'Liberation Sans', Arial, Helvetica, sans-serif" font-size="29.6" fill="#4D4D4D">2</text>
<line x1="817.43" y1="1031.50" x2="817.43" y2="1040.80" stroke="#B3B3B3" stroke-width="1.8"/>
<text x="817.43" y="1069.00" text-anchor="middle" font-family="'Liberation Sans', Arial, Helvetica, sans-serif" font-size="29.6" fill="#4D4D4D">3</text>
<line x1="66.40" y1="521.02" x2="75.90" y2="521.02" stroke="#B3B3B3" stroke-width="1.8"/>
<text x="59.30" y="531.32" text-anchor="end" font-family="'Liberation Sans', Arial, Helvetica, sans-serif" font-size="29.6" fill="#4D4D4D">3</text>
<line x1="1045.88" y1="1031.50" x2="1045.88" y2="1040.80" stroke="#B3B3B3" stroke-width="1.8"/>
<text x="1045.88" y="1069.00" text-anchor="middle" font-family="'Liberation Sans', Arial, Helvetica, sans-serif" font-size="29.6" fill="#4D4D4D">4</text>
<line x1="66.40" y1="363.66" x2="75.90" y2="363.66" stroke="#B3B3B3" stroke-width="1.8"/>
<text x="59.30" y="373.96" text-anchor="end" font-family="'Liberation Sans', Arial, Helvetica, sans-serif" font-size="29.6" fill="#4D4D4D">4</text>
<line x1="1274.33" y1="1031.50" x2="1274.33" y2="1040.80" stroke="#B3B3B3" stroke-width="1.8"/>
<text x="1274.33" y="1069.00" text-anchor="middle" font-family="'Liberation Sans', Arial, Helvetica, sans-serif" font-size="29.6" fill="#4D4D4D">5</text>
<line x1="66.40" y1="206.30" x2="75.90" y2="206.30" stroke="#B3B3B3" stroke-width="1.8"/>
<text x="59.30" y="216.60" text-anchor="end" font-family="'Liberation Sans', Arial, Helvetica, sans-serif" font-size="29.6" fill="#4D4D4D">5</text>
<text x="711.60" y="1109.20" text-anchor="middle" font-family="'Liberation Sans', Arial, Helvetica, sans-serif" font-weight="bold" font-size="35" fill="#000">Psychosis</text>
<text transform="translate(27.00,592.50) rotate(-90)" text-anchor="middle" font-family="'Liberation Sans', Arial, Helvetica, sans-serif" font-weight="bold" font-size="34.8" fill="#000">Depression</text>
<circle cx="302.60" cy="363.60" r="7.5" fill="#000"/>
<circle cx="195.40" cy="420.20" r="7.5" fill="#000"/>
<circle cx="591.40" cy="249.60" r="7.5" fill="#000"/>
<circle cx="414.40" cy="380.00" r="7.5" fill="#000"/>
<circle cx="567.20" cy="417.40" r="7.5" fill="#000"/>
<circle cx="533.00" cy="445.00" r="7.5" fill="#000"/>
<circle cx="979.60" cy="294.60" r="7.5" fill="#000"/>
<circle cx="749.20" cy="344.60" r="7.5" fill="#000"/>
<circle cx="703.20" cy="433.00" r="7.5" fill="#000"/>
<circle cx="970.60" cy="439.40" r="7.5" fill="#000"/>
<circle cx="1141.00" cy="222.00" r="7.5" fill="#000"/>
<circle cx="1180.60" cy="265.40" r="7.5" fill="#000"/>
<circle cx="1141.00" cy="334.40" r="7.5" fill="#000"/>
<circle cx="1075.00" cy="360.00" r="7.5" fill="#000"/>
<circle cx="1114.40" cy="403.40" r="7.5" fill="#000"/>
<circle cx="277.20" cy="460.00" r="7.5" fill="#000"/>
<circle cx="230.00" cy="505.60" r="7.5" fill="#000"/>
<circle cx="236.00" cy="506.40" r="7.5" fill="#000"/>
<circle cx="257.00" cy="513.40" r="7.5" fill="#000"/>
<circle cx="325.00" cy="499.20" r="7.5" fill="#000"/>
<circle cx="336.40" cy="532.60" r="7.5" fill="#000"/>
<circle cx="354.00" cy="530.20" r="7.5" fill="#000"/>
<circle cx="243.60" cy="574.80" r="7.5" fill="#000"/>
<circle cx="249.60" cy="580.40" r="7.5" fill="#000"/>
<circle cx="245.40" cy="595.80" r="7.5" fill="#000"/>
<circle cx="220.00" cy="603.60" r="7.5" fill="#000"/>
<circle cx="297.60" cy="602.00" r="7.5" fill="#000"/>
<circle cx="311.60" cy="605.20" r="7.5" fill="#000"/>
<circle cx="299.20" cy="611.00" r="7.5" fill="#000"/>
<circle cx="260.00" cy="625.40" r="7.5" fill="#000"/>
<circle cx="229.40" cy="638.00" r="7.5" fill="#000"/>
<circle cx="310.00" cy="639.40" r="7.5" fill="#000"/>
<circle cx="357.00" cy="636.00" r="7.5" fill="#000"/>
<circle cx="211.40" cy="665.60" r="7.5" fill="#000"/>
<circle cx="392.40" cy="663.40" r="7.5" fill="#000"/>
<circle cx="353.40" cy="675.00" r="7.5" fill="#000"/>
<circle cx="563.00" cy="461.00" r="7.5" fill="#000"/>
<circle cx="424.00" cy="469.00" r="7.5" fill="#000"/>
<circle cx="444.40" cy="506.60" r="7.5" fill="#000"/>
<circle cx="454.40" cy="510.60" r="7.5" fill="#000"/>
<circle cx="532.60" cy="529.00" r="7.5" fill="#000"/>
<circle cx="494.40" cy="547.60" r="7.5" fill="#000"/>
<circle cx="649.40" cy="508.00" r="7.5" fill="#000"/>
<circle cx="644.40" cy="538.60" r="7.5" fill="#000"/>
<circle cx="437.20" cy="613.20" r="7.5" fill="#000"/>
<circle cx="451.20" cy="634.00" r="7.5" fill="#000"/>
<circle cx="578.20" cy="610.20" r="7.5" fill="#000"/>
<circle cx="570.60" cy="642.60" r="7.5" fill="#000"/>
<circle cx="411.90" cy="665.70" r="7.5" fill="#000"/>
<circle cx="419.30" cy="675.00" r="7.5" fill="#000"/>
<circle cx="961.80" cy="463.20" r="7.5" fill="#000"/>
<circle cx="785.80" cy="472.20" r="7.5" fill="#000"/>
<circle cx="880.00" cy="524.40" r="7.5" fill="#000"/>
<circle cx="702.20" cy="544.80" r="7.5" fill="#000"/>
<circle cx="715.00" cy="610.60" r="7.5" fill="#000"/>
<circle cx="946.00" cy="609.40" r="7.5" fill="#000"/>
<circle cx="790.60" cy="663.40" r="7.5" fill="#000"/>
<circle cx="887.60" cy="659.80" r="7.5" fill="#000"/>
<circle cx="1038.60" cy="452.00" r="7.5" fill="#000"/>
<circle cx="1024.20" cy="581.00" r="7.5" fill="#000"/>
<circle cx="1071.60" cy="597.80" r="7.5" fill="#000"/>
<circle cx="145.20" cy="695.20" r="7.5" fill="#000"/>
<circle cx="232.90" cy="697.30" r="7.5" fill="#000"/>
<circle cx="236.40" cy="694.40" r="7.5" fill="#000"/>
<circle cx="329.70" cy="690.00" r="7.5" fill="#000"/>
<circle cx="341.10" cy="689.70" r="7.5" fill="#000"/>
<circle cx="345.90" cy="690.30" r="7.5" fill="#000"/>
<circle cx="292.40" cy="719.20" r="7.5" fill="#000"/>
<circle cx="316.10" cy="719.20" r="7.5" fill="#000"/>
<circle cx="194.00" cy="732.80" r="7.5" fill="#000"/>
<circle cx="204.40" cy="756.00" r="7.5" fill="#000"/>
<circle cx="198.80" cy="763.50" r="7.5" fill="#000"/>
<circle cx="300.10" cy="755.50" r="7.5" fill="#000"/>
<circle cx="317.20" cy="760.30" r="7.5" fill="#000"/>
<circle cx="166.80" cy="774.40" r="7.5" fill="#000"/>
<circle cx="141.20" cy="788.30" r="7.5" fill="#000"/>
<circle cx="228.70" cy="782.10" r="7.5" fill="#000"/>
<circle cx="221.70" cy="790.40" r="7.5" fill="#000"/>
<circle cx="242.50" cy="779.20" r="7.5" fill="#000"/>
<circle cx="208.70" cy="797.90" r="7.5" fill="#000"/>
<circle cx="282.50" cy="771.20" r="7.5" fill="#000"/>
<circle cx="287.30" cy="773.30" r="7.5" fill="#000"/>
<circle cx="282.00" cy="780.50" r="7.5" fill="#000"/>
<circle cx="270.80" cy="786.40" r="7.5" fill="#000"/>
<circle cx="302.50" cy="777.90" r="7.5" fill="#000"/>
<circle cx="242.50" cy="807.20" r="7.5" fill="#000"/>
<circle cx="287.10" cy="803.70" r="7.5" fill="#000"/>
<circle cx="271.90" cy="814.90" r="7.5" fill="#000"/>
<circle cx="166.30" cy="826.90" r="7.5" fill="#000"/>
<circle cx="179.10" cy="845.90" r="7.5" fill="#000"/>
<circle cx="186.50" cy="844.00" r="7.5" fill="#000"/>
<circle cx="216.90" cy="836.00" r="7.5" fill="#000"/>
<circle cx="262.80" cy="829.90" r="7.5" fill="#000"/>
<circle cx="281.50" cy="830.70" r="7.5" fill="#000"/>
<circle cx="275.90" cy="837.60" r="7.5" fill="#000"/>
<circle cx="259.10" cy="843.20" r="7.5" fill="#000"/>
<circle cx="322.80" cy="823.20" r="7.5" fill="#000"/>
<circle cx="308.40" cy="844.50" r="7.5" fill="#000"/>
<circle cx="286.30" cy="849.60" r="7.5" fill="#000"/>
<circle cx="337.20" cy="851.20" r="7.5" fill="#000"/>
<circle cx="200.40" cy="856.80" r="7.5" fill="#000"/>
<circle cx="137.50" cy="865.30" r="7.5" fill="#000"/>
<circle cx="146.00" cy="875.20" r="7.5" fill="#000"/>
<circle cx="188.40" cy="870.70" r="7.5" fill="#000"/>
<circle cx="245.20" cy="862.40" r="7.5" fill="#000"/>
<circle cx="268.40" cy="857.60" r="7.5" fill="#000"/>
<circle cx="262.00" cy="872.80" r="7.5" fill="#000"/>
<circle cx="224.70" cy="874.90" r="7.5" fill="#000"/>
<circle cx="322.00" cy="877.60" r="7.5" fill="#000"/>
<circle cx="386.10" cy="686.70" r="7.5" fill="#000"/>
<circle cx="407.40" cy="694.10" r="7.5" fill="#000"/>
<circle cx="416.50" cy="695.60" r="7.5" fill="#000"/>
<circle cx="424.70" cy="710.00" r="7.5" fill="#000"/>
<circle cx="497.90" cy="705.30" r="7.5" fill="#000"/>
<circle cx="518.10" cy="708.80" r="7.5" fill="#000"/>
<circle cx="569.90" cy="726.40" r="7.5" fill="#000"/>
<circle cx="356.80" cy="716.50" r="7.5" fill="#000"/>
<circle cx="390.20" cy="716.50" r="7.5" fill="#000"/>
<circle cx="456.30" cy="722.40" r="7.5" fill="#000"/>
<circle cx="353.90" cy="742.40" r="7.5" fill="#000"/>
<circle cx="403.40" cy="752.30" r="7.5" fill="#000"/>
<circle cx="475.20" cy="749.10" r="7.5" fill="#000"/>
<circle cx="489.60" cy="761.60" r="7.5" fill="#000"/>
<circle cx="550.90" cy="761.10" r="7.5" fill="#000"/>
<circle cx="462.10" cy="770.10" r="7.5" fill="#000"/>
<circle cx="360.80" cy="786.40" r="7.5" fill="#000"/>
<circle cx="400.50" cy="784.00" r="7.5" fill="#000"/>
<circle cx="348.80" cy="800.00" r="7.5" fill="#000"/>
<circle cx="387.40" cy="799.20" r="7.5" fill="#000"/>
<circle cx="431.20" cy="798.40" r="7.5" fill="#000"/>
<circle cx="454.40" cy="794.40" r="7.5" fill="#000"/>
<circle cx="466.70" cy="790.90" r="7.5" fill="#000"/>
<circle cx="500.30" cy="785.60" r="7.5" fill="#000"/>
<circle cx="523.70" cy="801.90" r="7.5" fill="#000"/>
<circle cx="559.50" cy="803.20" r="7.5" fill="#000"/>
<circle cx="414.40" cy="816.80" r="7.5" fill="#000"/>
<circle cx="438.20" cy="812.30" r="7.5" fill="#000"/>
<circle cx="500.80" cy="817.60" r="7.5" fill="#000"/>
<circle cx="565.60" cy="830.10" r="7.5" fill="#000"/>
<circle cx="395.20" cy="843.20" r="7.5" fill="#000"/>
<circle cx="413.30" cy="840.00" r="7.5" fill="#000"/>
<circle cx="388.80" cy="856.80" r="7.5" fill="#000"/>
<circle cx="390.90" cy="860.00" r="7.5" fill="#000"/>
<circle cx="457.60" cy="853.60" r="7.5" fill="#000"/>
<circle cx="492.80" cy="848.00" r="7.5" fill="#000"/>
<circle cx="504.80" cy="846.90" r="7.5" fill="#000"/>
<circle cx="520.50" cy="848.80" r="7.5" fill="#000"/>
<circle cx="540.00" cy="864.30" r="7.5" fill="#000"/>
<circle cx="351.20" cy="865.60" r="7.5" fill="#000"/>
<circle cx="348.80" cy="876.00" r="7.5" fill="#000"/>
<circle cx="406.90" cy="874.40" r="7.5" fill="#000"/>
<circle cx="443.20" cy="868.80" r="7.5" fill="#000"/>
<circle cx="554.90" cy="877.10" r="7.5" fill="#000"/>
<circle cx="649.70" cy="696.50" r="7.5" fill="#000"/>
<circle cx="644.40" cy="755.50" r="7.5" fill="#000"/>
<circle cx="596.40" cy="826.90" r="7.5" fill="#000"/>
<circle cx="714.00" cy="849.30" r="7.5" fill="#000"/>
<circle cx="1011.60" cy="704.00" r="7.5" fill="#000"/>
<circle cx="866.80" cy="739.20" r="7.5" fill="#000"/>
<circle cx="954.20" cy="754.60" r="7.5" fill="#000"/>
<circle cx="938.20" cy="777.00" r="7.5" fill="#000"/>
<circle cx="813.40" cy="781.40" r="7.5" fill="#000"/>
<circle cx="856.40" cy="795.80" r="7.5" fill="#000"/>
<circle cx="848.00" cy="811.00" r="7.5" fill="#000"/>
<circle cx="1045.80" cy="835.40" r="7.5" fill="#000"/>
<circle cx="1146.80" cy="883.00" r="7.5" fill="#000"/>
<circle cx="1124.70" cy="946.30" r="7.5" fill="#000"/>
<circle cx="198.00" cy="891.50" r="7.5" fill="#000"/>
<circle cx="306.80" cy="896.80" r="7.5" fill="#000"/>
<circle cx="314.50" cy="898.40" r="7.5" fill="#000"/>
<circle cx="330.50" cy="892.80" r="7.5" fill="#000"/>
<circle cx="209.50" cy="911.50" r="7.5" fill="#000"/>
<circle cx="271.30" cy="909.60" r="7.5" fill="#000"/>
<circle cx="277.70" cy="918.10" r="7.5" fill="#000"/>
<circle cx="213.20" cy="930.70" r="7.5" fill="#000"/>
<circle cx="230.80" cy="927.50" r="7.5" fill="#000"/>
<circle cx="142.80" cy="938.40" r="7.5" fill="#000"/>
<circle cx="175.60" cy="946.40" r="7.5" fill="#000"/>
<circle cx="303.30" cy="946.40" r="7.5" fill="#000"/>
<circle cx="318.00" cy="939.50" r="7.5" fill="#000"/>
<circle cx="327.60" cy="932.80" r="7.5" fill="#000"/>
<circle cx="271.90" cy="951.50" r="7.5" fill="#000"/>
<circle cx="277.20" cy="957.30" r="7.5" fill="#000"/>
<circle cx="253.20" cy="961.10" r="7.5" fill="#000"/>
<circle cx="134.00" cy="977.10" r="7.5" fill="#000"/>
<circle cx="200.90" cy="976.30" r="7.5" fill="#000"/>
<circle cx="260.40" cy="977.10" r="7.5" fill="#000"/>
<circle cx="248.40" cy="990.70" r="7.5" fill="#000"/>
<circle cx="351.50" cy="890.40" r="7.5" fill="#000"/>
<circle cx="370.40" cy="891.50" r="7.5" fill="#000"/>
<circle cx="406.60" cy="889.60" r="7.5" fill="#000"/>
<circle cx="479.20" cy="895.20" r="7.5" fill="#000"/>
<circle cx="505.30" cy="886.10" r="7.5" fill="#000"/>
<circle cx="386.40" cy="908.30" r="7.5" fill="#000"/>
<circle cx="424.80" cy="914.40" r="7.5" fill="#000"/>
<circle cx="356.00" cy="933.60" r="7.5" fill="#000"/>
<circle cx="386.10" cy="944.00" r="7.5" fill="#000"/>
<circle cx="415.80" cy="942.40" r="7.5" fill="#000"/>
<circle cx="478.40" cy="938.10" r="7.5" fill="#000"/>
<circle cx="496.50" cy="926.90" r="7.5" fill="#000"/>
<circle cx="351.20" cy="957.90" r="7.5" fill="#000"/>
<circle cx="377.60" cy="972.00" r="7.5" fill="#000"/>
<circle cx="391.20" cy="973.60" r="7.5" fill="#000"/>
<circle cx="595.60" cy="911.40" r="7.5" fill="#000"/>
<circle cx="703.60" cy="894.00" r="7.5" fill="#000"/>
<circle cx="776.60" cy="897.00" r="7.5" fill="#000"/>
<g transform="translate(-1.3,1187.4)">
<path d="M128.80,117.86 C129.30,117.45 130.80,116.24 131.80,115.42 C132.80,114.60 133.80,113.78 134.80,112.96 C135.80,112.14 136.80,111.32 137.80,110.49 C138.80,109.66 139.80,108.83 140.80,108.00 C141.80,107.17 142.80,106.34 143.80,105.50 C144.80,104.66 145.80,103.83 146.80,102.99 C147.80,102.15 148.80,101.31 149.80,100.47 C150.80,99.63 151.80,98.79 152.80,97.95 C153.80,97.11 154.80,96.27 155.80,95.42 C156.80,94.58 157.80,93.72 158.80,92.88 C159.80,92.03 160.80,91.19 161.80,90.35 C162.80,89.51 163.80,88.66 164.80,87.82 C165.80,86.97 166.80,86.12 167.80,85.28 C168.80,84.44 169.80,83.60 170.80,82.76 C171.80,81.92 172.80,81.08 173.80,80.24 C174.80,79.40 175.80,78.56 176.80,77.73 C177.80,76.90 178.80,76.06 179.80,75.23 C180.80,74.40 181.80,73.57 182.80,72.74 C183.80,71.91 184.80,71.09 185.80,70.27 C186.80,69.45 187.80,68.63 188.80,67.81 C189.80,66.99 190.80,66.18 191.80,65.37 C192.80,64.56 193.80,63.75 194.80,62.95 C195.80,62.15 196.80,61.35 197.80,60.56 C198.80,59.77 199.80,58.98 200.80,58.19 C201.80,57.40 202.80,56.62 203.80,55.84 C204.80,55.06 205.80,54.29 206.80,53.52 C207.80,52.75 208.80,51.99 209.80,51.23 C210.80,50.47 211.80,49.73 212.80,48.98 C213.80,48.23 214.80,47.48 215.80,46.75 C216.80,46.02 217.80,45.29 218.80,44.57 C219.80,43.85 220.80,43.13 221.80,42.42 C222.80,41.71 223.80,41.01 224.80,40.31 C225.80,39.61 226.80,38.92 227.80,38.24 C228.80,37.56 229.80,36.88 230.80,36.21 C231.80,35.54 232.80,34.88 233.80,34.23 C234.80,33.58 235.80,32.94 236.80,32.30 C237.80,31.66 238.80,31.03 239.80,30.41 C240.80,29.79 241.80,29.18 242.80,28.58 C243.80,27.98 244.80,27.39 245.80,26.80 C246.80,26.21 247.80,25.64 248.80,25.07 C249.80,24.50 250.80,23.95 251.80,23.41 C252.80,22.87 253.80,22.33 254.80,21.80 C255.80,21.27 256.80,20.76 257.80,20.25 C258.80,19.74 259.80,19.25 260.80,18.76 C261.80,18.28 262.80,17.80 263.80,17.34 C264.80,16.88 265.80,16.42 266.80,15.98 C267.80,15.54 268.80,15.12 269.80,14.70 C270.80,14.28 271.80,13.88 272.80,13.48 C273.80,13.09 274.80,12.70 275.80,12.33 C276.80,11.96 277.80,11.60 278.80,11.25 C279.80,10.90 280.80,10.57 281.80,10.24 C282.80,9.91 283.80,9.59 284.80,9.29 C285.80,8.98 286.80,8.69 287.80,8.41 C288.80,8.13 289.80,7.85 290.80,7.59 C291.80,7.33 292.80,7.07 293.80,6.83 C294.80,6.59 295.80,6.35 296.80,6.13 C297.80,5.91 298.80,5.70 299.80,5.50 C300.80,5.30 301.80,5.11 302.80,4.92 C303.80,4.73 304.80,4.55 305.80,4.39 C306.80,4.22 307.80,4.08 308.80,3.93 C309.80,3.78 310.80,3.64 311.80,3.51 C312.80,3.38 313.80,3.27 314.80,3.16 C315.80,3.05 316.80,2.95 317.80,2.85 C318.80,2.75 319.80,2.67 320.80,2.59 C321.80,2.51 322.80,2.45 323.80,2.39 C324.80,2.33 325.80,2.27 326.80,2.23 C327.80,2.19 328.80,2.15 329.80,2.12 C330.80,2.09 331.80,2.06 332.80,2.05 C333.80,2.03 334.80,2.03 335.80,2.03 C336.80,2.03 337.80,2.04 338.80,2.06 C339.80,2.08 340.80,2.09 341.80,2.12 C342.80,2.15 343.80,2.19 344.80,2.23 C345.80,2.27 346.80,2.33 347.80,2.39 C348.80,2.45 349.80,2.52 350.80,2.60 C351.80,2.68 352.80,2.78 353.80,2.88 C354.80,2.98 355.80,3.09 356.80,3.21 C357.80,3.33 358.80,3.47 359.80,3.62 C360.80,3.77 361.80,3.92 362.80,4.09 C363.80,4.26 364.80,4.45 365.80,4.65 C366.80,4.85 367.80,5.05 368.80,5.28 C369.80,5.51 370.80,5.75 371.80,6.01 C372.80,6.27 373.80,6.54 374.80,6.82 C375.80,7.11 376.80,7.41 377.80,7.72 C378.80,8.03 379.80,8.36 380.80,8.70 C381.80,9.04 382.80,9.40 383.80,9.77 C384.80,10.14 385.80,10.53 386.80,10.93 C387.80,11.33 388.80,11.74 389.80,12.17 C390.80,12.60 391.80,13.03 392.80,13.48 C393.80,13.93 394.80,14.40 395.80,14.88 C396.80,15.36 397.80,15.85 398.80,16.36 C399.80,16.87 400.80,17.39 401.80,17.92 C402.80,18.45 403.80,19.00 404.80,19.55 C405.80,20.10 406.80,20.67 407.80,21.24 C408.80,21.81 409.80,22.40 410.80,22.99 C411.80,23.58 412.80,24.18 413.80,24.78 C414.80,25.39 415.80,26.00 416.80,26.62 C417.80,27.24 418.80,27.86 419.80,28.48 C420.80,29.10 421.80,29.73 422.80,30.36 C423.80,30.99 424.80,31.62 425.80,32.25 C426.80,32.88 427.80,33.51 428.80,34.14 C429.80,34.77 430.80,35.40 431.80,36.02 C432.80,36.65 433.80,37.27 434.80,37.89 C435.80,38.51 436.80,39.13 437.80,39.74 C438.80,40.35 439.80,40.95 440.80,41.55 C441.80,42.15 442.80,42.74 443.80,43.32 C444.80,43.90 445.80,44.48 446.80,45.05 C447.80,45.62 448.80,46.18 449.80,46.73 C450.80,47.28 451.80,47.82 452.80,48.36 C453.80,48.90 454.80,49.43 455.80,49.95 C456.80,50.47 457.80,50.98 458.80,51.48 C459.80,51.98 460.80,52.48 461.80,52.96 C462.80,53.45 463.80,53.92 464.80,54.39 C465.80,54.86 466.80,55.30 467.80,55.75 C468.80,56.20 469.80,56.64 470.80,57.06 C471.80,57.48 472.80,57.89 473.80,58.30 C474.80,58.70 475.80,59.10 476.80,59.49 C477.80,59.88 478.80,60.26 479.80,60.63 C480.80,61.00 481.80,61.36 482.80,61.72 C483.80,62.08 484.80,62.43 485.80,62.77 C486.80,63.11 487.80,63.45 488.80,63.78 C489.80,64.11 490.80,64.44 491.80,64.76 C492.80,65.08 493.80,65.41 494.80,65.72 C495.80,66.03 496.80,66.34 497.80,66.65 C498.80,66.96 499.80,67.26 500.80,67.56 C501.80,67.86 502.80,68.17 503.80,68.47 C504.80,68.77 505.80,69.06 506.80,69.36 C507.80,69.66 508.80,69.95 509.80,70.25 C510.80,70.55 511.80,70.84 512.80,71.14 C513.80,71.44 514.80,71.75 515.80,72.05 C516.80,72.35 517.80,72.65 518.80,72.96 C519.80,73.27 520.80,73.58 521.80,73.89 C522.80,74.20 523.80,74.52 524.80,74.84 C525.80,75.16 526.80,75.48 527.80,75.81 C528.80,76.14 529.80,76.48 530.80,76.82 C531.80,77.16 532.80,77.50 533.80,77.86 C534.80,78.22 535.80,78.58 536.80,78.95 C537.80,79.32 538.80,79.69 539.80,80.08 C540.80,80.47 541.80,80.86 542.80,81.26 C543.80,81.66 544.80,82.07 545.80,82.49 C546.80,82.91 547.80,83.33 548.80,83.76 C549.80,84.19 550.80,84.63 551.80,85.08 C552.80,85.53 553.80,85.99 554.80,86.45 C555.80,86.91 556.80,87.38 557.80,87.85 C558.80,88.32 559.80,88.80 560.80,89.29 C561.80,89.78 562.80,90.27 563.80,90.77 C564.80,91.27 565.80,91.78 566.80,92.29 C567.80,92.80 568.80,93.32 569.80,93.84 C570.80,94.36 571.80,94.89 572.80,95.42 C573.80,95.95 574.80,96.48 575.80,97.02 C576.80,97.56 577.80,98.11 578.80,98.66 C579.80,99.21 580.80,99.76 581.80,100.32 C582.80,100.88 583.80,101.44 584.80,102.00 C585.80,102.56 586.80,103.12 587.80,103.69 C588.80,104.25 589.80,104.82 590.80,105.39 C591.80,105.96 592.80,106.53 593.80,107.09 C594.80,107.66 595.80,108.22 596.80,108.78 C597.80,109.34 598.80,109.91 599.80,110.47 C600.80,111.03 601.80,111.58 602.80,112.13 C603.80,112.68 604.80,113.23 605.80,113.77 C606.80,114.31 607.80,114.85 608.80,115.38 C609.80,115.91 610.80,116.43 611.80,116.95 C612.80,117.47 613.80,117.98 614.80,118.48 C615.80,118.98 616.80,119.47 617.80,119.96 C618.80,120.45 619.80,120.93 620.80,121.40 C621.80,121.87 622.80,122.34 623.80,122.80 C624.80,123.26 625.80,123.71 626.80,124.15 C627.80,124.59 628.80,125.02 629.80,125.44 C630.80,125.86 631.80,126.28 632.80,126.69 C633.80,127.10 634.80,127.49 635.80,127.88 C636.80,128.27 637.80,128.65 638.80,129.02 C639.80,129.39 640.80,129.76 641.80,130.11 C642.80,130.46 643.80,130.80 644.80,131.13 C645.80,131.46 646.80,131.79 647.80,132.10 C648.80,132.41 649.80,132.72 650.80,133.01 C651.80,133.30 652.80,133.58 653.80,133.85 C654.80,134.12 655.80,134.38 656.80,134.63 C657.80,134.88 658.80,135.12 659.80,135.35 C660.80,135.58 661.80,135.79 662.80,136.00 C663.80,136.21 664.80,136.40 665.80,136.58 C666.80,136.76 667.80,136.93 668.80,137.09 C669.80,137.25 670.80,137.39 671.80,137.52 C672.80,137.65 673.80,137.78 674.80,137.89 C675.80,138.00 676.80,138.10 677.80,138.19 C678.80,138.28 679.80,138.36 680.80,138.43 C681.80,138.50 682.80,138.55 683.80,138.60 C684.80,138.65 685.80,138.69 686.80,138.72 C687.80,138.75 688.80,138.77 689.80,138.78 C690.80,138.79 691.80,138.79 692.80,138.79 C693.80,138.78 694.80,138.77 695.80,138.75 C696.80,138.73 697.80,138.70 698.80,138.67 C699.80,138.63 700.80,138.59 701.80,138.54 C702.80,138.49 703.80,138.44 704.80,138.38 C705.80,138.32 706.80,138.24 707.80,138.17 C708.80,138.10 709.80,138.02 710.80,137.94 C711.80,137.86 712.80,137.76 713.80,137.67 C714.80,137.58 715.80,137.48 716.80,137.38 C717.80,137.28 718.80,137.17 719.80,137.06 C720.80,136.95 721.80,136.84 722.80,136.72 C723.80,136.60 724.80,136.49 725.80,136.37 C726.80,136.25 727.80,136.12 728.80,136.00 C729.80,135.88 730.80,135.75 731.80,135.62 C732.80,135.49 733.80,135.36 734.80,135.23 C735.80,135.10 736.80,134.97 737.80,134.84 C738.80,134.71 739.80,134.57 740.80,134.44 C741.80,134.31 742.80,134.17 743.80,134.04 C744.80,133.91 745.80,133.78 746.80,133.65 C747.80,133.52 748.80,133.40 749.80,133.27 C750.80,133.15 751.80,133.02 752.80,132.90 C753.80,132.78 754.80,132.66 755.80,132.54 C756.80,132.42 757.80,132.30 758.80,132.19 C759.80,132.08 760.80,131.97 761.80,131.87 C762.80,131.77 763.80,131.67 764.80,131.57 C765.80,131.47 766.80,131.38 767.80,131.29 C768.80,131.20 769.80,131.12 770.80,131.05 C771.80,130.98 772.80,130.91 773.80,130.84 C774.80,130.78 775.80,130.71 776.80,130.66 C777.80,130.61 778.80,130.56 779.80,130.52 C780.80,130.48 781.80,130.44 782.80,130.42 C783.80,130.39 784.80,130.38 785.80,130.37 C786.80,130.36 787.80,130.36 788.80,130.36 C789.80,130.37 790.80,130.38 791.80,130.40 C792.80,130.42 793.80,130.46 794.80,130.50 C795.80,130.54 796.80,130.60 797.80,130.66 C798.80,130.72 799.80,130.80 800.80,130.88 C801.80,130.96 802.80,131.06 803.80,131.16 C804.80,131.26 805.80,131.37 806.80,131.50 C807.80,131.63 808.80,131.77 809.80,131.92 C810.80,132.07 811.80,132.23 812.80,132.40 C813.80,132.57 814.80,132.76 815.80,132.95 C816.80,133.14 817.80,133.35 818.80,133.56 C819.80,133.77 820.80,134.00 821.80,134.22 C822.80,134.44 823.80,134.68 824.80,134.91 C825.80,135.14 826.80,135.39 827.80,135.63 C828.80,135.87 829.80,136.12 830.80,136.37 C831.80,136.62 832.80,136.87 833.80,137.12 C834.80,137.37 835.80,137.63 836.80,137.88 C837.80,138.13 838.80,138.38 839.80,138.63 C840.80,138.88 841.80,139.13 842.80,139.37 C843.80,139.61 844.80,139.85 845.80,140.08 C846.80,140.31 847.80,140.54 848.80,140.76 C849.80,140.98 850.80,141.18 851.80,141.39 C852.80,141.59 853.80,141.80 854.80,141.99 C855.80,142.18 856.80,142.36 857.80,142.54 C858.80,142.72 859.80,142.89 860.80,143.06 C861.80,143.23 862.80,143.39 863.80,143.55 C864.80,143.71 865.80,143.85 866.80,144.00 C867.80,144.15 868.80,144.29 869.80,144.43 C870.80,144.57 871.80,144.71 872.80,144.84 C873.80,144.97 874.80,145.09 875.80,145.22 C876.80,145.34 877.80,145.47 878.80,145.59 C879.80,145.71 880.80,145.82 881.80,145.94 C882.80,146.06 883.80,146.17 884.80,146.28 C885.80,146.39 886.80,146.50 887.80,146.61 C888.80,146.72 889.80,146.82 890.80,146.92 C891.80,147.02 892.80,147.12 893.80,147.21 C894.80,147.31 895.80,147.40 896.80,147.49 C897.80,147.58 898.80,147.67 899.80,147.75 C900.80,147.83 901.80,147.91 902.80,147.99 C903.80,148.07 904.80,148.14 905.80,148.21 C906.80,148.28 907.80,148.35 908.80,148.41 C909.80,148.47 910.80,148.53 911.80,148.59 C912.80,148.65 913.80,148.70 914.80,148.75 C915.80,148.80 916.80,148.84 917.80,148.88 C918.80,148.92 919.80,148.96 920.80,148.99 C921.80,149.02 922.80,149.06 923.80,149.08 C924.80,149.11 925.80,149.12 926.80,149.14 C927.80,149.16 928.80,149.17 929.80,149.18 C930.80,149.19 931.80,149.18 932.80,149.18 C933.80,149.18 934.80,149.17 935.80,149.16 C936.80,149.15 937.80,149.13 938.80,149.11 C939.80,149.09 940.80,149.07 941.80,149.04 C942.80,149.01 943.80,148.97 944.80,148.93 C945.80,148.89 946.80,148.84 947.80,148.79 C948.80,148.74 949.80,148.69 950.80,148.64 C951.80,148.58 952.80,148.52 953.80,148.46 C954.80,148.40 955.80,148.33 956.80,148.26 C957.80,148.19 958.80,148.12 959.80,148.05 C960.80,147.98 961.80,147.91 962.80,147.83 C963.80,147.75 964.80,147.68 965.80,147.60 C966.80,147.52 967.80,147.44 968.80,147.36 C969.80,147.28 970.80,147.20 971.80,147.12 C972.80,147.04 973.80,146.95 974.80,146.87 C975.80,146.79 976.80,146.70 977.80,146.62 C978.80,146.54 979.80,146.46 980.80,146.38 C981.80,146.30 982.80,146.23 983.80,146.15 C984.80,146.07 985.80,145.99 986.80,145.92 C987.80,145.85 988.80,145.78 989.80,145.71 C990.80,145.64 991.80,145.57 992.80,145.51 C993.80,145.45 994.80,145.39 995.80,145.33 C996.80,145.27 997.80,145.21 998.80,145.16 C999.80,145.11 1000.80,145.06 1001.80,145.02 C1002.80,144.98 1003.80,144.94 1004.80,144.91 C1005.80,144.88 1006.80,144.84 1007.80,144.82 C1008.80,144.80 1009.80,144.78 1010.80,144.77 C1011.80,144.76 1012.80,144.74 1013.80,144.74 C1014.80,144.74 1015.80,144.74 1016.80,144.75 C1017.80,144.76 1018.80,144.76 1019.80,144.78 C1020.80,144.80 1021.80,144.82 1022.80,144.85 C1023.80,144.88 1024.80,144.91 1025.80,144.94 C1026.80,144.97 1027.80,145.02 1028.80,145.06 C1029.80,145.10 1030.80,145.15 1031.80,145.20 C1032.80,145.25 1033.80,145.31 1034.80,145.37 C1035.80,145.43 1036.80,145.49 1037.80,145.56 C1038.80,145.63 1039.80,145.70 1040.80,145.77 C1041.80,145.84 1042.80,145.92 1043.80,146.00 C1044.80,146.08 1045.80,146.16 1046.80,146.25 C1047.80,146.34 1048.80,146.43 1049.80,146.52 C1050.80,146.61 1051.80,146.70 1052.80,146.80 C1053.80,146.90 1054.80,147.00 1055.80,147.10 C1056.80,147.20 1057.80,147.31 1058.80,147.42 C1059.80,147.53 1060.80,147.64 1061.80,147.75 C1062.80,147.86 1063.80,147.97 1064.80,148.08 C1065.80,148.19 1066.80,148.31 1067.80,148.43 C1068.80,148.55 1069.80,148.67 1070.80,148.79 C1071.80,148.91 1072.80,149.04 1073.80,149.16 C1074.80,149.28 1075.80,149.41 1076.80,149.53 C1077.80,149.66 1078.80,149.78 1079.80,149.91 C1080.80,150.04 1081.80,150.17 1082.80,150.30 C1083.80,150.43 1084.80,150.55 1085.80,150.68 C1086.80,150.81 1087.80,150.94 1088.80,151.07 C1089.80,151.20 1090.80,151.34 1091.80,151.47 C1092.80,151.60 1093.80,151.73 1094.80,151.86 C1095.80,151.99 1096.80,152.12 1097.80,152.25 C1098.80,152.38 1099.80,152.51 1100.80,152.64 C1101.80,152.77 1102.80,152.89 1103.80,153.02 C1104.80,153.15 1105.80,153.28 1106.80,153.41 C1107.80,153.54 1108.80,153.66 1109.80,153.79 C1110.80,153.91 1111.80,154.04 1112.80,154.16 C1113.80,154.28 1114.80,154.40 1115.80,154.52 C1116.80,154.64 1117.80,154.76 1118.80,154.88 C1119.80,155.00 1120.80,155.12 1121.80,155.23 C1122.80,155.34 1123.80,155.45 1124.80,155.56 C1125.80,155.67 1126.80,155.78 1127.80,155.89 C1128.80,156.00 1129.80,156.10 1130.80,156.20 C1131.80,156.30 1132.80,156.40 1133.80,156.50 C1134.80,156.60 1135.80,156.70 1136.80,156.79 C1137.80,156.88 1138.80,156.97 1139.80,157.06 C1140.80,157.15 1141.80,157.23 1142.80,157.31 C1143.80,157.39 1144.80,157.47 1145.80,157.55 C1146.80,157.63 1147.80,157.70 1148.80,157.77 C1149.80,157.84 1150.80,157.90 1151.80,157.96 C1152.80,158.02 1153.80,158.08 1154.80,158.14 C1155.80,158.20 1156.80,158.25 1157.80,158.30 C1158.80,158.35 1159.80,158.40 1160.80,158.44 C1161.80,158.48 1162.80,158.53 1163.80,158.57 C1164.80,158.61 1165.80,158.65 1166.80,158.68 C1167.80,158.71 1168.80,158.75 1169.80,158.77 C1170.80,158.79 1171.80,158.80 1172.80,158.80 C1173.80,158.81 1174.80,158.80 1175.80,158.80 C1176.80,158.80 1177.80,158.80 1178.80,158.80 C1179.80,158.80 1180.80,158.80 1181.80,158.80 C1182.80,158.80 1183.80,158.80 1184.80,158.80 C1185.80,158.80 1186.80,158.80 1187.80,158.80 C1188.80,158.80 1189.80,158.80 1190.80,158.80 C1191.80,158.80 1192.80,158.80 1193.80,158.80 C1194.80,158.80 1195.80,158.80 1196.80,158.80 C1197.80,158.80 1198.80,158.80 1199.80,158.80 C1200.80,158.80 1201.80,158.80 1202.80,158.80 C1203.80,158.80 1204.80,158.80 1205.80,158.80 C1206.80,158.80 1207.80,158.80 1208.80,158.80 C1209.80,158.80 1210.80,158.80 1211.80,158.80 C1212.80,158.80 1213.80,158.80 1214.80,158.80 C1215.80,158.80 1216.80,158.80 1217.80,158.80 C1218.80,158.80 1219.80,158.80 1220.80,158.80 C1221.80,158.80 1222.80,158.80 1223.80,158.80 C1224.80,158.80 1225.80,158.80 1226.80,158.80 C1227.80,158.80 1228.80,158.80 1229.80,158.80 C1230.80,158.80 1231.80,158.80 1232.80,158.80 C1233.80,158.80 1234.80,158.80 1235.80,158.80 C1236.80,158.80 1237.80,158.80 1238.80,158.80 C1239.80,158.80 1240.80,158.80 1241.80,158.80 C1242.80,158.80 1243.80,158.80 1244.80,158.80 C1245.80,158.80 1246.80,158.80 1247.80,158.80 C1248.80,158.80 1249.80,158.80 1250.80,158.80 C1251.80,158.80 1252.80,158.80 1253.80,158.80 C1254.80,158.80 1255.80,158.80 1256.80,158.80 C1257.80,158.80 1258.80,158.80 1259.80,158.80 C1260.80,158.80 1261.80,158.80 1262.80,158.80 C1263.80,158.80 1264.80,158.80 1265.80,158.80 C1266.80,158.80 1268.03,158.80 1268.80,158.80 C1269.57,158.80 1270.13,158.80 1270.40,158.80 L1270.40,159 L128.5,159 L128.5,118.36 Z" fill="#B3B3B3"/>
<path d="M128.80,117.86 C129.30,117.45 130.80,116.24 131.80,115.42 C132.80,114.60 133.80,113.78 134.80,112.96 C135.80,112.14 136.80,111.32 137.80,110.49 C138.80,109.66 139.80,108.83 140.80,108.00 C141.80,107.17 142.80,106.34 143.80,105.50 C144.80,104.66 145.80,103.83 146.80,102.99 C147.80,102.15 148.80,101.31 149.80,100.47 C150.80,99.63 151.80,98.79 152.80,97.95 C153.80,97.11 154.80,96.27 155.80,95.42 C156.80,94.58 157.80,93.72 158.80,92.88 C159.80,92.03 160.80,91.19 161.80,90.35 C162.80,89.51 163.80,88.66 164.80,87.82 C165.80,86.97 166.80,86.12 167.80,85.28 C168.80,84.44 169.80,83.60 170.80,82.76 C171.80,81.92 172.80,81.08 173.80,80.24 C174.80,79.40 175.80,78.56 176.80,77.73 C177.80,76.90 178.80,76.06 179.80,75.23 C180.80,74.40 181.80,73.57 182.80,72.74 C183.80,71.91 184.80,71.09 185.80,70.27 C186.80,69.45 187.80,68.63 188.80,67.81 C189.80,66.99 190.80,66.18 191.80,65.37 C192.80,64.56 193.80,63.75 194.80,62.95 C195.80,62.15 196.80,61.35 197.80,60.56 C198.80,59.77 199.80,58.98 200.80,58.19 C201.80,57.40 202.80,56.62 203.80,55.84 C204.80,55.06 205.80,54.29 206.80,53.52 C207.80,52.75 208.80,51.99 209.80,51.23 C210.80,50.47 211.80,49.73 212.80,48.98 C213.80,48.23 214.80,47.48 215.80,46.75 C216.80,46.02 217.80,45.29 218.80,44.57 C219.80,43.85 220.80,43.13 221.80,42.42 C222.80,41.71 223.80,41.01 224.80,40.31 C225.80,39.61 226.80,38.92 227.80,38.24 C228.80,37.56 229.80,36.88 230.80,36.21 C231.80,35.54 232.80,34.88 233.80,34.23 C234.80,33.58 235.80,32.94 236.80,32.30 C237.80,31.66 238.80,31.03 239.80,30.41 C240.80,29.79 241.80,29.18 242.80,28.58 C243.80,27.98 244.80,27.39 245.80,26.80 C246.80,26.21 247.80,25.64 248.80,25.07 C249.80,24.50 250.80,23.95 251.80,23.41 C252.80,22.87 253.80,22.33 254.80,21.80 C255.80,21.27 256.80,20.76 257.80,20.25 C258.80,19.74 259.80,19.25 260.80,18.76 C261.80,18.28 262.80,17.80 263.80,17.34 C264.80,16.88 265.80,16.42 266.80,15.98 C267.80,15.54 268.80,15.12 269.80,14.70 C270.80,14.28 271.80,13.88 272.80,13.48 C273.80,13.09 274.80,12.70 275.80,12.33 C276.80,11.96 277.80,11.60 278.80,11.25 C279.80,10.90 280.80,10.57 281.80,10.24 C282.80,9.91 283.80,9.59 284.80,9.29 C285.80,8.98 286.80,8.69 287.80,8.41 C288.80,8.13 289.80,7.85 290.80,7.59 C291.80,7.33 292.80,7.07 293.80,6.83 C294.80,6.59 295.80,6.35 296.80,6.13 C297.80,5.91 298.80,5.70 299.80,5.50 C300.80,5.30 301.80,5.11 302.80,4.92 C303.80,4.73 304.80,4.55 305.80,4.39 C306.80,4.22 307.80,4.08 308.80,3.93 C309.80,3.78 310.80,3.64 311.80,3.51 C312.80,3.38 313.80,3.27 314.80,3.16 C315.80,3.05 316.80,2.95 317.80,2.85 C318.80,2.75 319.80,2.67 320.80,2.59 C321.80,2.51 322.80,2.45 323.80,2.39 C324.80,2.33 325.80,2.27 326.80,2.23 C327.80,2.19 328.80,2.15 329.80,2.12 C330.80,2.09 331.80,2.06 332.80,2.05 C333.80,2.03 334.80,2.03 335.80,2.03 C336.80,2.03 337.80,2.04 338.80,2.06 C339.80,2.08 340.80,2.09 341.80,2.12 C342.80,2.15 343.80,2.19 344.80,2.23 C345.80,2.27 346.80,2.33 347.80,2.39 C348.80,2.45 349.80,2.52 350.80,2.60 C351.80,2.68 352.80,2.78 353.80,2.88 C354.80,2.98 355.80,3.09 356.80,3.21 C357.80,3.33 358.80,3.47 359.80,3.62 C360.80,3.77 361.80,3.92 362.80,4.09 C363.80,4.26 364.80,4.45 365.80,4.65 C366.80,4.85 367.80,5.05 368.80,5.28 C369.80,5.51 370.80,5.75 371.80,6.01 C372.80,6.27 373.80,6.54 374.80,6.82 C375.80,7.11 376.80,7.41 377.80,7.72 C378.80,8.03 379.80,8.36 380.80,8.70 C381.80,9.04 382.80,9.40 383.80,9.77 C384.80,10.14 385.80,10.53 386.80,10.93 C387.80,11.33 388.80,11.74 389.80,12.17 C390.80,12.60 391.80,13.03 392.80,13.48 C393.80,13.93 394.80,14.40 395.80,14.88 C396.80,15.36 397.80,15.85 398.80,16.36 C399.80,16.87 400.80,17.39 401.80,17.92 C402.80,18.45 403.80,19.00 404.80,19.55 C405.80,20.10 406.80,20.67 407.80,21.24 C408.80,21.81 409.80,22.40 410.80,22.99 C411.80,23.58 412.80,24.18 413.80,24.78 C414.80,25.39 415.80,26.00 416.80,26.62 C417.80,27.24 418.80,27.86 419.80,28.48 C420.80,29.10 421.80,29.73 422.80,30.36 C423.80,30.99 424.80,31.62 425.80,32.25 C426.80,32.88 427.80,33.51 428.80,34.14 C429.80,34.77 430.80,35.40 431.80,36.02 C432.80,36.65 433.80,37.27 434.80,37.89 C435.80,38.51 436.80,39.13 437.80,39.74 C438.80,40.35 439.80,40.95 440.80,41.55 C441.80,42.15 442.80,42.74 443.80,43.32 C444.80,43.90 445.80,44.48 446.80,45.05 C447.80,45.62 448.80,46.18 449.80,46.73 C450.80,47.28 451.80,47.82 452.80,48.36 C453.80,48.90 454.80,49.43 455.80,49.95 C456.80,50.47 457.80,50.98 458.80,51.48 C459.80,51.98 460.80,52.48 461.80,52.96 C462.80,53.45 463.80,53.92 464.80,54.39 C465.80,54.86 466.80,55.30 467.80,55.75 C468.80,56.20 469.80,56.64 470.80,57.06 C471.80,57.48 472.80,57.89 473.80,58.30 C474.80,58.70 475.80,59.10 476.80,59.49 C477.80,59.88 478.80,60.26 479.80,60.63 C480.80,61.00 481.80,61.36 482.80,61.72 C483.80,62.08 484.80,62.43 485.80,62.77 C486.80,63.11 487.80,63.45 488.80,63.78 C489.80,64.11 490.80,64.44 491.80,64.76 C492.80,65.08 493.80,65.41 494.80,65.72 C495.80,66.03 496.80,66.34 497.80,66.65 C498.80,66.96 499.80,67.26 500.80,67.56 C501.80,67.86 502.80,68.17 503.80,68.47 C504.80,68.77 505.80,69.06 506.80,69.36 C507.80,69.66 508.80,69.95 509.80,70.25 C510.80,70.55 511.80,70.84 512.80,71.14 C513.80,71.44 514.80,71.75 515.80,72.05 C516.80,72.35 517.80,72.65 518.80,72.96 C519.80,73.27 520.80,73.58 521.80,73.89 C522.80,74.20 523.80,74.52 524.80,74.84 C525.80,75.16 526.80,75.48 527.80,75.81 C528.80,76.14 529.80,76.48 530.80,76.82 C531.80,77.16 532.80,77.50 533.80,77.86 C534.80,78.22 535.80,78.58 536.80,78.95 C537.80,79.32 538.80,79.69 539.80,80.08 C540.80,80.47 541.80,80.86 542.80,81.26 C543.80,81.66 544.80,82.07 545.80,82.49 C546.80,82.91 547.80,83.33 548.80,83.76 C549.80,84.19 550.80,84.63 551.80,85.08 C552.80,85.53 553.80,85.99 554.80,86.45 C555.80,86.91 556.80,87.38 557.80,87.85 C558.80,88.32 559.80,88.80 560.80,89.29 C561.80,89.78 562.80,90.27 563.80,90.77 C564.80,91.27 565.80,91.78 566.80,92.29 C567.80,92.80 568.80,93.32 569.80,93.84 C570.80,94.36 571.80,94.89 572.80,95.42 C573.80,95.95 574.80,96.48 575.80,97.02 C576.80,97.56 577.80,98.11 578.80,98.66 C579.80,99.21 580.80,99.76 581.80,100.32 C582.80,100.88 583.80,101.44 584.80,102.00 C585.80,102.56 586.80,103.12 587.80,103.69 C588.80,104.25 589.80,104.82 590.80,105.39 C591.80,105.96 592.80,106.53 593.80,107.09 C594.80,107.66 595.80,108.22 596.80,108.78 C597.80,109.34 598.80,109.91 599.80,110.47 C600.80,111.03 601.80,111.58 602.80,112.13 C603.80,112.68 604.80,113.23 605.80,113.77 C606.80,114.31 607.80,114.85 608.80,115.38 C609.80,115.91 610.80,116.43 611.80,116.95 C612.80,117.47 613.80,117.98 614.80,118.48 C615.80,118.98 616.80,119.47 617.80,119.96 C618.80,120.45 619.80,120.93 620.80,121.40 C621.80,121.87 622.80,122.34 623.80,122.80 C624.80,123.26 625.80,123.71 626.80,124.15 C627.80,124.59 628.80,125.02 629.80,125.44 C630.80,125.86 631.80,126.28 632.80,126.69 C633.80,127.10 634.80,127.49 635.80,127.88 C636.80,128.27 637.80,128.65 638.80,129.02 C639.80,129.39 640.80,129.76 641.80,130.11 C642.80,130.46 643.80,130.80 644.80,131.13 C645.80,131.46 646.80,131.79 647.80,132.10 C648.80,132.41 649.80,132.72 650.80,133.01 C651.80,133.30 652.80,133.58 653.80,133.85 C654.80,134.12 655.80,134.38 656.80,134.63 C657.80,134.88 658.80,135.12 659.80,135.35 C660.80,135.58 661.80,135.79 662.80,136.00 C663.80,136.21 664.80,136.40 665.80,136.58 C666.80,136.76 667.80,136.93 668.80,137.09 C669.80,137.25 670.80,137.39 671.80,137.52 C672.80,137.65 673.80,137.78 674.80,137.89 C675.80,138.00 676.80,138.10 677.80,138.19 C678.80,138.28 679.80,138.36 680.80,138.43 C681.80,138.50 682.80,138.55 683.80,138.60 C684.80,138.65 685.80,138.69 686.80,138.72 C687.80,138.75 688.80,138.77 689.80,138.78 C690.80,138.79 691.80,138.79 692.80,138.79 C693.80,138.78 694.80,138.77 695.80,138.75 C696.80,138.73 697.80,138.70 698.80,138.67 C699.80,138.63 700.80,138.59 701.80,138.54 C702.80,138.49 703.80,138.44 704.80,138.38 C705.80,138.32 706.80,138.24 707.80,138.17 C708.80,138.10 709.80,138.02 710.80,137.94 C711.80,137.86 712.80,137.76 713.80,137.67 C714.80,137.58 715.80,137.48 716.80,137.38 C717.80,137.28 718.80,137.17 719.80,137.06 C720.80,136.95 721.80,136.84 722.80,136.72 C723.80,136.60 724.80,136.49 725.80,136.37 C726.80,136.25 727.80,136.12 728.80,136.00 C729.80,135.88 730.80,135.75 731.80,135.62 C732.80,135.49 733.80,135.36 734.80,135.23 C735.80,135.10 736.80,134.97 737.80,134.84 C738.80,134.71 739.80,134.57 740.80,134.44 C741.80,134.31 742.80,134.17 743.80,134.04 C744.80,133.91 745.80,133.78 746.80,133.65 C747.80,133.52 748.80,133.40 749.80,133.27 C750.80,133.15 751.80,133.02 752.80,132.90 C753.80,132.78 754.80,132.66 755.80,132.54 C756.80,132.42 757.80,132.30 758.80,132.19 C759.80,132.08 760.80,131.97 761.80,131.87 C762.80,131.77 763.80,131.67 764.80,131.57 C765.80,131.47 766.80,131.38 767.80,131.29 C768.80,131.20 769.80,131.12 770.80,131.05 C771.80,130.98 772.80,130.91 773.80,130.84 C774.80,130.78 775.80,130.71 776.80,130.66 C777.80,130.61 778.80,130.56 779.80,130.52 C780.80,130.48 781.80,130.44 782.80,130.42 C783.80,130.39 784.80,130.38 785.80,130.37 C786.80,130.36 787.80,130.36 788.80,130.36 C789.80,130.37 790.80,130.38 791.80,130.40 C792.80,130.42 793.80,130.46 794.80,130.50 C795.80,130.54 796.80,130.60 797.80,130.66 C798.80,130.72 799.80,130.80 800.80,130.88 C801.80,130.96 802.80,131.06 803.80,131.16 C804.80,131.26 805.80,131.37 806.80,131.50 C807.80,131.63 808.80,131.77 809.80,131.92 C810.80,132.07 811.80,132.23 812.80,132.40 C813.80,132.57 814.80,132.76 815.80,132.95 C816.80,133.14 817.80,133.35 818.80,133.56 C819.80,133.77 820.80,134.00 821.80,134.22 C822.80,134.44 823.80,134.68 824.80,134.91 C825.80,135.14 826.80,135.39 827.80,135.63 C828.80,135.87 829.80,136.12 830.80,136.37 C831.80,136.62 832.80,136.87 833.80,137.12 C834.80,137.37 835.80,137.63 836.80,137.88 C837.80,138.13 838.80,138.38 839.80,138.63 C840.80,138.88 841.80,139.13 842.80,139.37 C843.80,139.61 844.80,139.85 845.80,140.08 C846.80,140.31 847.80,140.54 848.80,140.76 C849.80,140.98 850.80,141.18 851.80,141.39 C852.80,141.59 853.80,141.80 854.80,141.99 C855.80,142.18 856.80,142.36 857.80,142.54 C858.80,142.72 859.80,142.89 860.80,143.06 C861.80,143.23 862.80,143.39 863.80,143.55 C864.80,143.71 865.80,143.85 866.80,144.00 C867.80,144.15 868.80,144.29 869.80,144.43 C870.80,144.57 871.80,144.71 872.80,144.84 C873.80,144.97 874.80,145.09 875.80,145.22 C876.80,145.34 877.80,145.47 878.80,145.59 C879.80,145.71 880.80,145.82 881.80,145.94 C882.80,146.06 883.80,146.17 884.80,146.28 C885.80,146.39 886.80,146.50 887.80,146.61 C888.80,146.72 889.80,146.82 890.80,146.92 C891.80,147.02 892.80,147.12 893.80,147.21 C894.80,147.31 895.80,147.40 896.80,147.49 C897.80,147.58 898.80,147.67 899.80,147.75 C900.80,147.83 901.80,147.91 902.80,147.99 C903.80,148.07 904.80,148.14 905.80,148.21 C906.80,148.28 907.80,148.35 908.80,148.41 C909.80,148.47 910.80,148.53 911.80,148.59 C912.80,148.65 913.80,148.70 914.80,148.75 C915.80,148.80 916.80,148.84 917.80,148.88 C918.80,148.92 919.80,148.96 920.80,148.99 C921.80,149.02 922.80,149.06 923.80,149.08 C924.80,149.11 925.80,149.12 926.80,149.14 C927.80,149.16 928.80,149.17 929.80,149.18 C930.80,149.19 931.80,149.18 932.80,149.18 C933.80,149.18 934.80,149.17 935.80,149.16 C936.80,149.15 937.80,149.13 938.80,149.11 C939.80,149.09 940.80,149.07 941.80,149.04 C942.80,149.01 943.80,148.97 944.80,148.93 C945.80,148.89 946.80,148.84 947.80,148.79 C948.80,148.74 949.80,148.69 950.80,148.64 C951.80,148.58 952.80,148.52 953.80,148.46 C954.80,148.40 955.80,148.33 956.80,148.26 C957.80,148.19 958.80,148.12 959.80,148.05 C960.80,147.98 961.80,147.91 962.80,147.83 C963.80,147.75 964.80,147.68 965.80,147.60 C966.80,147.52 967.80,147.44 968.80,147.36 C969.80,147.28 970.80,147.20 971.80,147.12 C972.80,147.04 973.80,146.95 974.80,146.87 C975.80,146.79 976.80,146.70 977.80,146.62 C978.80,146.54 979.80,146.46 980.80,146.38 C981.80,146.30 982.80,146.23 983.80,146.15 C984.80,146.07 985.80,145.99 986.80,145.92 C987.80,145.85 988.80,145.78 989.80,145.71 C990.80,145.64 991.80,145.57 992.80,145.51 C993.80,145.45 994.80,145.39 995.80,145.33 C996.80,145.27 997.80,145.21 998.80,145.16 C999.80,145.11 1000.80,145.06 1001.80,145.02 C1002.80,144.98 1003.80,144.94 1004.80,144.91 C1005.80,144.88 1006.80,144.84 1007.80,144.82 C1008.80,144.80 1009.80,144.78 1010.80,144.77 C1011.80,144.76 1012.80,144.74 1013.80,144.74 C1014.80,144.74 1015.80,144.74 1016.80,144.75 C1017.80,144.76 1018.80,144.76 1019.80,144.78 C1020.80,144.80 1021.80,144.82 1022.80,144.85 C1023.80,144.88 1024.80,144.91 1025.80,144.94 C1026.80,144.97 1027.80,145.02 1028.80,145.06 C1029.80,145.10 1030.80,145.15 1031.80,145.20 C1032.80,145.25 1033.80,145.31 1034.80,145.37 C1035.80,145.43 1036.80,145.49 1037.80,145.56 C1038.80,145.63 1039.80,145.70 1040.80,145.77 C1041.80,145.84 1042.80,145.92 1043.80,146.00 C1044.80,146.08 1045.80,146.16 1046.80,146.25 C1047.80,146.34 1048.80,146.43 1049.80,146.52 C1050.80,146.61 1051.80,146.70 1052.80,146.80 C1053.80,146.90 1054.80,147.00 1055.80,147.10 C1056.80,147.20 1057.80,147.31 1058.80,147.42 C1059.80,147.53 1060.80,147.64 1061.80,147.75 C1062.80,147.86 1063.80,147.97 1064.80,148.08 C1065.80,148.19 1066.80,148.31 1067.80,148.43 C1068.80,148.55 1069.80,148.67 1070.80,148.79 C1071.80,148.91 1072.80,149.04 1073.80,149.16 C1074.80,149.28 1075.80,149.41 1076.80,149.53 C1077.80,149.66 1078.80,149.78 1079.80,149.91 C1080.80,150.04 1081.80,150.17 1082.80,150.30 C1083.80,150.43 1084.80,150.55 1085.80,150.68 C1086.80,150.81 1087.80,150.94 1088.80,151.07 C1089.80,151.20 1090.80,151.34 1091.80,151.47 C1092.80,151.60 1093.80,151.73 1094.80,151.86 C1095.80,151.99 1096.80,152.12 1097.80,152.25 C1098.80,152.38 1099.80,152.51 1100.80,152.64 C1101.80,152.77 1102.80,152.89 1103.80,153.02 C1104.80,153.15 1105.80,153.28 1106.80,153.41 C1107.80,153.54 1108.80,153.66 1109.80,153.79 C1110.80,153.91 1111.80,154.04 1112.80,154.16 C1113.80,154.28 1114.80,154.40 1115.80,154.52 C1116.80,154.64 1117.80,154.76 1118.80,154.88 C1119.80,155.00 1120.80,155.12 1121.80,155.23 C1122.80,155.34 1123.80,155.45 1124.80,155.56 C1125.80,155.67 1126.80,155.78 1127.80,155.89 C1128.80,156.00 1129.80,156.10 1130.80,156.20 C1131.80,156.30 1132.80,156.40 1133.80,156.50 C1134.80,156.60 1135.80,156.70 1136.80,156.79 C1137.80,156.88 1138.80,156.97 1139.80,157.06 C1140.80,157.15 1141.80,157.23 1142.80,157.31 C1143.80,157.39 1144.80,157.47 1145.80,157.55 C1146.80,157.63 1147.80,157.70 1148.80,157.77 C1149.80,157.84 1150.80,157.90 1151.80,157.96 C1152.80,158.02 1153.80,158.08 1154.80,158.14 C1155.80,158.20 1156.80,158.25 1157.80,158.30 C1158.80,158.35 1159.80,158.40 1160.80,158.44 C1161.80,158.48 1162.80,158.53 1163.80,158.57 C1164.80,158.61 1165.80,158.65 1166.80,158.68 C1167.80,158.71 1168.80,158.75 1169.80,158.77 C1170.80,158.79 1171.80,158.80 1172.80,158.80 C1173.80,158.81 1174.80,158.80 1175.80,158.80 C1176.80,158.80 1177.80,158.80 1178.80,158.80 C1179.80,158.80 1180.80,158.80 1181.80,158.80 C1182.80,158.80 1183.80,158.80 1184.80,158.80 C1185.80,158.80 1186.80,158.80 1187.80,158.80 C1188.80,158.80 1189.80,158.80 1190.80,158.80 C1191.80,158.80 1192.80,158.80 1193.80,158.80 C1194.80,158.80 1195.80,158.80 1196.80,158.80 C1197.80,158.80 1198.80,158.80 1199.80,158.80 C1200.80,158.80 1201.80,158.80 1202.80,158.80 C1203.80,158.80 1204.80,158.80 1205.80,158.80 C1206.80,158.80 1207.80,158.80 1208.80,158.80 C1209.80,158.80 1210.80,158.80 1211.80,158.80 C1212.80,158.80 1213.80,158.80 1214.80,158.80 C1215.80,158.80 1216.80,158.80 1217.80,158.80 C1218.80,158.80 1219.80,158.80 1220.80,158.80 C1221.80,158.80 1222.80,158.80 1223.80,158.80 C1224.80,158.80 1225.80,158.80 1226.80,158.80 C1227.80,158.80 1228.80,158.80 1229.80,158.80 C1230.80,158.80 1231.80,158.80 1232.80,158.80 C1233.80,158.80 1234.80,158.80 1235.80,158.80 C1236.80,158.80 1237.80,158.80 1238.80,158.80 C1239.80,158.80 1240.80,158.80 1241.80,158.80 C1242.80,158.80 1243.80,158.80 1244.80,158.80 C1245.80,158.80 1246.80,158.80 1247.80,158.80 C1248.80,158.80 1249.80,158.80 1250.80,158.80 C1251.80,158.80 1252.80,158.80 1253.80,158.80 C1254.80,158.80 1255.80,158.80 1256.80,158.80 C1257.80,158.80 1258.80,158.80 1259.80,158.80 C1260.80,158.80 1261.80,158.80 1262.80,158.80 C1263.80,158.80 1264.80,158.80 1265.80,158.80 C1266.80,158.80 1268.03,158.80 1268.80,158.80 C1269.57,158.80 1270.13,158.80 1270.40,158.80" fill="none" stroke="#000" stroke-width="3.1"/>
<path d="M1341.47,205.10 C1341.55,205.60 1341.77,207.10 1341.92,208.10 C1342.07,209.10 1342.21,210.10 1342.36,211.10 C1342.51,212.10 1342.65,213.10 1342.80,214.10 C1342.94,215.10 1343.09,216.10 1343.23,217.10 C1343.37,218.10 1343.51,219.10 1343.65,220.10 C1343.79,221.10 1343.92,222.10 1344.06,223.10 C1344.19,224.10 1344.33,225.10 1344.46,226.10 C1344.59,227.10 1344.72,228.10 1344.85,229.10 C1344.98,230.10 1345.11,231.10 1345.24,232.10 C1345.37,233.10 1345.49,234.10 1345.61,235.10 C1345.73,236.10 1345.86,237.10 1345.98,238.10 C1346.10,239.10 1346.21,240.10 1346.33,241.10 C1346.45,242.10 1346.57,243.10 1346.68,244.10 C1346.80,245.10 1346.91,246.10 1347.02,247.10 C1347.13,248.10 1347.23,249.10 1347.34,250.10 C1347.45,251.10 1347.56,252.10 1347.66,253.10 C1347.77,254.10 1347.87,255.10 1347.97,256.10 C1348.07,257.10 1348.17,258.10 1348.27,259.10 C1348.37,260.10 1348.46,261.10 1348.55,262.10 C1348.64,263.10 1348.74,264.10 1348.83,265.10 C1348.92,266.10 1349.01,267.10 1349.10,268.10 C1349.19,269.10 1349.27,270.10 1349.35,271.10 C1349.43,272.10 1349.52,273.10 1349.60,274.10 C1349.68,275.10 1349.75,276.10 1349.83,277.10 C1349.90,278.10 1349.98,279.10 1350.05,280.10 C1350.12,281.10 1350.20,282.10 1350.27,283.10 C1350.34,284.10 1350.40,285.10 1350.47,286.10 C1350.54,287.10 1350.60,288.10 1350.66,289.10 C1350.72,290.10 1350.78,291.10 1350.84,292.10 C1350.90,293.10 1350.95,294.10 1351.00,295.10 C1351.05,296.10 1351.11,297.10 1351.16,298.10 C1351.21,299.10 1351.25,300.10 1351.30,301.10 C1351.35,302.10 1351.40,303.10 1351.44,304.10 C1351.48,305.10 1351.52,306.10 1351.56,307.10 C1351.60,308.10 1351.64,309.10 1351.67,310.10 C1351.70,311.10 1351.73,312.10 1351.76,313.10 C1351.79,314.10 1351.82,315.10 1351.85,316.10 C1351.88,317.10 1351.90,318.10 1351.92,319.10 C1351.94,320.10 1351.97,321.10 1351.99,322.10 C1352.01,323.10 1352.03,324.10 1352.05,325.10 C1352.07,326.10 1352.08,327.10 1352.10,328.10 C1352.12,329.10 1352.13,330.10 1352.15,331.10 C1352.17,332.10 1352.18,333.10 1352.20,334.10 C1352.22,335.10 1352.22,336.10 1352.24,337.10 C1352.26,338.10 1352.28,339.10 1352.29,340.10 C1352.30,341.10 1352.31,342.10 1352.33,343.10 C1352.35,344.10 1352.36,345.10 1352.38,346.10 C1352.40,347.10 1352.42,348.10 1352.44,349.10 C1352.46,350.10 1352.48,351.10 1352.50,352.10 C1352.52,353.10 1352.55,354.10 1352.57,355.10 C1352.59,356.10 1352.61,357.10 1352.64,358.10 C1352.67,359.10 1352.70,360.10 1352.73,361.10 C1352.76,362.10 1352.79,363.10 1352.83,364.10 C1352.87,365.10 1352.91,366.10 1352.95,367.10 C1352.99,368.10 1353.03,369.10 1353.08,370.10 C1353.12,371.10 1353.17,372.10 1353.22,373.10 C1353.27,374.10 1353.32,375.10 1353.38,376.10 C1353.44,377.10 1353.50,378.10 1353.57,379.10 C1353.63,380.10 1353.70,381.10 1353.77,382.10 C1353.84,383.10 1353.92,384.10 1354.00,385.10 C1354.08,386.10 1354.16,387.10 1354.25,388.10 C1354.34,389.10 1354.42,390.10 1354.52,391.10 C1354.62,392.10 1354.71,393.10 1354.82,394.10 C1354.92,395.10 1355.04,396.10 1355.15,397.10 C1355.27,398.10 1355.38,399.10 1355.51,400.10 C1355.64,401.10 1355.77,402.10 1355.91,403.10 C1356.05,404.10 1356.18,405.10 1356.33,406.10 C1356.48,407.10 1356.63,408.10 1356.79,409.10 C1356.95,410.10 1357.11,411.10 1357.28,412.10 C1357.45,413.10 1357.62,414.10 1357.80,415.10 C1357.98,416.10 1358.15,417.10 1358.34,418.10 C1358.53,419.10 1358.72,420.10 1358.92,421.10 C1359.12,422.10 1359.32,423.10 1359.52,424.10 C1359.72,425.10 1359.93,426.10 1360.14,427.10 C1360.35,428.10 1360.56,429.10 1360.78,430.10 C1361.00,431.10 1361.22,432.10 1361.44,433.10 C1361.66,434.10 1361.89,435.10 1362.12,436.10 C1362.35,437.10 1362.58,438.10 1362.81,439.10 C1363.04,440.10 1363.28,441.10 1363.52,442.10 C1363.76,443.10 1363.99,444.10 1364.23,445.10 C1364.47,446.10 1364.72,447.10 1364.96,448.10 C1365.20,449.10 1365.45,450.10 1365.70,451.10 C1365.95,452.10 1366.20,453.10 1366.45,454.10 C1366.70,455.10 1366.94,456.10 1367.19,457.10 C1367.44,458.10 1367.70,459.10 1367.95,460.10 C1368.20,461.10 1368.45,462.10 1368.70,463.10 C1368.95,464.10 1369.20,465.10 1369.45,466.10 C1369.70,467.10 1369.95,468.10 1370.20,469.10 C1370.45,470.10 1370.70,471.10 1370.95,472.10 C1371.20,473.10 1371.45,474.10 1371.69,475.10 C1371.93,476.10 1372.18,477.10 1372.42,478.10 C1372.66,479.10 1372.90,480.10 1373.14,481.10 C1373.38,482.10 1373.62,483.10 1373.86,484.10 C1374.09,485.10 1374.32,486.10 1374.55,487.10 C1374.78,488.10 1375.01,489.10 1375.24,490.10 C1375.47,491.10 1375.69,492.10 1375.91,493.10 C1376.13,494.10 1376.34,495.10 1376.55,496.10 C1376.76,497.10 1376.97,498.10 1377.18,499.10 C1377.39,500.10 1377.59,501.10 1377.79,502.10 C1377.99,503.10 1378.18,504.10 1378.37,505.10 C1378.56,506.10 1378.75,507.10 1378.93,508.10 C1379.11,509.10 1379.29,510.10 1379.47,511.10 C1379.65,512.10 1379.82,513.10 1379.99,514.10 C1380.16,515.10 1380.34,516.10 1380.51,517.10 C1380.68,518.10 1380.84,519.10 1381.01,520.10 C1381.18,521.10 1381.35,522.10 1381.51,523.10 C1381.67,524.10 1381.84,525.10 1382.00,526.10 C1382.16,527.10 1382.33,528.10 1382.50,529.10 C1382.67,530.10 1382.83,531.10 1383.00,532.10 C1383.17,533.10 1383.35,534.10 1383.52,535.10 C1383.69,536.10 1383.87,537.10 1384.05,538.10 C1384.23,539.10 1384.40,540.10 1384.59,541.10 C1384.77,542.10 1384.97,543.10 1385.16,544.10 C1385.35,545.10 1385.55,546.10 1385.75,547.10 C1385.95,548.10 1386.16,549.10 1386.37,550.10 C1386.58,551.10 1386.80,552.10 1387.02,553.10 C1387.24,554.10 1387.47,555.10 1387.71,556.10 C1387.95,557.10 1388.19,558.10 1388.44,559.10 C1388.69,560.10 1388.95,561.10 1389.21,562.10 C1389.47,563.10 1389.74,564.10 1390.02,565.10 C1390.30,566.10 1390.59,567.10 1390.88,568.10 C1391.17,569.10 1391.47,570.10 1391.78,571.10 C1392.09,572.10 1392.39,573.10 1392.71,574.10 C1393.03,575.10 1393.35,576.10 1393.68,577.10 C1394.01,578.10 1394.35,579.10 1394.69,580.10 C1395.03,581.10 1395.37,582.10 1395.72,583.10 C1396.07,584.10 1396.43,585.10 1396.79,586.10 C1397.15,587.10 1397.51,588.10 1397.88,589.10 C1398.25,590.10 1398.62,591.10 1399.00,592.10 C1399.38,593.10 1399.76,594.10 1400.14,595.10 C1400.52,596.10 1400.91,597.10 1401.30,598.10 C1401.69,599.10 1402.09,600.10 1402.48,601.10 C1402.88,602.10 1403.27,603.10 1403.67,604.10 C1404.07,605.10 1404.48,606.10 1404.89,607.10 C1405.30,608.10 1405.70,609.10 1406.11,610.10 C1406.52,611.10 1406.94,612.10 1407.36,613.10 C1407.78,614.10 1408.20,615.10 1408.62,616.10 C1409.04,617.10 1409.47,618.10 1409.90,619.10 C1410.33,620.10 1410.76,621.10 1411.19,622.10 C1411.62,623.10 1412.07,624.10 1412.51,625.10 C1412.95,626.10 1413.39,627.10 1413.84,628.10 C1414.29,629.10 1414.75,630.10 1415.20,631.10 C1415.65,632.10 1416.11,633.10 1416.57,634.10 C1417.03,635.10 1417.50,636.10 1417.97,637.10 C1418.44,638.10 1418.91,639.10 1419.38,640.10 C1419.86,641.10 1420.34,642.10 1420.82,643.10 C1421.30,644.10 1421.79,645.10 1422.28,646.10 C1422.77,647.10 1423.27,648.10 1423.77,649.10 C1424.27,650.10 1424.77,651.10 1425.28,652.10 C1425.79,653.10 1426.30,654.10 1426.81,655.10 C1427.32,656.10 1427.85,657.10 1428.37,658.10 C1428.89,659.10 1429.42,660.10 1429.95,661.10 C1430.48,662.10 1431.02,663.10 1431.56,664.10 C1432.10,665.10 1432.65,666.10 1433.20,667.10 C1433.75,668.10 1434.31,669.10 1434.87,670.10 C1435.43,671.10 1436.00,672.10 1436.58,673.10 C1437.15,674.10 1437.73,675.10 1438.32,676.10 C1438.90,677.10 1439.49,678.10 1440.09,679.10 C1440.69,680.10 1441.29,681.10 1441.90,682.10 C1442.51,683.10 1443.13,684.10 1443.75,685.10 C1444.37,686.10 1445.00,687.10 1445.64,688.10 C1446.28,689.10 1446.92,690.10 1447.57,691.10 C1448.22,692.10 1448.88,693.10 1449.54,694.10 C1450.20,695.10 1450.88,696.10 1451.55,697.10 C1452.22,698.10 1452.90,699.10 1453.59,700.10 C1454.27,701.10 1454.97,702.10 1455.66,703.10 C1456.35,704.10 1457.05,705.10 1457.74,706.10 C1458.43,707.10 1459.13,708.10 1459.83,709.10 C1460.52,710.10 1461.22,711.10 1461.91,712.10 C1462.60,713.10 1463.30,714.10 1463.99,715.10 C1464.68,716.10 1465.37,717.10 1466.05,718.10 C1466.73,719.10 1467.42,720.10 1468.10,721.10 C1468.78,722.10 1469.44,723.10 1470.11,724.10 C1470.78,725.10 1471.44,726.10 1472.10,727.10 C1472.76,728.10 1473.41,729.10 1474.05,730.10 C1474.69,731.10 1475.33,732.10 1475.96,733.10 C1476.59,734.10 1477.22,735.10 1477.83,736.10 C1478.44,737.10 1479.05,738.10 1479.64,739.10 C1480.24,740.10 1480.82,741.10 1481.40,742.10 C1481.98,743.10 1482.54,744.10 1483.10,745.10 C1483.65,746.10 1484.20,747.10 1484.73,748.10 C1485.26,749.10 1485.78,750.10 1486.28,751.10 C1486.78,752.10 1487.28,753.10 1487.76,754.10 C1488.24,755.10 1488.71,756.10 1489.16,757.10 C1489.61,758.10 1490.05,759.10 1490.47,760.10 C1490.89,761.10 1491.30,762.10 1491.69,763.10 C1492.08,764.10 1492.45,765.10 1492.81,766.10 C1493.16,767.10 1493.50,768.10 1493.82,769.10 C1494.14,770.10 1494.44,771.10 1494.73,772.10 C1495.02,773.10 1495.28,774.10 1495.54,775.10 C1495.80,776.10 1496.04,777.10 1496.26,778.10 C1496.48,779.10 1496.69,780.10 1496.88,781.10 C1497.07,782.10 1497.24,783.10 1497.40,784.10 C1497.56,785.10 1497.71,786.10 1497.85,787.10 C1497.98,788.10 1498.10,789.10 1498.21,790.10 C1498.32,791.10 1498.41,792.10 1498.49,793.10 C1498.57,794.10 1498.63,795.10 1498.69,796.10 C1498.75,797.10 1498.79,798.10 1498.82,799.10 C1498.85,800.10 1498.88,801.10 1498.89,802.10 C1498.90,803.10 1498.90,804.10 1498.89,805.10 C1498.88,806.10 1498.86,807.10 1498.83,808.10 C1498.80,809.10 1498.76,810.10 1498.71,811.10 C1498.66,812.10 1498.60,813.10 1498.53,814.10 C1498.46,815.10 1498.39,816.10 1498.30,817.10 C1498.21,818.10 1498.12,819.10 1498.01,820.10 C1497.90,821.10 1497.78,822.10 1497.65,823.10 C1497.52,824.10 1497.39,825.10 1497.24,826.10 C1497.09,827.10 1496.93,828.10 1496.76,829.10 C1496.59,830.10 1496.42,831.10 1496.23,832.10 C1496.04,833.10 1495.84,834.10 1495.63,835.10 C1495.42,836.10 1495.20,837.10 1494.97,838.10 C1494.74,839.10 1494.50,840.10 1494.25,841.10 C1494.00,842.10 1493.74,843.10 1493.47,844.10 C1493.20,845.10 1492.91,846.10 1492.62,847.10 C1492.33,848.10 1492.02,849.10 1491.71,850.10 C1491.40,851.10 1491.08,852.10 1490.74,853.10 C1490.40,854.10 1490.06,855.10 1489.70,856.10 C1489.34,857.10 1488.97,858.10 1488.59,859.10 C1488.21,860.10 1487.82,861.10 1487.42,862.10 C1487.02,863.10 1486.61,864.10 1486.19,865.10 C1485.77,866.10 1485.34,867.10 1484.89,868.10 C1484.45,869.10 1483.99,870.10 1483.52,871.10 C1483.05,872.10 1482.58,873.10 1482.09,874.10 C1481.60,875.10 1481.09,876.10 1480.58,877.10 C1480.07,878.10 1479.55,879.10 1479.01,880.10 C1478.47,881.10 1477.93,882.10 1477.37,883.10 C1476.81,884.10 1476.25,885.10 1475.67,886.10 C1475.09,887.10 1474.50,888.10 1473.89,889.10 C1473.29,890.10 1472.67,891.10 1472.04,892.10 C1471.41,893.10 1470.78,894.10 1470.13,895.10 C1469.48,896.10 1468.82,897.10 1468.14,898.10 C1467.47,899.10 1466.78,900.10 1466.08,901.10 C1465.38,902.10 1464.67,903.10 1463.95,904.10 C1463.23,905.10 1462.50,906.10 1461.76,907.10 C1461.02,908.10 1460.26,909.10 1459.50,910.10 C1458.74,911.10 1457.97,912.10 1457.19,913.10 C1456.41,914.10 1455.63,915.10 1454.83,916.10 C1454.03,917.10 1453.22,918.10 1452.41,919.10 C1451.60,920.10 1450.78,921.10 1449.95,922.10 C1449.12,923.10 1448.29,924.10 1447.45,925.10 C1446.61,926.10 1445.76,927.10 1444.91,928.10 C1444.06,929.10 1443.20,930.10 1442.34,931.10 C1441.48,932.10 1440.62,933.10 1439.75,934.10 C1438.88,935.10 1438.01,936.10 1437.13,937.10 C1436.25,938.10 1435.36,939.10 1434.48,940.10 C1433.60,941.10 1432.72,942.10 1431.83,943.10 C1430.94,944.10 1430.05,945.10 1429.16,946.10 C1428.27,947.10 1427.37,948.10 1426.48,949.10 C1425.59,950.10 1424.69,951.10 1423.80,952.10 C1422.91,953.10 1422.01,954.10 1421.12,955.10 C1420.23,956.10 1419.34,957.10 1418.45,958.10 C1417.56,959.10 1416.67,960.10 1415.79,961.10 C1414.90,962.10 1414.02,963.10 1413.14,964.10 C1412.26,965.10 1411.38,966.10 1410.50,967.10 C1409.62,968.10 1408.76,969.10 1407.89,970.10 C1407.02,971.10 1406.16,972.10 1405.30,973.10 C1404.44,974.10 1403.60,975.10 1402.75,976.10 C1401.90,977.10 1401.07,978.10 1400.23,979.10 C1399.39,980.10 1398.56,981.10 1397.74,982.10 C1396.92,983.10 1396.11,984.10 1395.30,985.10 C1394.49,986.10 1393.70,987.10 1392.91,988.10 C1392.12,989.10 1391.13,990.37 1390.56,991.10 C1389.99,991.83 1389.67,992.27 1389.49,992.50 L1389.49,993 L1339.1,993 L1339.1,205.10 Z" fill="#B3B3B3"/>
<path d="M1341.47,205.10 C1341.55,205.60 1341.77,207.10 1341.92,208.10 C1342.07,209.10 1342.21,210.10 1342.36,211.10 C1342.51,212.10 1342.65,213.10 1342.80,214.10 C1342.94,215.10 1343.09,216.10 1343.23,217.10 C1343.37,218.10 1343.51,219.10 1343.65,220.10 C1343.79,221.10 1343.92,222.10 1344.06,223.10 C1344.19,224.10 1344.33,225.10 1344.46,226.10 C1344.59,227.10 1344.72,228.10 1344.85,229.10 C1344.98,230.10 1345.11,231.10 1345.24,232.10 C1345.37,233.10 1345.49,234.10 1345.61,235.10 C1345.73,236.10 1345.86,237.10 1345.98,238.10 C1346.10,239.10 1346.21,240.10 1346.33,241.10 C1346.45,242.10 1346.57,243.10 1346.68,244.10 C1346.80,245.10 1346.91,246.10 1347.02,247.10 C1347.13,248.10 1347.23,249.10 1347.34,250.10 C1347.45,251.10 1347.56,252.10 1347.66,253.10 C1347.77,254.10 1347.87,255.10 1347.97,256.10 C1348.07,257.10 1348.17,258.10 1348.27,259.10 C1348.37,260.10 1348.46,261.10 1348.55,262.10 C1348.64,263.10 1348.74,264.10 1348.83,265.10 C1348.92,266.10 1349.01,267.10 1349.10,268.10 C1349.19,269.10 1349.27,270.10 1349.35,271.10 C1349.43,272.10 1349.52,273.10 1349.60,274.10 C1349.68,275.10 1349.75,276.10 1349.83,277.10 C1349.90,278.10 1349.98,279.10 1350.05,280.10 C1350.12,281.10 1350.20,282.10 1350.27,283.10 C1350.34,284.10 1350.40,285.10 1350.47,286.10 C1350.54,287.10 1350.60,288.10 1350.66,289.10 C1350.72,290.10 1350.78,291.10 1350.84,292.10 C1350.90,293.10 1350.95,294.10 1351.00,295.10 C1351.05,296.10 1351.11,297.10 1351.16,298.10 C1351.21,299.10 1351.25,300.10 1351.30,301.10 C1351.35,302.10 1351.40,303.10 1351.44,304.10 C1351.48,305.10 1351.52,306.10 1351.56,307.10 C1351.60,308.10 1351.64,309.10 1351.67,310.10 C1351.70,311.10 1351.73,312.10 1351.76,313.10 C1351.79,314.10 1351.82,315.10 1351.85,316.10 C1351.88,317.10 1351.90,318.10 1351.92,319.10 C1351.94,320.10 1351.97,321.10 1351.99,322.10 C1352.01,323.10 1352.03,324.10 1352.05,325.10 C1352.07,326.10 1352.08,327.10 1352.10,328.10 C1352.12,329.10 1352.13,330.10 1352.15,331.10 C1352.17,332.10 1352.18,333.10 1352.20,334.10 C1352.22,335.10 1352.22,336.10 1352.24,337.10 C1352.26,338.10 1352.28,339.10 1352.29,340.10 C1352.30,341.10 1352.31,342.10 1352.33,343.10 C1352.35,344.10 1352.36,345.10 1352.38,346.10 C1352.40,347.10 1352.42,348.10 1352.44,349.10 C1352.46,350.10 1352.48,351.10 1352.50,352.10 C1352.52,353.10 1352.55,354.10 1352.57,355.10 C1352.59,356.10 1352.61,357.10 1352.64,358.10 C1352.67,359.10 1352.70,360.10 1352.73,361.10 C1352.76,362.10 1352.79,363.10 1352.83,364.10 C1352.87,365.10 1352.91,366.10 1352.95,367.10 C1352.99,368.10 1353.03,369.10 1353.08,370.10 C1353.12,371.10 1353.17,372.10 1353.22,373.10 C1353.27,374.10 1353.32,375.10 1353.38,376.10 C1353.44,377.10 1353.50,378.10 1353.57,379.10 C1353.63,380.10 1353.70,381.10 1353.77,382.10 C1353.84,383.10 1353.92,384.10 1354.00,385.10 C1354.08,386.10 1354.16,387.10 1354.25,388.10 C1354.34,389.10 1354.42,390.10 1354.52,391.10 C1354.62,392.10 1354.71,393.10 1354.82,394.10 C1354.92,395.10 1355.04,396.10 1355.15,397.10 C1355.27,398.10 1355.38,399.10 1355.51,400.10 C1355.64,401.10 1355.77,402.10 1355.91,403.10 C1356.05,404.10 1356.18,405.10 1356.33,406.10 C1356.48,407.10 1356.63,408.10 1356.79,409.10 C1356.95,410.10 1357.11,411.10 1357.28,412.10 C1357.45,413.10 1357.62,414.10 1357.80,415.10 C1357.98,416.10 1358.15,417.10 1358.34,418.10 C1358.53,419.10 1358.72,420.10 1358.92,421.10 C1359.12,422.10 1359.32,423.10 1359.52,424.10 C1359.72,425.10 1359.93,426.10 1360.14,427.10 C1360.35,428.10 1360.56,429.10 1360.78,430.10 C1361.00,431.10 1361.22,432.10 1361.44,433.10 C1361.66,434.10 1361.89,435.10 1362.12,436.10 C1362.35,437.10 1362.58,438.10 1362.81,439.10 C1363.04,440.10 1363.28,441.10 1363.52,442.10 C1363.76,443.10 1363.99,444.10 1364.23,445.10 C1364.47,446.10 1364.72,447.10 1364.96,448.10 C1365.20,449.10 1365.45,450.10 1365.70,451.10 C1365.95,452.10 1366.20,453.10 1366.45,454.10 C1366.70,455.10 1366.94,456.10 1367.19,457.10 C1367.44,458.10 1367.70,459.10 1367.95,460.10 C1368.20,461.10 1368.45,462.10 1368.70,463.10 C1368.95,464.10 1369.20,465.10 1369.45,466.10 C1369.70,467.10 1369.95,468.10 1370.20,469.10 C1370.45,470.10 1370.70,471.10 1370.95,472.10 C1371.20,473.10 1371.45,474.10 1371.69,475.10 C1371.93,476.10 1372.18,477.10 1372.42,478.10 C1372.66,479.10 1372.90,480.10 1373.14,481.10 C1373.38,482.10 1373.62,483.10 1373.86,484.10 C1374.09,485.10 1374.32,486.10 1374.55,487.10 C1374.78,488.10 1375.01,489.10 1375.24,490.10 C1375.47,491.10 1375.69,492.10 1375.91,493.10 C1376.13,494.10 1376.34,495.10 1376.55,496.10 C1376.76,497.10 1376.97,498.10 1377.18,499.10 C1377.39,500.10 1377.59,501.10 1377.79,502.10 C1377.99,503.10 1378.18,504.10 1378.37,505.10 C1378.56,506.10 1378.75,507.10 1378.93,508.10 C1379.11,509.10 1379.29,510.10 1379.47,511.10 C1379.65,512.10 1379.82,513.10 1379.99,514.10 C1380.16,515.10 1380.34,516.10 1380.51,517.10 C1380.68,518.10 1380.84,519.10 1381.01,520.10 C1381.18,521.10 1381.35,522.10 1381.51,523.10 C1381.67,524.10 1381.84,525.10 1382.00,526.10 C1382.16,527.10 1382.33,528.10 1382.50,529.10 C1382.67,530.10 1382.83,531.10 1383.00,532.10 C1383.17,533.10 1383.35,534.10 1383.52,535.10 C1383.69,536.10 1383.87,537.10 1384.05,538.10 C1384.23,539.10 1384.40,540.10 1384.59,541.10 C1384.77,542.10 1384.97,543.10 1385.16,544.10 C1385.35,545.10 1385.55,546.10 1385.75,547.10 C1385.95,548.10 1386.16,549.10 1386.37,550.10 C1386.58,551.10 1386.80,552.10 1387.02,553.10 C1387.24,554.10 1387.47,555.10 1387.71,556.10 C1387.95,557.10 1388.19,558.10 1388.44,559.10 C1388.69,560.10 1388.95,561.10 1389.21,562.10 C1389.47,563.10 1389.74,564.10 1390.02,565.10 C1390.30,566.10 1390.59,567.10 1390.88,568.10 C1391.17,569.10 1391.47,570.10 1391.78,571.10 C1392.09,572.10 1392.39,573.10 1392.71,574.10 C1393.03,575.10 1393.35,576.10 1393.68,577.10 C1394.01,578.10 1394.35,579.10 1394.69,580.10 C1395.03,581.10 1395.37,582.10 1395.72,583.10 C1396.07,584.10 1396.43,585.10 1396.79,586.10 C1397.15,587.10 1397.51,588.10 1397.88,589.10 C1398.25,590.10 1398.62,591.10 1399.00,592.10 C1399.38,593.10 1399.76,594.10 1400.14,595.10 C1400.52,596.10 1400.91,597.10 1401.30,598.10 C1401.69,599.10 1402.09,600.10 1402.48,601.10 C1402.88,602.10 1403.27,603.10 1403.67,604.10 C1404.07,605.10 1404.48,606.10 1404.89,607.10 C1405.30,608.10 1405.70,609.10 1406.11,610.10 C1406.52,611.10 1406.94,612.10 1407.36,613.10 C1407.78,614.10 1408.20,615.10 1408.62,616.10 C1409.04,617.10 1409.47,618.10 1409.90,619.10 C1410.33,620.10 1410.76,621.10 1411.19,622.10 C1411.62,623.10 1412.07,624.10 1412.51,625.10 C1412.95,626.10 1413.39,627.10 1413.84,628.10 C1414.29,629.10 1414.75,630.10 1415.20,631.10 C1415.65,632.10 1416.11,633.10 1416.57,634.10 C1417.03,635.10 1417.50,636.10 1417.97,637.10 C1418.44,638.10 1418.91,639.10 1419.38,640.10 C1419.86,641.10 1420.34,642.10 1420.82,643.10 C1421.30,644.10 1421.79,645.10 1422.28,646.10 C1422.77,647.10 1423.27,648.10 1423.77,649.10 C1424.27,650.10 1424.77,651.10 1425.28,652.10 C1425.79,653.10 1426.30,654.10 1426.81,655.10 C1427.32,656.10 1427.85,657.10 1428.37,658.10 C1428.89,659.10 1429.42,660.10 1429.95,661.10 C1430.48,662.10 1431.02,663.10 1431.56,664.10 C1432.10,665.10 1432.65,666.10 1433.20,667.10 C1433.75,668.10 1434.31,669.10 1434.87,670.10 C1435.43,671.10 1436.00,672.10 1436.58,673.10 C1437.15,674.10 1437.73,675.10 1438.32,676.10 C1438.90,677.10 1439.49,678.10 1440.09,679.10 C1440.69,680.10 1441.29,681.10 1441.90,682.10 C1442.51,683.10 1443.13,684.10 1443.75,685.10 C1444.37,686.10 1445.00,687.10 1445.64,688.10 C1446.28,689.10 1446.92,690.10 1447.57,691.10 C1448.22,692.10 1448.88,693.10 1449.54,694.10 C1450.20,695.10 1450.88,696.10 1451.55,697.10 C1452.22,698.10 1452.90,699.10 1453.59,700.10 C1454.27,701.10 1454.97,702.10 1455.66,703.10 C1456.35,704.10 1457.05,705.10 1457.74,706.10 C1458.43,707.10 1459.13,708.10 1459.83,709.10 C1460.52,710.10 1461.22,711.10 1461.91,712.10 C1462.60,713.10 1463.30,714.10 1463.99,715.10 C1464.68,716.10 1465.37,717.10 1466.05,718.10 C1466.73,719.10 1467.42,720.10 1468.10,721.10 C1468.78,722.10 1469.44,723.10 1470.11,724.10 C1470.78,725.10 1471.44,726.10 1472.10,727.10 C1472.76,728.10 1473.41,729.10 1474.05,730.10 C1474.69,731.10 1475.33,732.10 1475.96,733.10 C1476.59,734.10 1477.22,735.10 1477.83,736.10 C1478.44,737.10 1479.05,738.10 1479.64,739.10 C1480.24,740.10 1480.82,741.10 1481.40,742.10 C1481.98,743.10 1482.54,744.10 1483.10,745.10 C1483.65,746.10 1484.20,747.10 1484.73,748.10 C1485.26,749.10 1485.78,750.10 1486.28,751.10 C1486.78,752.10 1487.28,753.10 1487.76,754.10 C1488.24,755.10 1488.71,756.10 1489.16,757.10 C1489.61,758.10 1490.05,759.10 1490.47,760.10 C1490.89,761.10 1491.30,762.10 1491.69,763.10 C1492.08,764.10 1492.45,765.10 1492.81,766.10 C1493.16,767.10 1493.50,768.10 1493.82,769.10 C1494.14,770.10 1494.44,771.10 1494.73,772.10 C1495.02,773.10 1495.28,774.10 1495.54,775.10 C1495.80,776.10 1496.04,777.10 1496.26,778.10 C1496.48,779.10 1496.69,780.10 1496.88,781.10 C1497.07,782.10 1497.24,783.10 1497.40,784.10 C1497.56,785.10 1497.71,786.10 1497.85,787.10 C1497.98,788.10 1498.10,789.10 1498.21,790.10 C1498.32,791.10 1498.41,792.10 1498.49,793.10 C1498.57,794.10 1498.63,795.10 1498.69,796.10 C1498.75,797.10 1498.79,798.10 1498.82,799.10 C1498.85,800.10 1498.88,801.10 1498.89,802.10 C1498.90,803.10 1498.90,804.10 1498.89,805.10 C1498.88,806.10 1498.86,807.10 1498.83,808.10 C1498.80,809.10 1498.76,810.10 1498.71,811.10 C1498.66,812.10 1498.60,813.10 1498.53,814.10 C1498.46,815.10 1498.39,816.10 1498.30,817.10 C1498.21,818.10 1498.12,819.10 1498.01,820.10 C1497.90,821.10 1497.78,822.10 1497.65,823.10 C1497.52,824.10 1497.39,825.10 1497.24,826.10 C1497.09,827.10 1496.93,828.10 1496.76,829.10 C1496.59,830.10 1496.42,831.10 1496.23,832.10 C1496.04,833.10 1495.84,834.10 1495.63,835.10 C1495.42,836.10 1495.20,837.10 1494.97,838.10 C1494.74,839.10 1494.50,840.10 1494.25,841.10 C1494.00,842.10 1493.74,843.10 1493.47,844.10 C1493.20,845.10 1492.91,846.10 1492.62,847.10 C1492.33,848.10 1492.02,849.10 1491.71,850.10 C1491.40,851.10 1491.08,852.10 1490.74,853.10 C1490.40,854.10 1490.06,855.10 1489.70,856.10 C1489.34,857.10 1488.97,858.10 1488.59,859.10 C1488.21,860.10 1487.82,861.10 1487.42,862.10 C1487.02,863.10 1486.61,864.10 1486.19,865.10 C1485.77,866.10 1485.34,867.10 1484.89,868.10 C1484.45,869.10 1483.99,870.10 1483.52,871.10 C1483.05,872.10 1482.58,873.10 1482.09,874.10 C1481.60,875.10 1481.09,876.10 1480.58,877.10 C1480.07,878.10 1479.55,879.10 1479.01,880.10 C1478.47,881.10 1477.93,882.10 1477.37,883.10 C1476.81,884.10 1476.25,885.10 1475.67,886.10 C1475.09,887.10 1474.50,888.10 1473.89,889.10 C1473.29,890.10 1472.67,891.10 1472.04,892.10 C1471.41,893.10 1470.78,894.10 1470.13,895.10 C1469.48,896.10 1468.82,897.10 1468.14,898.10 C1467.47,899.10 1466.78,900.10 1466.08,901.10 C1465.38,902.10 1464.67,903.10 1463.95,904.10 C1463.23,905.10 1462.50,906.10 1461.76,907.10 C1461.02,908.10 1460.26,909.10 1459.50,910.10 C1458.74,911.10 1457.97,912.10 1457.19,913.10 C1456.41,914.10 1455.63,915.10 1454.83,916.10 C1454.03,917.10 1453.22,918.10 1452.41,919.10 C1451.60,920.10 1450.78,921.10 1449.95,922.10 C1449.12,923.10 1448.29,924.10 1447.45,925.10 C1446.61,926.10 1445.76,927.10 1444.91,928.10 C1444.06,929.10 1443.20,930.10 1442.34,931.10 C1441.48,932.10 1440.62,933.10 1439.75,934.10 C1438.88,935.10 1438.01,936.10 1437.13,937.10 C1436.25,938.10 1435.36,939.10 1434.48,940.10 C1433.60,941.10 1432.72,942.10 1431.83,943.10 C1430.94,944.10 1430.05,945.10 1429.16,946.10 C1428.27,947.10 1427.37,948.10 1426.48,949.10 C1425.59,950.10 1424.69,951.10 1423.80,952.10 C1422.91,953.10 1422.01,954.10 1421.12,955.10 C1420.23,956.10 1419.34,957.10 1418.45,958.10 C1417.56,959.10 1416.67,960.10 1415.79,961.10 C1414.90,962.10 1414.02,963.10 1413.14,964.10 C1412.26,965.10 1411.38,966.10 1410.50,967.10 C1409.62,968.10 1408.76,969.10 1407.89,970.10 C1407.02,971.10 1406.16,972.10 1405.30,973.10 C1404.44,974.10 1403.60,975.10 1402.75,976.10 C1401.90,977.10 1401.07,978.10 1400.23,979.10 C1399.39,980.10 1398.56,981.10 1397.74,982.10 C1396.92,983.10 1396.11,984.10 1395.30,985.10 C1394.49,986.10 1393.70,987.10 1392.91,988.10 C1392.12,989.10 1391.13,990.37 1390.56,991.10 C1389.99,991.83 1389.67,992.27 1389.49,992.50" fill="none" stroke="#000" stroke-width="3.1"/>
<text transform="translate(58.2,80.4) rotate(-90)" text-anchor="middle" font-family="'Liberation Sans', Arial, Helvetica, sans-serif" font-size="28.6" fill="#000">Frequency</text>
<text x="1345.5" y="1069.4" font-family="'Liberation Sans', Arial, Helvetica, sans-serif" font-size="28.6" fill="#000">Frequency</text>
</g>
<rect x="74.45" y="1354.5" width="1255.85" height="864.40" fill="none" stroke="#B3B3B3" stroke-width="2"/>
<line x1="130.80" y1="2218.90" x2="130.80" y2="2228.20" stroke="#B3B3B3" stroke-width="1.8"/>
<text x="130.80" y="2256.40" text-anchor="middle" font-family="'Liberation Sans', Arial, Helvetica, sans-serif" font-size="29.6" fill="#4D4D4D">0</text>
<line x1="64.95" y1="2180.50" x2="74.45" y2="2180.50" stroke="#B3B3B3" stroke-width="1.8"/>
<text x="57.85" y="2190.80" text-anchor="end" font-family="'Liberation Sans', Arial, Helvetica, sans-serif" font-size="29.6" fill="#4D4D4D">0</text>
<line x1="359.44" y1="2218.90" x2="359.44" y2="2228.20" stroke="#B3B3B3" stroke-width="1.8"/>
<text x="359.44" y="2256.40" text-anchor="middle" font-family="'Liberation Sans', Arial, Helvetica, sans-serif" font-size="29.6" fill="#4D4D4D">1</text>
<line x1="64.95" y1="2022.98" x2="74.45" y2="2022.98" stroke="#B3B3B3" stroke-width="1.8"/>
<text x="57.85" y="2033.28" text-anchor="end" font-family="'Liberation Sans', Arial, Helvetica, sans-serif" font-size="29.6" fill="#4D4D4D">1</text>
<line x1="588.08" y1="2218.90" x2="588.08" y2="2228.20" stroke="#B3B3B3" stroke-width="1.8"/>
<text x="588.08" y="2256.40" text-anchor="middle" font-family="'Liberation Sans', Arial, Helvetica, sans-serif" font-size="29.6" fill="#4D4D4D">2</text>
<line x1="64.95" y1="1865.46" x2="74.45" y2="1865.46" stroke="#B3B3B3" stroke-width="1.8"/>
<text x="57.85" y="1875.76" text-anchor="end" font-family="'Liberation Sans', Arial, Helvetica, sans-serif" font-size="29.6" fill="#4D4D4D">2</text>
<line x1="816.72" y1="2218.90" x2="816.72" y2="2228.20" stroke="#B3B3B3" stroke-width="1.8"/>
<text x="816.72" y="2256.40" text-anchor="middle" font-family="'Liberation Sans', Arial, Helvetica, sans-serif" font-size="29.6" fill="#4D4D4D">3</text>
<line x1="64.95" y1="1707.94" x2="74.45" y2="1707.94" stroke="#B3B3B3" stroke-width="1.8"/>
<text x="57.85" y="1718.24" text-anchor="end" font-family="'Liberation Sans', Arial, Helvetica, sans-serif" font-size="29.6" fill="#4D4D4D">3</text>
<line x1="1045.36" y1="2218.90" x2="1045.36" y2="2228.20" stroke="#B3B3B3" stroke-width="1.8"/>
<text x="1045.36" y="2256.40" text-anchor="middle" font-family="'Liberation Sans', Arial, Helvetica, sans-serif" font-size="29.6" fill="#4D4D4D">4</text>
<line x1="64.95" y1="1550.42" x2="74.45" y2="1550.42" stroke="#B3B3B3" stroke-width="1.8"/>
<text x="57.85" y="1560.72" text-anchor="end" font-family="'Liberation Sans', Arial, Helvetica, sans-serif" font-size="29.6" fill="#4D4D4D">4</text>
<line x1="1274.00" y1="2218.90" x2="1274.00" y2="2228.20" stroke="#B3B3B3" stroke-width="1.8"/>
<text x="1274.00" y="2256.40" text-anchor="middle" font-family="'Liberation Sans', Arial, Helvetica, sans-serif" font-size="29.6" fill="#4D4D4D">5</text>
<line x1="64.95" y1="1392.90" x2="74.45" y2="1392.90" stroke="#B3B3B3" stroke-width="1.8"/>
<text x="57.85" y="1403.20" text-anchor="end" font-family="'Liberation Sans', Arial, Helvetica, sans-serif" font-size="29.6" fill="#4D4D4D">5</text>
<text x="710.30" y="2296.60" text-anchor="middle" font-family="'Liberation Sans', Arial, Helvetica, sans-serif" font-weight="bold" font-size="35" fill="#000">Psychosis</text>
<text transform="translate(25.70,1779.90) rotate(-90)" text-anchor="middle" font-family="'Liberation Sans', Arial, Helvetica, sans-serif" font-weight="bold" font-size="34.8" fill="#000">Depression</text>
<rect x="414.47" y="1858.28" width="7.60" height="7.60" fill="#CAD2F9"/>
<rect x="140.14" y="1878.50" width="7.60" height="7.60" fill="#CAD2F9"/>
<rect x="227.91" y="1880.60" width="7.60" height="7.60" fill="#CAD2F9"/>
<rect x="231.42" y="1877.70" width="7.60" height="7.60" fill="#CAD2F9"/>
<rect x="341.01" y="1873.59" width="7.60" height="7.60" fill="#CAD2F9"/>
<rect x="311.18" y="1902.52" width="7.60" height="7.60" fill="#CAD2F9"/>
<rect x="188.98" y="1916.14" width="7.60" height="7.60" fill="#CAD2F9"/>
<rect x="199.39" y="1939.36" width="7.60" height="7.60" fill="#CAD2F9"/>
<rect x="193.78" y="1946.87" width="7.60" height="7.60" fill="#CAD2F9"/>
<rect x="295.17" y="1938.86" width="7.60" height="7.60" fill="#CAD2F9"/>
<rect x="312.28" y="1943.66" width="7.60" height="7.60" fill="#CAD2F9"/>
<rect x="161.76" y="1957.78" width="7.60" height="7.60" fill="#CAD2F9"/>
<rect x="136.14" y="1971.69" width="7.60" height="7.60" fill="#CAD2F9"/>
<rect x="223.71" y="1965.49" width="7.60" height="7.60" fill="#CAD2F9"/>
<rect x="216.70" y="1973.79" width="7.60" height="7.60" fill="#CAD2F9"/>
<rect x="237.52" y="1962.58" width="7.60" height="7.60" fill="#CAD2F9"/>
<rect x="203.69" y="1981.30" width="7.60" height="7.60" fill="#CAD2F9"/>
<rect x="277.55" y="1954.57" width="7.60" height="7.60" fill="#CAD2F9"/>
<rect x="282.36" y="1956.68" width="7.60" height="7.60" fill="#CAD2F9"/>
<rect x="277.05" y="1963.88" width="7.60" height="7.60" fill="#CAD2F9"/>
<rect x="265.84" y="1969.79" width="7.60" height="7.60" fill="#CAD2F9"/>
<rect x="297.57" y="1961.28" width="7.60" height="7.60" fill="#CAD2F9"/>
<rect x="237.52" y="1990.61" width="7.60" height="7.60" fill="#CAD2F9"/>
<rect x="282.16" y="1987.11" width="7.60" height="7.60" fill="#CAD2F9"/>
<rect x="266.95" y="1998.32" width="7.60" height="7.60" fill="#CAD2F9"/>
<rect x="161.26" y="2010.33" width="7.60" height="7.60" fill="#CAD2F9"/>
<rect x="174.07" y="2029.35" width="7.60" height="7.60" fill="#CAD2F9"/>
<rect x="181.47" y="2027.45" width="7.60" height="7.60" fill="#CAD2F9"/>
<rect x="211.90" y="2019.44" width="7.60" height="7.60" fill="#CAD2F9"/>
<rect x="257.84" y="2013.33" width="7.60" height="7.60" fill="#CAD2F9"/>
<rect x="276.55" y="2014.13" width="7.60" height="7.60" fill="#CAD2F9"/>
<rect x="270.95" y="2021.04" width="7.60" height="7.60" fill="#CAD2F9"/>
<rect x="254.13" y="2026.65" width="7.60" height="7.60" fill="#CAD2F9"/>
<rect x="317.89" y="2006.63" width="7.60" height="7.60" fill="#CAD2F9"/>
<rect x="303.48" y="2027.95" width="7.60" height="7.60" fill="#CAD2F9"/>
<rect x="281.36" y="2033.05" width="7.60" height="7.60" fill="#CAD2F9"/>
<rect x="332.30" y="2034.66" width="7.60" height="7.60" fill="#CAD2F9"/>
<rect x="195.39" y="2040.26" width="7.60" height="7.60" fill="#CAD2F9"/>
<rect x="132.43" y="2048.77" width="7.60" height="7.60" fill="#CAD2F9"/>
<rect x="140.94" y="2058.68" width="7.60" height="7.60" fill="#CAD2F9"/>
<rect x="183.38" y="2054.18" width="7.60" height="7.60" fill="#CAD2F9"/>
<rect x="240.22" y="2045.87" width="7.60" height="7.60" fill="#CAD2F9"/>
<rect x="263.44" y="2041.06" width="7.60" height="7.60" fill="#CAD2F9"/>
<rect x="257.04" y="2056.28" width="7.60" height="7.60" fill="#CAD2F9"/>
<rect x="219.71" y="2058.38" width="7.60" height="7.60" fill="#CAD2F9"/>
<rect x="317.09" y="2061.08" width="7.60" height="7.60" fill="#CAD2F9"/>
<rect x="402.56" y="1877.40" width="7.60" height="7.60" fill="#CAD2F9"/>
<rect x="351.91" y="1899.82" width="7.60" height="7.60" fill="#CAD2F9"/>
<rect x="349.01" y="1925.75" width="7.60" height="7.60" fill="#CAD2F9"/>
<rect x="398.55" y="1935.66" width="7.60" height="7.60" fill="#CAD2F9"/>
<rect x="355.92" y="1969.79" width="7.60" height="7.60" fill="#CAD2F9"/>
<rect x="395.65" y="1967.39" width="7.60" height="7.60" fill="#CAD2F9"/>
<rect x="343.91" y="1983.40" width="7.60" height="7.60" fill="#CAD2F9"/>
<rect x="382.54" y="1982.60" width="7.60" height="7.60" fill="#CAD2F9"/>
<rect x="426.38" y="1981.80" width="7.60" height="7.60" fill="#CAD2F9"/>
<rect x="449.60" y="1977.80" width="7.60" height="7.60" fill="#CAD2F9"/>
<rect x="461.91" y="1974.29" width="7.60" height="7.60" fill="#CAD2F9"/>
<rect x="409.56" y="2000.22" width="7.60" height="7.60" fill="#CAD2F9"/>
<rect x="433.38" y="1995.72" width="7.60" height="7.60" fill="#CAD2F9"/>
<rect x="390.35" y="2026.65" width="7.60" height="7.60" fill="#CAD2F9"/>
<rect x="408.46" y="2023.44" width="7.60" height="7.60" fill="#CAD2F9"/>
<rect x="383.94" y="2040.26" width="7.60" height="7.60" fill="#CAD2F9"/>
<rect x="386.04" y="2043.46" width="7.60" height="7.60" fill="#CAD2F9"/>
<rect x="452.80" y="2037.06" width="7.60" height="7.60" fill="#CAD2F9"/>
<rect x="346.31" y="2049.07" width="7.60" height="7.60" fill="#CAD2F9"/>
<rect x="343.91" y="2059.48" width="7.60" height="7.60" fill="#CAD2F9"/>
<rect x="402.06" y="2057.88" width="7.60" height="7.60" fill="#CAD2F9"/>
<rect x="438.39" y="2052.27" width="7.60" height="7.60" fill="#CAD2F9"/>
<rect x="192.98" y="2075.00" width="7.60" height="7.60" fill="#CAD2F9"/>
<rect x="301.87" y="2080.30" width="7.60" height="7.60" fill="#CAD2F9"/>
<rect x="309.58" y="2081.90" width="7.60" height="7.60" fill="#CAD2F9"/>
<rect x="325.59" y="2076.30" width="7.60" height="7.60" fill="#CAD2F9"/>
<rect x="204.49" y="2095.02" width="7.60" height="7.60" fill="#CAD2F9"/>
<rect x="266.34" y="2093.12" width="7.60" height="7.60" fill="#CAD2F9"/>
<rect x="272.75" y="2101.62" width="7.60" height="7.60" fill="#CAD2F9"/>
<rect x="208.20" y="2114.24" width="7.60" height="7.60" fill="#CAD2F9"/>
<rect x="225.81" y="2111.03" width="7.60" height="7.60" fill="#CAD2F9"/>
<rect x="137.74" y="2121.94" width="7.60" height="7.60" fill="#CAD2F9"/>
<rect x="170.57" y="2129.95" width="7.60" height="7.60" fill="#CAD2F9"/>
<rect x="298.37" y="2129.95" width="7.60" height="7.60" fill="#CAD2F9"/>
<rect x="313.08" y="2123.05" width="7.60" height="7.60" fill="#CAD2F9"/>
<rect x="322.69" y="2116.34" width="7.60" height="7.60" fill="#CAD2F9"/>
<rect x="266.95" y="2135.06" width="7.60" height="7.60" fill="#CAD2F9"/>
<rect x="272.25" y="2140.86" width="7.60" height="7.60" fill="#CAD2F9"/>
<rect x="248.23" y="2144.67" width="7.60" height="7.60" fill="#CAD2F9"/>
<rect x="128.93" y="2160.68" width="7.60" height="7.60" fill="#CAD2F9"/>
<rect x="195.89" y="2159.88" width="7.60" height="7.60" fill="#CAD2F9"/>
<rect x="255.44" y="2160.68" width="7.60" height="7.60" fill="#CAD2F9"/>
<rect x="243.43" y="2174.30" width="7.60" height="7.60" fill="#CAD2F9"/>
<rect x="346.61" y="2073.90" width="7.60" height="7.60" fill="#CAD2F9"/>
<rect x="365.53" y="2075.00" width="7.60" height="7.60" fill="#CAD2F9"/>
<rect x="401.76" y="2073.09" width="7.60" height="7.60" fill="#CAD2F9"/>
<rect x="381.54" y="2091.81" width="7.60" height="7.60" fill="#CAD2F9"/>
<rect x="419.97" y="2097.92" width="7.60" height="7.60" fill="#CAD2F9"/>
<rect x="351.11" y="2117.14" width="7.60" height="7.60" fill="#CAD2F9"/>
<rect x="381.24" y="2127.55" width="7.60" height="7.60" fill="#CAD2F9"/>
<rect x="410.96" y="2125.95" width="7.60" height="7.60" fill="#CAD2F9"/>
<rect x="473.62" y="2121.64" width="7.60" height="7.60" fill="#CAD2F9"/>
<rect x="346.31" y="2141.46" width="7.60" height="7.60" fill="#CAD2F9"/>
<rect x="372.73" y="2155.58" width="7.60" height="7.60" fill="#CAD2F9"/>
<rect x="386.34" y="2157.18" width="7.60" height="7.60" fill="#CAD2F9"/>
<polygon points="301.47,1544.96 307.67,1555.76 295.27,1555.76" fill="#4169E1" fill-opacity="0.5"/>
<polygon points="194.18,1601.62 200.38,1612.42 187.98,1612.42" fill="#4169E1" fill-opacity="0.5"/>
<polygon points="413.36,1561.38 419.56,1572.18 407.16,1572.18" fill="#4169E1" fill-opacity="0.5"/>
<polygon points="276.05,1641.46 282.25,1652.26 269.85,1652.26" fill="#4169E1" fill-opacity="0.5"/>
<polygon points="228.81,1687.10 235.01,1697.90 222.61,1697.90" fill="#4169E1" fill-opacity="0.5"/>
<polygon points="234.82,1687.91 241.02,1698.71 228.62,1698.71" fill="#4169E1" fill-opacity="0.5"/>
<polygon points="255.83,1694.91 262.03,1705.71 249.63,1705.71" fill="#4169E1" fill-opacity="0.5"/>
<polygon points="323.89,1680.70 330.09,1691.50 317.69,1691.50" fill="#4169E1" fill-opacity="0.5"/>
<polygon points="335.30,1714.13 341.50,1724.93 329.10,1724.93" fill="#4169E1" fill-opacity="0.5"/>
<polygon points="352.91,1711.73 359.11,1722.53 346.71,1722.53" fill="#4169E1" fill-opacity="0.5"/>
<polygon points="242.42,1756.37 248.62,1767.17 236.22,1767.17" fill="#4169E1" fill-opacity="0.5"/>
<polygon points="248.43,1761.98 254.63,1772.78 242.23,1772.78" fill="#4169E1" fill-opacity="0.5"/>
<polygon points="244.22,1777.40 250.42,1788.20 238.02,1788.20" fill="#4169E1" fill-opacity="0.5"/>
<polygon points="218.80,1785.20 225.00,1796.00 212.60,1796.00" fill="#4169E1" fill-opacity="0.5"/>
<polygon points="296.47,1783.60 302.67,1794.40 290.27,1794.40" fill="#4169E1" fill-opacity="0.5"/>
<polygon points="310.48,1786.81 316.68,1797.61 304.28,1797.61" fill="#4169E1" fill-opacity="0.5"/>
<polygon points="298.07,1792.61 304.27,1803.41 291.87,1803.41" fill="#4169E1" fill-opacity="0.5"/>
<polygon points="258.84,1807.03 265.04,1817.83 252.64,1817.83" fill="#4169E1" fill-opacity="0.5"/>
<polygon points="228.21,1819.64 234.41,1830.44 222.01,1830.44" fill="#4169E1" fill-opacity="0.5"/>
<polygon points="308.88,1821.04 315.08,1831.84 302.68,1831.84" fill="#4169E1" fill-opacity="0.5"/>
<polygon points="355.92,1817.64 362.12,1828.44 349.72,1828.44" fill="#4169E1" fill-opacity="0.5"/>
<polygon points="210.20,1847.27 216.40,1858.07 204.00,1858.07" fill="#4169E1" fill-opacity="0.5"/>
<polygon points="391.34,1845.06 397.54,1855.86 385.14,1855.86" fill="#4169E1" fill-opacity="0.5"/>
<polygon points="352.31,1856.68 358.51,1867.48 346.11,1867.48" fill="#4169E1" fill-opacity="0.5"/>
<polygon points="422.97,1650.47 429.17,1661.27 416.77,1661.27" fill="#4169E1" fill-opacity="0.5"/>
<polygon points="436.18,1794.81 442.38,1805.61 429.98,1805.61" fill="#4169E1" fill-opacity="0.5"/>
<polygon points="450.19,1815.63 456.39,1826.43 443.99,1826.43" fill="#4169E1" fill-opacity="0.5"/>
<polygon points="569.69,1824.24 575.89,1835.04 563.49,1835.04" fill="#4169E1" fill-opacity="0.5"/>
<polygon points="410.86,1847.37 417.06,1858.17 404.66,1858.17" fill="#4169E1" fill-opacity="0.5"/>
<polygon points="328.59,1871.69 334.79,1882.49 322.39,1882.49" fill="#4169E1" fill-opacity="0.5"/>
<polygon points="340.00,1871.39 346.20,1882.19 333.80,1882.19" fill="#4169E1" fill-opacity="0.5"/>
<polygon points="291.26,1900.92 297.46,1911.72 285.06,1911.72" fill="#4169E1" fill-opacity="0.5"/>
<polygon points="385.04,1868.39 391.24,1879.19 378.84,1879.19" fill="#4169E1" fill-opacity="0.5"/>
<polygon points="415.46,1877.30 421.66,1888.10 409.26,1888.10" fill="#4169E1" fill-opacity="0.5"/>
<polygon points="423.67,1891.71 429.87,1902.51 417.47,1902.51" fill="#4169E1" fill-opacity="0.5"/>
<polygon points="389.14,1898.22 395.34,1909.02 382.94,1909.02" fill="#4169E1" fill-opacity="0.5"/>
<polygon points="418.50,1876.90 424.70,1887.70 412.30,1887.70" fill="#4169E1" fill-opacity="0.5"/>
<polygon points="496.93,1884.81 499.55,1889.79 504.53,1892.41 499.55,1895.02 496.93,1900.01 494.31,1895.02 489.33,1892.41 494.31,1889.79" fill="#F3B0D4"/>
<polygon points="517.15,1888.31 519.76,1893.29 524.75,1895.91 519.76,1898.53 517.15,1903.51 514.53,1898.53 509.55,1895.91 514.53,1893.29" fill="#F3B0D4"/>
<polygon points="568.99,1905.93 571.61,1910.91 576.59,1913.53 571.61,1916.15 568.99,1921.13 566.37,1916.15 561.39,1913.53 566.37,1910.91" fill="#F3B0D4"/>
<polygon points="455.30,1901.92 457.91,1906.91 462.90,1909.52 457.91,1912.14 455.30,1917.12 452.68,1912.14 447.70,1909.52 452.68,1906.91" fill="#F3B0D4"/>
<polygon points="474.21,1928.65 476.83,1933.64 481.81,1936.25 476.83,1938.87 474.21,1943.85 471.60,1938.87 466.61,1936.25 471.60,1933.64" fill="#F3B0D4"/>
<polygon points="488.62,1941.16 491.24,1946.15 496.22,1948.76 491.24,1951.38 488.62,1956.36 486.01,1951.38 481.02,1948.76 486.01,1946.15" fill="#F3B0D4"/>
<polygon points="549.97,1940.66 552.59,1945.65 557.57,1948.26 552.59,1950.88 549.97,1955.86 547.36,1950.88 542.37,1948.26 547.36,1945.65" fill="#F3B0D4"/>
<polygon points="461.10,1949.67 463.72,1954.66 468.70,1957.27 463.72,1959.89 461.10,1964.87 458.49,1959.89 453.50,1957.27 458.49,1954.66" fill="#F3B0D4"/>
<polygon points="499.33,1965.19 501.95,1970.17 506.93,1972.79 501.95,1975.41 499.33,1980.39 496.72,1975.41 491.73,1972.79 496.72,1970.17" fill="#F3B0D4"/>
<polygon points="522.75,1981.51 525.37,1986.49 530.35,1989.11 525.37,1991.72 522.75,1996.71 520.14,1991.72 515.15,1989.11 520.14,1986.49" fill="#F3B0D4"/>
<polygon points="558.58,1982.81 561.20,1987.79 566.18,1990.41 561.20,1993.02 558.58,1998.01 555.97,1993.02 550.98,1990.41 555.97,1987.79" fill="#F3B0D4"/>
<polygon points="499.83,1997.22 502.45,2002.21 507.43,2004.82 502.45,2007.44 499.83,2012.42 497.22,2007.44 492.23,2004.82 497.22,2002.21" fill="#F3B0D4"/>
<polygon points="564.69,2009.73 567.30,2014.72 572.29,2017.33 567.30,2019.95 564.69,2024.93 562.07,2019.95 557.09,2017.33 562.07,2014.72" fill="#F3B0D4"/>
<polygon points="491.83,2027.65 494.44,2032.64 499.43,2035.25 494.44,2037.87 491.83,2042.85 489.21,2037.87 484.23,2035.25 489.21,2032.64" fill="#F3B0D4"/>
<polygon points="503.84,2026.55 506.45,2031.54 511.44,2034.15 506.45,2036.77 503.84,2041.75 501.22,2036.77 496.24,2034.15 501.22,2031.54" fill="#F3B0D4"/>
<polygon points="519.55,2028.45 522.17,2033.44 527.15,2036.05 522.17,2038.67 519.55,2043.65 516.93,2038.67 511.95,2036.05 516.93,2033.44" fill="#F3B0D4"/>
<polygon points="539.07,2043.97 541.68,2048.95 546.67,2051.57 541.68,2054.19 539.07,2059.17 536.45,2054.19 531.47,2051.57 536.45,2048.95" fill="#F3B0D4"/>
<polygon points="553.98,2056.78 556.59,2061.77 561.58,2064.38 556.59,2067.00 553.98,2071.98 551.36,2067.00 546.38,2064.38 551.36,2061.77" fill="#F3B0D4"/>
<polygon points="643.55,1935.06 646.17,1940.04 651.15,1942.66 646.17,1945.27 643.55,1950.26 640.94,1945.27 635.95,1942.66 640.94,1940.04" fill="#F3B0D4"/>
<polygon points="478.22,2074.90 480.83,2079.88 485.82,2082.50 480.83,2085.12 478.22,2090.10 475.60,2085.12 470.62,2082.50 475.60,2079.88" fill="#F3B0D4"/>
<polygon points="504.34,2065.79 506.95,2070.77 511.94,2073.39 506.95,2076.01 504.34,2080.99 501.72,2076.01 496.74,2073.39 501.72,2070.77" fill="#F3B0D4"/>
<polygon points="495.53,2106.63 498.15,2111.62 503.13,2114.23 498.15,2116.85 495.53,2121.83 492.91,2116.85 487.93,2114.23 492.91,2111.62" fill="#F3B0D4"/>
<polygon points="594.71,2091.12 597.33,2096.10 602.31,2098.72 597.33,2101.33 594.71,2106.32 592.10,2101.33 587.11,2098.72 592.10,2096.10" fill="#F3B0D4"/>
<polygon points="586.21,1442.64 586.61,1434.14 594.81,1429.84 594.41,1438.34" fill="#AC90FF"/>
<polygon points="561.99,1610.61 562.39,1602.11 570.59,1597.81 570.19,1606.31" fill="#AC90FF"/>
<polygon points="527.76,1638.24 528.16,1629.74 536.36,1625.44 535.96,1633.94" fill="#AC90FF"/>
<polygon points="744.14,1537.74 744.54,1529.24 752.74,1524.94 752.34,1533.44" fill="#AC90FF"/>
<polygon points="698.10,1626.23 698.50,1617.73 706.70,1613.43 706.30,1621.93" fill="#AC90FF"/>
<polygon points="965.72,1632.64 966.12,1624.14 974.32,1619.84 973.92,1628.34" fill="#AC90FF"/>
<polygon points="557.78,1654.26 558.18,1645.76 566.38,1641.46 565.98,1649.96" fill="#AC90FF"/>
<polygon points="439.09,1699.91 439.49,1691.41 447.69,1687.11 447.29,1695.61" fill="#AC90FF"/>
<polygon points="449.10,1703.91 449.50,1695.41 457.70,1691.11 457.30,1699.61" fill="#AC90FF"/>
<polygon points="527.36,1722.33 527.76,1713.83 535.96,1709.53 535.56,1718.03" fill="#AC90FF"/>
<polygon points="489.13,1740.95 489.53,1732.45 497.73,1728.15 497.33,1736.65" fill="#AC90FF"/>
<polygon points="644.26,1701.31 644.66,1692.81 652.86,1688.51 652.46,1697.01" fill="#AC90FF"/>
<polygon points="639.25,1731.94 639.65,1723.44 647.85,1719.14 647.45,1727.64" fill="#AC90FF"/>
<polygon points="573.00,1803.61 573.40,1795.11 581.60,1790.81 581.20,1799.31" fill="#AC90FF"/>
<polygon points="956.91,1656.46 957.31,1647.96 965.51,1643.66 965.11,1652.16" fill="#AC90FF"/>
<polygon points="780.77,1665.47 781.17,1656.97 789.37,1652.67 788.97,1661.17" fill="#AC90FF"/>
<polygon points="875.05,1717.72 875.45,1709.22 883.65,1704.92 883.25,1713.42" fill="#AC90FF"/>
<polygon points="697.10,1738.14 697.50,1729.64 705.70,1725.34 705.30,1733.84" fill="#AC90FF"/>
<polygon points="709.91,1804.01 710.31,1795.51 718.51,1791.21 718.11,1799.71" fill="#AC90FF"/>
<polygon points="785.57,1856.86 785.97,1848.36 794.17,1844.06 793.77,1852.56" fill="#AC90FF"/>
<polygon points="882.65,1853.26 883.05,1844.76 891.25,1840.46 890.85,1848.96" fill="#AC90FF"/>
<polygon points="657.36,1883.60 652.42,1886.18 651.48,1891.68 647.50,1887.78 641.98,1888.59 644.46,1883.60 641.98,1878.60 647.50,1879.41 651.48,1875.51 652.42,1881.01" fill="#DD7ACB"/>
<polygon points="604.01,2014.13 599.07,2016.72 598.14,2022.21 594.15,2018.32 588.64,2019.13 591.11,2014.13 588.64,2009.13 594.15,2009.95 598.14,2006.05 599.07,2011.54" fill="#DD7ACB"/>
<polygon points="721.71,2036.55 716.77,2039.14 715.84,2044.64 711.85,2040.74 706.33,2041.55 708.81,2036.55 706.33,2031.56 711.85,2032.37 715.84,2028.47 716.77,2033.97" fill="#DD7ACB"/>
<polygon points="874.63,1926.34 869.69,1928.93 868.76,1934.43 864.77,1930.53 859.26,1931.34 861.73,1926.34 859.26,1921.35 864.77,1922.16 868.76,1918.26 869.69,1923.76" fill="#DD7ACB"/>
<polygon points="821.19,1968.58 816.25,1971.17 815.32,1976.67 811.33,1972.77 805.81,1973.58 808.29,1968.58 805.81,1963.59 811.33,1964.40 815.32,1960.50 816.25,1966.00" fill="#DD7ACB"/>
<polygon points="864.23,1983.00 859.29,1985.59 858.35,1991.08 854.37,1987.18 848.85,1988.00 851.33,1983.00 848.85,1978.00 854.37,1978.81 858.35,1974.92 859.29,1980.41" fill="#DD7ACB"/>
<polygon points="855.82,1998.21 850.88,2000.80 849.95,2006.30 845.96,2002.40 840.44,2003.21 842.92,1998.21 840.44,1993.22 845.96,1994.03 849.95,1990.13 850.88,1995.63" fill="#DD7ACB"/>
<polygon points="711.30,2081.30 706.36,2083.89 705.43,2089.38 701.44,2085.48 695.92,2086.30 698.40,2081.30 695.92,2076.30 701.44,2077.11 705.43,2073.22 706.36,2078.71" fill="#DD7ACB"/>
<polygon points="784.36,2084.30 779.42,2086.89 778.49,2092.39 774.50,2088.49 768.98,2089.30 771.46,2084.30 768.98,2079.31 774.50,2080.12 778.49,2076.22 779.42,2081.72" fill="#DD7ACB"/>
<polygon points="947.97,1788.94 948.72,1793.52 953.15,1794.90 949.56,1797.84 950.58,1802.37 946.24,1800.73 942.83,1803.88 942.08,1799.30 937.64,1797.92 941.24,1794.98 940.22,1790.45 944.56,1792.09" fill="#DA5087"/>
<polygon points="1026.24,1760.51 1026.98,1765.09 1031.42,1766.47 1027.82,1769.41 1028.85,1773.94 1024.50,1772.30 1021.09,1775.45 1020.34,1770.87 1015.91,1769.49 1019.50,1766.55 1018.48,1762.02 1022.82,1763.66" fill="#DA5087"/>
<polygon points="1073.68,1777.33 1074.42,1781.91 1078.86,1783.29 1075.26,1786.23 1076.29,1790.76 1071.94,1789.12 1068.53,1792.27 1067.78,1787.68 1063.35,1786.31 1066.94,1783.37 1065.92,1778.84 1070.26,1780.48" fill="#DA5087"/>
<polygon points="1013.63,1883.64 1014.37,1888.22 1018.81,1889.60 1015.21,1892.54 1016.24,1897.07 1011.89,1895.43 1008.48,1898.58 1007.73,1893.99 1003.30,1892.61 1006.89,1889.67 1005.87,1885.14 1010.21,1886.79" fill="#DA5087"/>
<polygon points="956.18,1934.29 956.93,1938.87 961.36,1940.25 957.77,1943.19 958.79,1947.72 954.45,1946.08 951.03,1949.23 950.29,1944.64 945.85,1943.26 949.45,1940.32 948.42,1935.80 952.77,1937.44" fill="#DA5087"/>
<polygon points="940.17,1956.71 940.91,1961.29 945.35,1962.67 941.75,1965.61 942.78,1970.14 938.43,1968.50 935.02,1971.65 934.27,1967.07 929.84,1965.69 933.43,1962.75 932.41,1958.22 936.75,1959.86" fill="#DA5087"/>
<polygon points="1047.85,2015.17 1048.60,2019.75 1053.04,2021.13 1049.44,2024.07 1050.46,2028.60 1046.12,2026.96 1042.71,2030.11 1041.96,2025.53 1037.53,2024.15 1041.12,2021.21 1040.10,2016.68 1044.44,2018.32" fill="#DA5087"/>
<polygon points="1148.94,2062.82 1149.69,2067.40 1154.12,2068.78 1150.53,2071.72 1151.55,2076.25 1147.20,2074.61 1143.79,2077.76 1143.04,2073.17 1138.61,2071.80 1142.20,2068.86 1141.18,2064.33 1145.53,2065.97" fill="#DA5087"/>
<polygon points="1126.82,2126.18 1127.57,2130.77 1132.00,2132.15 1128.41,2135.08 1129.43,2139.61 1125.09,2137.97 1121.67,2141.12 1120.93,2136.54 1116.49,2135.16 1120.09,2132.22 1119.06,2127.69 1123.41,2129.33" fill="#DA5087"/>
<polygon points="979.03,1473.49 980.46,1477.34 984.04,1475.31 982.66,1479.19 986.71,1479.94 983.16,1482.02 985.78,1485.19 981.73,1484.51 981.70,1488.62 979.03,1485.49 976.36,1488.62 976.33,1484.51 972.27,1485.19 974.89,1482.02 971.35,1479.94 975.39,1479.19 974.01,1475.31 977.59,1477.34" fill="#B000FF"/>
<polygon points="1140.56,1400.82 1142.00,1404.67 1145.57,1402.64 1144.20,1406.52 1148.24,1407.26 1144.70,1409.35 1147.32,1412.52 1143.26,1411.83 1143.23,1415.95 1140.56,1412.82 1137.89,1415.95 1137.86,1411.83 1133.81,1412.52 1136.42,1409.35 1132.88,1407.26 1136.92,1406.52 1135.55,1402.64 1139.12,1404.67" fill="#B000FF"/>
<polygon points="1180.19,1444.26 1181.63,1448.11 1185.21,1446.08 1183.83,1449.96 1187.87,1450.71 1184.33,1452.79 1186.95,1455.96 1182.89,1455.28 1182.86,1459.39 1180.19,1456.26 1177.53,1459.39 1177.49,1455.28 1173.44,1455.96 1176.06,1452.79 1172.51,1450.71 1176.56,1449.96 1175.18,1446.08 1178.76,1448.11" fill="#B000FF"/>
<polygon points="1140.56,1513.33 1142.00,1517.18 1145.57,1515.16 1144.20,1519.03 1148.24,1519.78 1144.70,1521.86 1147.32,1525.03 1143.26,1524.35 1143.23,1528.46 1140.56,1525.33 1137.89,1528.46 1137.86,1524.35 1133.81,1525.03 1136.42,1521.86 1132.88,1519.78 1136.92,1519.03 1135.55,1515.16 1139.12,1517.18" fill="#B000FF"/>
<polygon points="1074.51,1538.96 1075.94,1542.81 1079.52,1540.78 1078.14,1544.66 1082.19,1545.40 1078.64,1547.49 1081.26,1550.66 1077.21,1549.97 1077.17,1554.09 1074.51,1550.96 1071.84,1554.09 1071.81,1549.97 1067.75,1550.66 1070.37,1547.49 1066.82,1545.40 1070.87,1544.66 1069.49,1540.78 1073.07,1542.81" fill="#B000FF"/>
<polygon points="1113.94,1582.40 1115.37,1586.25 1118.95,1584.23 1117.58,1588.10 1121.62,1588.85 1118.07,1590.93 1120.69,1594.10 1116.64,1593.42 1116.61,1597.53 1113.94,1594.40 1111.27,1597.53 1111.24,1593.42 1107.18,1594.10 1109.80,1590.93 1106.26,1588.85 1110.30,1588.10 1108.92,1584.23 1112.50,1586.25" fill="#B000FF"/>
<polygon points="1038.08,1631.05 1039.51,1634.90 1043.09,1632.87 1041.71,1636.75 1045.76,1637.50 1042.21,1639.58 1044.83,1642.75 1040.78,1642.07 1040.74,1646.18 1038.08,1643.05 1035.41,1646.18 1035.38,1642.07 1031.32,1642.75 1033.94,1639.58 1030.39,1637.50 1034.44,1636.75 1033.06,1632.87 1036.64,1634.90" fill="#B000FF"/>
</svg></body></html>
